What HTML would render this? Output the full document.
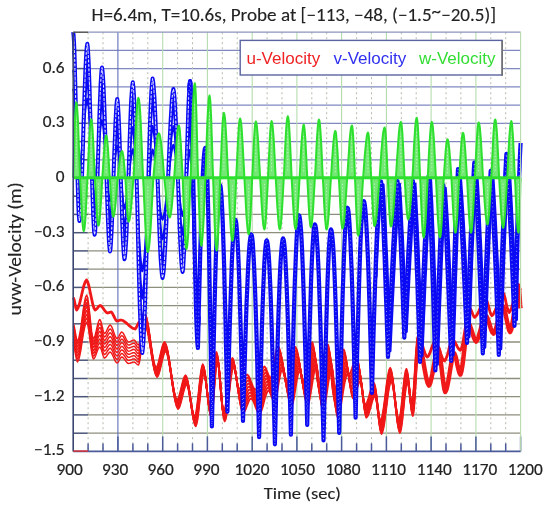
<!DOCTYPE html>
<html><head><meta charset="utf-8"><style>
html,body{margin:0;padding:0;background:#fff;}
svg{display:block;}
.tk{font-family:Carlito,"Liberation Sans",sans-serif;font-size:16px;fill:#222;stroke:#222;stroke-width:0.2px;}
.lg{font-family:"Liberation Sans",Arial,sans-serif;font-size:17px;}
.ti{font-family:Carlito,"Liberation Sans",sans-serif;font-size:18.5px;fill:#222;stroke:#222;stroke-width:0.12px;}
</style></head><body>
<svg width="550" height="508" viewBox="0 0 550 508">
<rect width="550" height="508" fill="#fff"/>
<line x1="88.2" y1="50.4" x2="520.6" y2="50.4" stroke="#7f88c0" stroke-width="1.3"/>
<line x1="73.2" y1="50.4" x2="88.2" y2="50.4" stroke="#4a5578" stroke-width="1.5"/>
<line x1="88.2" y1="68.6" x2="520.6" y2="68.6" stroke="#7f88c0" stroke-width="1.3"/>
<line x1="73.2" y1="68.6" x2="88.2" y2="68.6" stroke="#4a5578" stroke-width="1.5"/>
<line x1="88.2" y1="86.9" x2="520.6" y2="86.9" stroke="#7f88c0" stroke-width="1.3"/>
<line x1="73.2" y1="86.9" x2="88.2" y2="86.9" stroke="#4a5578" stroke-width="1.5"/>
<line x1="88.2" y1="105.1" x2="520.6" y2="105.1" stroke="#7f88c0" stroke-width="1.3"/>
<line x1="73.2" y1="105.1" x2="88.2" y2="105.1" stroke="#4a5578" stroke-width="1.5"/>
<line x1="88.2" y1="123.3" x2="520.6" y2="123.3" stroke="#7f88c0" stroke-width="1.3"/>
<line x1="73.2" y1="123.3" x2="88.2" y2="123.3" stroke="#4a5578" stroke-width="1.5"/>
<line x1="88.2" y1="141.6" x2="520.6" y2="141.6" stroke="#7f88c0" stroke-width="1.3"/>
<line x1="73.2" y1="141.6" x2="88.2" y2="141.6" stroke="#4a5578" stroke-width="1.5"/>
<line x1="88.2" y1="159.8" x2="520.6" y2="159.8" stroke="#7f88c0" stroke-width="1.3"/>
<line x1="73.2" y1="159.8" x2="88.2" y2="159.8" stroke="#4a5578" stroke-width="1.5"/>
<line x1="88.2" y1="178.0" x2="520.6" y2="178.0" stroke="#8e8e7e" stroke-width="1.3"/>
<line x1="73.2" y1="178.0" x2="88.2" y2="178.0" stroke="#4a5578" stroke-width="1.5"/>
<line x1="88.2" y1="196.2" x2="520.6" y2="196.2" stroke="#8e8e7e" stroke-width="1.3"/>
<line x1="73.2" y1="196.2" x2="88.2" y2="196.2" stroke="#4a5578" stroke-width="1.5"/>
<line x1="88.2" y1="214.4" x2="520.6" y2="214.4" stroke="#8e8e7e" stroke-width="1.3"/>
<line x1="73.2" y1="214.4" x2="88.2" y2="214.4" stroke="#4a5578" stroke-width="1.5"/>
<line x1="88.2" y1="232.7" x2="520.6" y2="232.7" stroke="#8e8e7e" stroke-width="1.3"/>
<line x1="73.2" y1="232.7" x2="88.2" y2="232.7" stroke="#4a5578" stroke-width="1.5"/>
<line x1="88.2" y1="250.9" x2="520.6" y2="250.9" stroke="#8e8e7e" stroke-width="1.3"/>
<line x1="73.2" y1="250.9" x2="88.2" y2="250.9" stroke="#4a5578" stroke-width="1.5"/>
<line x1="88.2" y1="269.1" x2="520.6" y2="269.1" stroke="#8e8e7e" stroke-width="1.3"/>
<line x1="73.2" y1="269.1" x2="88.2" y2="269.1" stroke="#4a5578" stroke-width="1.5"/>
<line x1="88.2" y1="287.4" x2="520.6" y2="287.4" stroke="#8e8e7e" stroke-width="1.3"/>
<line x1="73.2" y1="287.4" x2="88.2" y2="287.4" stroke="#4a5578" stroke-width="1.5"/>
<line x1="88.2" y1="305.6" x2="520.6" y2="305.6" stroke="#8e8e7e" stroke-width="1.3"/>
<line x1="73.2" y1="305.6" x2="88.2" y2="305.6" stroke="#4a5578" stroke-width="1.5"/>
<line x1="88.2" y1="323.8" x2="520.6" y2="323.8" stroke="#8e8e7e" stroke-width="1.3"/>
<line x1="73.2" y1="323.8" x2="88.2" y2="323.8" stroke="#4a5578" stroke-width="1.5"/>
<line x1="88.2" y1="342.0" x2="520.6" y2="342.0" stroke="#8e8e7e" stroke-width="1.3"/>
<line x1="73.2" y1="342.0" x2="88.2" y2="342.0" stroke="#4a5578" stroke-width="1.5"/>
<line x1="88.2" y1="360.2" x2="520.6" y2="360.2" stroke="#8e8e7e" stroke-width="1.3"/>
<line x1="73.2" y1="360.2" x2="88.2" y2="360.2" stroke="#4a5578" stroke-width="1.5"/>
<line x1="88.2" y1="378.5" x2="520.6" y2="378.5" stroke="#8e8e7e" stroke-width="1.3"/>
<line x1="73.2" y1="378.5" x2="88.2" y2="378.5" stroke="#4a5578" stroke-width="1.5"/>
<line x1="88.2" y1="396.7" x2="520.6" y2="396.7" stroke="#8e8e7e" stroke-width="1.3"/>
<line x1="73.2" y1="396.7" x2="88.2" y2="396.7" stroke="#4a5578" stroke-width="1.5"/>
<line x1="88.2" y1="414.9" x2="520.6" y2="414.9" stroke="#8e8e7e" stroke-width="1.3"/>
<line x1="73.2" y1="414.9" x2="88.2" y2="414.9" stroke="#4a5578" stroke-width="1.5"/>
<line x1="88.2" y1="433.2" x2="520.6" y2="433.2" stroke="#8e8e7e" stroke-width="1.3"/>
<line x1="73.2" y1="433.2" x2="88.2" y2="433.2" stroke="#4a5578" stroke-width="1.5"/>
<line x1="88.1" y1="32.2" x2="88.1" y2="451.4" stroke="#b4bcaa" stroke-width="1" stroke-dasharray="2 3"/>
<line x1="103.0" y1="32.2" x2="103.0" y2="451.4" stroke="#b4bcaa" stroke-width="1" stroke-dasharray="2 3"/>
<line x1="117.9" y1="32.2" x2="117.9" y2="451.4" stroke="#6070b8" stroke-width="1.1"/>
<line x1="132.9" y1="32.2" x2="132.9" y2="451.4" stroke="#b4bcaa" stroke-width="1" stroke-dasharray="2 3"/>
<line x1="147.8" y1="32.2" x2="147.8" y2="451.4" stroke="#b4bcaa" stroke-width="1" stroke-dasharray="2 3"/>
<line x1="162.7" y1="32.2" x2="162.7" y2="451.4" stroke="#b6dcae" stroke-width="1.1"/>
<line x1="177.6" y1="32.2" x2="177.6" y2="451.4" stroke="#b4bcaa" stroke-width="1" stroke-dasharray="2 3"/>
<line x1="192.5" y1="32.2" x2="192.5" y2="451.4" stroke="#b4bcaa" stroke-width="1" stroke-dasharray="2 3"/>
<line x1="207.4" y1="32.2" x2="207.4" y2="451.4" stroke="#b6dcae" stroke-width="1.1"/>
<line x1="222.3" y1="32.2" x2="222.3" y2="451.4" stroke="#b4bcaa" stroke-width="1" stroke-dasharray="2 3"/>
<line x1="237.2" y1="32.2" x2="237.2" y2="451.4" stroke="#b4bcaa" stroke-width="1" stroke-dasharray="2 3"/>
<line x1="252.2" y1="32.2" x2="252.2" y2="451.4" stroke="#b6dcae" stroke-width="1.1"/>
<line x1="267.1" y1="32.2" x2="267.1" y2="451.4" stroke="#b4bcaa" stroke-width="1" stroke-dasharray="2 3"/>
<line x1="282.0" y1="32.2" x2="282.0" y2="451.4" stroke="#b4bcaa" stroke-width="1" stroke-dasharray="2 3"/>
<line x1="296.9" y1="32.2" x2="296.9" y2="451.4" stroke="#b6dcae" stroke-width="1.1"/>
<line x1="311.8" y1="32.2" x2="311.8" y2="451.4" stroke="#b4bcaa" stroke-width="1" stroke-dasharray="2 3"/>
<line x1="326.7" y1="32.2" x2="326.7" y2="451.4" stroke="#b4bcaa" stroke-width="1" stroke-dasharray="2 3"/>
<line x1="341.6" y1="32.2" x2="341.6" y2="451.4" stroke="#b6dcae" stroke-width="1.1"/>
<line x1="356.6" y1="32.2" x2="356.6" y2="451.4" stroke="#b4bcaa" stroke-width="1" stroke-dasharray="2 3"/>
<line x1="371.5" y1="32.2" x2="371.5" y2="451.4" stroke="#b4bcaa" stroke-width="1" stroke-dasharray="2 3"/>
<line x1="386.4" y1="32.2" x2="386.4" y2="451.4" stroke="#b6dcae" stroke-width="1.1"/>
<line x1="401.3" y1="32.2" x2="401.3" y2="451.4" stroke="#b4bcaa" stroke-width="1" stroke-dasharray="2 3"/>
<line x1="416.2" y1="32.2" x2="416.2" y2="451.4" stroke="#b4bcaa" stroke-width="1" stroke-dasharray="2 3"/>
<line x1="431.1" y1="32.2" x2="431.1" y2="451.4" stroke="#b6dcae" stroke-width="1.1"/>
<line x1="446.0" y1="32.2" x2="446.0" y2="451.4" stroke="#b4bcaa" stroke-width="1" stroke-dasharray="2 3"/>
<line x1="460.9" y1="32.2" x2="460.9" y2="451.4" stroke="#b4bcaa" stroke-width="1" stroke-dasharray="2 3"/>
<line x1="475.9" y1="32.2" x2="475.9" y2="451.4" stroke="#b6dcae" stroke-width="1.1"/>
<line x1="490.8" y1="32.2" x2="490.8" y2="451.4" stroke="#b4bcaa" stroke-width="1" stroke-dasharray="2 3"/>
<line x1="505.7" y1="32.2" x2="505.7" y2="451.4" stroke="#b4bcaa" stroke-width="1" stroke-dasharray="2 3"/>
<line x1="88.1" y1="443.4" x2="88.1" y2="451.4" stroke="#4a5a9a" stroke-width="1.5"/>
<line x1="103.0" y1="443.4" x2="103.0" y2="451.4" stroke="#4a5a9a" stroke-width="1.5"/>
<line x1="117.9" y1="436.4" x2="117.9" y2="451.4" stroke="#4a5a9a" stroke-width="1.5"/>
<line x1="132.9" y1="443.4" x2="132.9" y2="451.4" stroke="#4a5a9a" stroke-width="1.5"/>
<line x1="147.8" y1="443.4" x2="147.8" y2="451.4" stroke="#4a5a9a" stroke-width="1.5"/>
<line x1="162.7" y1="436.4" x2="162.7" y2="451.4" stroke="#4a5a9a" stroke-width="1.5"/>
<line x1="177.6" y1="443.4" x2="177.6" y2="451.4" stroke="#4a5a9a" stroke-width="1.5"/>
<line x1="192.5" y1="443.4" x2="192.5" y2="451.4" stroke="#4a5a9a" stroke-width="1.5"/>
<line x1="207.4" y1="436.4" x2="207.4" y2="451.4" stroke="#4a5a9a" stroke-width="1.5"/>
<line x1="222.3" y1="443.4" x2="222.3" y2="451.4" stroke="#4a5a9a" stroke-width="1.5"/>
<line x1="237.2" y1="443.4" x2="237.2" y2="451.4" stroke="#4a5a9a" stroke-width="1.5"/>
<line x1="252.2" y1="436.4" x2="252.2" y2="451.4" stroke="#4a5a9a" stroke-width="1.5"/>
<line x1="267.1" y1="443.4" x2="267.1" y2="451.4" stroke="#4a5a9a" stroke-width="1.5"/>
<line x1="282.0" y1="443.4" x2="282.0" y2="451.4" stroke="#4a5a9a" stroke-width="1.5"/>
<line x1="296.9" y1="436.4" x2="296.9" y2="451.4" stroke="#4a5a9a" stroke-width="1.5"/>
<line x1="311.8" y1="443.4" x2="311.8" y2="451.4" stroke="#4a5a9a" stroke-width="1.5"/>
<line x1="326.7" y1="443.4" x2="326.7" y2="451.4" stroke="#4a5a9a" stroke-width="1.5"/>
<line x1="341.6" y1="436.4" x2="341.6" y2="451.4" stroke="#4a5a9a" stroke-width="1.5"/>
<line x1="356.6" y1="443.4" x2="356.6" y2="451.4" stroke="#4a5a9a" stroke-width="1.5"/>
<line x1="371.5" y1="443.4" x2="371.5" y2="451.4" stroke="#4a5a9a" stroke-width="1.5"/>
<line x1="386.4" y1="436.4" x2="386.4" y2="451.4" stroke="#4a5a9a" stroke-width="1.5"/>
<line x1="401.3" y1="443.4" x2="401.3" y2="451.4" stroke="#4a5a9a" stroke-width="1.5"/>
<line x1="416.2" y1="443.4" x2="416.2" y2="451.4" stroke="#4a5a9a" stroke-width="1.5"/>
<line x1="431.1" y1="436.4" x2="431.1" y2="451.4" stroke="#4a5a9a" stroke-width="1.5"/>
<line x1="446.0" y1="443.4" x2="446.0" y2="451.4" stroke="#4a5a9a" stroke-width="1.5"/>
<line x1="460.9" y1="443.4" x2="460.9" y2="451.4" stroke="#4a5a9a" stroke-width="1.5"/>
<line x1="475.9" y1="436.4" x2="475.9" y2="451.4" stroke="#4a5a9a" stroke-width="1.5"/>
<line x1="490.8" y1="443.4" x2="490.8" y2="451.4" stroke="#4a5a9a" stroke-width="1.5"/>
<line x1="505.7" y1="443.4" x2="505.7" y2="451.4" stroke="#4a5a9a" stroke-width="1.5"/>
<line x1="520.6" y1="436.4" x2="520.6" y2="451.4" stroke="#4a5a9a" stroke-width="1.5"/>
<g id="curves">
<path d="M73.2,323.5 L73.7,324.4 L74.3,326.3 L74.8,329.1 L75.3,332.2 L75.9,335.4 L76.4,338.2 L77.0,340.1 L77.5,341.0 L78.7,338.6 L79.8,333.5 L81.0,326.3 L82.1,318.0 L83.2,309.7 L84.4,302.5 L85.5,297.4 L86.7,295.0 L87.5,297.2 L88.4,302.1 L89.2,309.0 L90.1,317.0 L90.9,325.0 L91.7,331.9 L92.6,336.8 L93.4,339.0 L94.2,338.0 L95.0,335.8 L95.8,332.8 L96.6,329.2 L97.4,325.7 L98.2,322.7 L99.0,320.5 L99.8,319.5 L100.4,320.2 L101.0,321.8 L101.6,324.0 L102.2,326.5 L102.7,329.0 L103.3,331.2 L103.9,332.8 L104.5,333.5 L105.2,333.1 L105.9,332.1 L106.6,330.8 L107.3,329.2 L108.1,327.7 L108.8,326.4 L109.5,325.4 L110.2,325.0 L111.0,325.7 L111.9,327.2 L112.8,329.3 L113.6,331.8 L114.5,334.3 L115.3,336.4 L116.2,337.9 L117.0,338.6 L117.6,338.3 L118.2,337.5 L118.8,336.5 L119.4,335.3 L120.0,334.1 L120.6,333.1 L121.2,332.3 L121.8,332.0 L122.6,332.5 L123.5,333.6 L124.3,335.2 L125.2,337.0 L126.0,338.8 L126.8,340.4 L127.7,341.5 L128.5,342.0 L129.2,341.9 L129.9,341.7 L130.6,341.4 L131.2,341.0 L131.9,340.6 L132.6,340.3 L133.3,340.1 L134.0,340.0 L134.6,340.3 L135.1,340.8 L135.7,341.6 L136.2,342.5 L136.8,343.4 L137.4,344.2 L137.9,344.7 L138.5,345.0 L139.3,343.4 L140.1,339.8 L140.9,334.8 L141.7,329.0 L142.4,323.2 L143.2,318.2 L144.0,314.6 L144.8,313.0" fill="none" stroke="#f01818" stroke-width="1.45" stroke-linejoin="round"/>
<path d="M73.2,326.6 L73.7,327.5 L74.3,329.4 L74.8,332.1 L75.3,335.3 L75.9,338.4 L76.4,341.2 L77.0,343.1 L77.5,344.0 L78.7,341.7 L79.8,336.7 L81.0,329.6 L82.1,321.4 L83.2,313.2 L84.4,306.2 L85.5,301.2 L86.7,298.9 L87.5,301.1 L88.4,305.8 L89.2,312.6 L90.1,320.4 L90.9,328.2 L91.7,334.9 L92.6,339.7 L93.4,341.9 L94.2,340.9 L95.0,338.9 L95.8,336.0 L96.6,332.6 L97.4,329.3 L98.2,326.4 L99.0,324.4 L99.8,323.4 L100.4,324.1 L101.0,325.6 L101.6,327.8 L102.2,330.2 L102.7,332.7 L103.3,334.8 L103.9,336.3 L104.5,337.0 L105.2,336.6 L105.9,335.7 L106.6,334.4 L107.3,332.9 L108.1,331.5 L108.8,330.2 L109.5,329.3 L110.2,328.9 L111.0,329.5 L111.9,331.0 L112.8,333.1 L113.6,335.5 L114.5,337.9 L115.3,339.9 L116.2,341.4 L117.0,342.1 L117.6,341.8 L118.2,341.0 L118.8,340.0 L119.4,338.8 L120.0,337.6 L120.6,336.6 L121.2,335.9 L121.8,335.6 L122.6,336.1 L123.5,337.1 L124.3,338.6 L125.2,340.3 L126.0,342.0 L126.8,343.5 L127.7,344.6 L128.5,345.1 L129.2,345.0 L129.9,344.8 L130.6,344.5 L131.2,344.1 L131.9,343.8 L132.6,343.5 L133.3,343.2 L134.0,343.1 L134.6,343.4 L135.1,343.9 L135.7,344.6 L136.2,345.5 L136.8,346.4 L137.4,347.1 L137.9,347.6 L138.5,347.9 L139.3,346.2 L140.1,342.5 L140.9,337.3 L141.7,331.4 L142.4,325.4 L143.2,320.2 L144.0,316.5 L144.8,314.9" fill="none" stroke="#f01818" stroke-width="1.45" stroke-linejoin="round"/>
<path d="M73.2,329.6 L73.7,330.5 L74.3,332.5 L74.8,335.2 L75.3,338.3 L75.9,341.5 L76.4,344.2 L77.0,346.1 L77.5,347.0 L78.7,344.7 L79.8,339.8 L81.0,332.9 L82.1,324.9 L83.2,316.8 L84.4,309.9 L85.5,305.0 L86.7,302.7 L87.5,304.9 L88.4,309.5 L89.2,316.1 L90.1,323.7 L90.9,331.3 L91.7,337.9 L92.6,342.6 L93.4,344.7 L94.2,343.8 L95.0,341.9 L95.8,339.2 L96.6,336.0 L97.4,332.9 L98.2,330.2 L99.0,328.2 L99.8,327.4 L100.4,328.0 L101.0,329.5 L101.6,331.5 L102.2,333.9 L102.7,336.3 L103.3,338.4 L103.9,339.8 L104.5,340.5 L105.2,340.1 L105.9,339.2 L106.6,338.0 L107.3,336.6 L108.1,335.2 L108.8,334.0 L109.5,333.1 L110.2,332.7 L111.0,333.4 L111.9,334.8 L112.8,336.8 L113.6,339.1 L114.5,341.5 L115.3,343.5 L116.2,344.9 L117.0,345.6 L117.6,345.2 L118.2,344.5 L118.8,343.5 L119.4,342.4 L120.0,341.2 L120.6,340.2 L121.2,339.5 L121.8,339.1 L122.6,339.6 L123.5,340.6 L124.3,342.0 L125.2,343.6 L126.0,345.3 L126.8,346.7 L127.7,347.7 L128.5,348.1 L129.2,348.0 L129.9,347.8 L130.6,347.6 L131.2,347.2 L131.9,346.9 L132.6,346.6 L133.3,346.4 L134.0,346.3 L134.6,346.5 L135.1,347.0 L135.7,347.7 L136.2,348.5 L136.8,349.3 L137.4,350.0 L137.9,350.5 L138.5,350.7 L139.3,349.0 L140.1,345.2 L140.9,339.9 L141.7,333.7 L142.4,327.5 L143.2,322.2 L144.0,318.5 L144.8,316.7" fill="none" stroke="#f01818" stroke-width="1.45" stroke-linejoin="round"/>
<path d="M73.2,332.7 L73.7,333.6 L74.3,335.5 L74.8,338.2 L75.3,341.4 L75.9,344.5 L76.4,347.2 L77.0,349.1 L77.5,350.0 L78.7,347.8 L79.8,343.0 L81.0,336.2 L82.1,328.3 L83.2,320.4 L84.4,313.6 L85.5,308.8 L86.7,306.6 L87.5,308.7 L88.4,313.2 L89.2,319.6 L90.1,327.1 L90.9,334.5 L91.7,340.9 L92.6,345.5 L93.4,347.6 L94.2,346.7 L95.0,344.9 L95.8,342.4 L96.6,339.4 L97.4,336.5 L98.2,333.9 L99.0,332.1 L99.8,331.3 L100.4,331.9 L101.0,333.3 L101.6,335.3 L102.2,337.6 L102.7,339.9 L103.3,341.9 L103.9,343.4 L104.5,344.0 L105.2,343.6 L105.9,342.8 L106.6,341.6 L107.3,340.3 L108.1,338.9 L108.8,337.8 L109.5,337.0 L110.2,336.6 L111.0,337.2 L111.9,338.6 L112.8,340.5 L113.6,342.8 L114.5,345.1 L115.3,347.0 L116.2,348.4 L117.0,349.1 L117.6,348.7 L118.2,348.0 L118.8,347.0 L119.4,345.9 L120.0,344.7 L120.6,343.7 L121.2,343.0 L121.8,342.7 L122.6,343.1 L123.5,344.1 L124.3,345.4 L125.2,347.0 L126.0,348.5 L126.8,349.8 L127.7,350.8 L128.5,351.2 L129.2,351.1 L129.9,350.9 L130.6,350.6 L131.2,350.3 L131.9,350.0 L132.6,349.7 L133.3,349.5 L134.0,349.4 L134.6,349.6 L135.1,350.1 L135.7,350.7 L136.2,351.5 L136.8,352.3 L137.4,352.9 L137.9,353.4 L138.5,353.6 L139.3,351.8 L140.1,347.9 L140.9,342.4 L141.7,336.1 L142.4,329.7 L143.2,324.2 L144.0,320.4 L144.8,318.6" fill="none" stroke="#f01818" stroke-width="1.45" stroke-linejoin="round"/>
<path d="M73.2,335.8 L73.7,336.7 L74.3,338.6 L74.8,341.3 L75.3,344.4 L75.9,347.5 L76.4,350.2 L77.0,352.1 L77.5,353.0 L78.7,350.8 L79.8,346.1 L81.0,339.4 L82.1,331.7 L83.2,324.0 L84.4,317.3 L85.5,312.6 L86.7,310.4 L87.5,312.5 L88.4,316.9 L89.2,323.2 L90.1,330.4 L90.9,337.7 L91.7,343.9 L92.6,348.4 L93.4,350.4 L94.2,349.7 L95.0,348.0 L95.8,345.6 L96.6,342.8 L97.4,340.1 L98.2,337.7 L99.0,336.0 L99.8,335.2 L100.4,335.8 L101.0,337.2 L101.6,339.1 L102.2,341.4 L102.7,343.6 L103.3,345.5 L103.9,346.9 L104.5,347.5 L105.2,347.1 L105.9,346.4 L106.6,345.2 L107.3,344.0 L108.1,342.7 L108.8,341.6 L109.5,340.8 L110.2,340.4 L111.0,341.0 L111.9,342.4 L112.8,344.3 L113.6,346.5 L114.5,348.7 L115.3,350.6 L116.2,351.9 L117.0,352.5 L117.6,352.2 L118.2,351.5 L118.8,350.5 L119.4,349.4 L120.0,348.3 L120.6,347.3 L121.2,346.6 L121.8,346.3 L122.6,346.7 L123.5,347.6 L124.3,348.8 L125.2,350.3 L126.0,351.7 L126.8,353.0 L127.7,353.9 L128.5,354.3 L129.2,354.2 L129.9,354.0 L130.6,353.7 L131.2,353.4 L131.9,353.1 L132.6,352.8 L133.3,352.7 L134.0,352.6 L134.6,352.8 L135.1,353.2 L135.7,353.8 L136.2,354.5 L136.8,355.2 L137.4,355.8 L137.9,356.2 L138.5,356.4 L139.3,354.6 L140.1,350.6 L140.9,345.0 L141.7,338.4 L142.4,331.9 L143.2,326.3 L144.0,322.3 L144.8,320.4" fill="none" stroke="#f01818" stroke-width="1.45" stroke-linejoin="round"/>
<path d="M73.2,338.9 L73.7,339.7 L74.3,341.6 L74.8,344.3 L75.3,347.4 L75.9,350.5 L76.4,353.2 L77.0,355.1 L77.5,356.0 L78.7,353.9 L79.8,349.2 L81.0,342.7 L82.1,335.1 L83.2,327.6 L84.4,321.0 L85.5,316.4 L86.7,314.3 L87.5,316.3 L88.4,320.6 L89.2,326.7 L90.1,333.8 L90.9,340.9 L91.7,347.0 L92.6,351.3 L93.4,353.3 L94.2,352.6 L95.0,351.0 L95.8,348.8 L96.6,346.2 L97.4,343.6 L98.2,341.4 L99.0,339.9 L99.8,339.1 L100.4,339.7 L101.0,341.1 L101.6,342.9 L102.2,345.1 L102.7,347.2 L103.3,349.1 L103.9,350.4 L104.5,351.0 L105.2,350.7 L105.9,349.9 L106.6,348.9 L107.3,347.6 L108.1,346.4 L108.8,345.4 L109.5,344.6 L110.2,344.3 L111.0,344.9 L111.9,346.2 L112.8,348.0 L113.6,350.2 L114.5,352.3 L115.3,354.1 L116.2,355.4 L117.0,356.0 L117.6,355.7 L118.2,355.0 L118.8,354.1 L119.4,352.9 L120.0,351.8 L120.6,350.9 L121.2,350.2 L121.8,349.9 L122.6,350.2 L123.5,351.1 L124.3,352.2 L125.2,353.6 L126.0,355.0 L126.8,356.1 L127.7,357.0 L128.5,357.4 L129.2,357.3 L129.9,357.1 L130.6,356.8 L131.2,356.5 L131.9,356.2 L132.6,356.0 L133.3,355.8 L134.0,355.7 L134.6,355.9 L135.1,356.3 L135.7,356.9 L136.2,357.5 L136.8,358.1 L137.4,358.7 L137.9,359.1 L138.5,359.3 L139.3,357.4 L140.1,353.3 L140.9,347.5 L141.7,340.8 L142.4,334.1 L143.2,328.3 L144.0,324.2 L144.8,322.3" fill="none" stroke="#f01818" stroke-width="1.45" stroke-linejoin="round"/>
<path d="M73.2,341.9 L73.7,342.8 L74.3,344.7 L74.8,347.4 L75.3,350.5 L75.9,353.6 L76.4,356.2 L77.0,358.1 L77.5,359.0 L78.7,356.9 L79.8,352.4 L81.0,346.0 L82.1,338.6 L83.2,331.2 L84.4,324.8 L85.5,320.2 L86.7,318.1 L87.5,320.1 L88.4,324.3 L89.2,330.3 L90.1,337.1 L90.9,344.0 L91.7,350.0 L92.6,354.2 L93.4,356.1 L94.2,355.5 L95.0,354.0 L95.8,352.0 L96.6,349.6 L97.4,347.2 L98.2,345.2 L99.0,343.7 L99.8,343.1 L100.4,343.7 L101.0,344.9 L101.6,346.7 L102.2,348.8 L102.7,350.9 L103.3,352.6 L103.9,353.9 L104.5,354.5 L105.2,354.2 L105.9,353.5 L106.6,352.5 L107.3,351.3 L108.1,350.2 L108.8,349.2 L109.5,348.5 L110.2,348.1 L111.0,348.7 L111.9,350.0 L112.8,351.8 L113.6,353.8 L114.5,355.9 L115.3,357.7 L116.2,358.9 L117.0,359.5 L117.6,359.2 L118.2,358.5 L118.8,357.6 L119.4,356.5 L120.0,355.4 L120.6,354.4 L121.2,353.7 L121.8,353.4 L122.6,353.8 L123.5,354.6 L124.3,355.7 L125.2,356.9 L126.0,358.2 L126.8,359.3 L127.7,360.1 L128.5,360.4 L129.2,360.3 L129.9,360.2 L130.6,359.9 L131.2,359.6 L131.9,359.4 L132.6,359.1 L133.3,358.9 L134.0,358.9 L134.6,359.0 L135.1,359.4 L135.7,359.9 L136.2,360.5 L136.8,361.1 L137.4,361.6 L137.9,362.0 L138.5,362.1 L139.3,360.2 L140.1,356.0 L140.9,350.0 L141.7,343.1 L142.4,336.3 L143.2,330.3 L144.0,326.1 L144.8,324.1" fill="none" stroke="#f01818" stroke-width="1.45" stroke-linejoin="round"/>
<path d="M73.2,345.0 L73.7,345.9 L74.3,347.8 L74.8,350.4 L75.3,353.5 L75.9,356.6 L76.4,359.2 L77.0,361.1 L77.5,362.0 L78.7,360.0 L79.8,355.5 L81.0,349.3 L82.1,342.0 L83.2,334.7 L84.4,328.5 L85.5,324.0 L86.7,322.0 L87.5,323.9 L88.4,328.0 L89.2,333.8 L90.1,340.5 L90.9,347.2 L91.7,353.0 L92.6,357.1 L93.4,359.0 L94.2,358.4 L95.0,357.1 L95.8,355.2 L96.6,353.0 L97.4,350.8 L98.2,348.9 L99.0,347.6 L99.8,347.0 L100.4,347.6 L101.0,348.8 L101.6,350.5 L102.2,352.5 L102.7,354.5 L103.3,356.2 L103.9,357.4 L104.5,358.0 L105.2,357.7 L105.9,357.0 L106.6,356.1 L107.3,355.0 L108.1,353.9 L108.8,353.0 L109.5,352.3 L110.2,352.0 L111.0,352.6 L111.9,353.8 L112.8,355.5 L113.6,357.5 L114.5,359.5 L115.3,361.2 L116.2,362.4 L117.0,363.0 L117.6,362.7 L118.2,362.0 L118.8,361.1 L119.4,360.0 L120.0,358.9 L120.6,358.0 L121.2,357.3 L121.8,357.0 L122.6,357.3 L123.5,358.1 L124.3,359.1 L125.2,360.2 L126.0,361.4 L126.8,362.4 L127.7,363.2 L128.5,363.5 L129.2,363.4 L129.9,363.3 L130.6,363.0 L131.2,362.8 L131.9,362.5 L132.6,362.2 L133.3,362.1 L134.0,362.0 L134.6,362.2 L135.1,362.5 L135.7,363.0 L136.2,363.5 L136.8,364.0 L137.4,364.5 L137.9,364.8 L138.5,365.0 L139.3,363.0 L140.1,358.7 L140.9,352.6 L141.7,345.5 L142.4,338.4 L143.2,332.3 L144.0,328.0 L144.8,326.0" fill="none" stroke="#f01818" stroke-width="1.45" stroke-linejoin="round"/>
<path d="M144.8,313.5 L145.9,315.5 L147.0,319.6 L148.2,325.5 L149.3,332.8 L150.4,340.8 L151.5,348.7 L152.6,356.0 L153.8,361.9 L154.9,366.0 L156.0,368.0 L156.9,367.1 L157.7,365.1 L158.6,362.3 L159.4,358.8 L160.3,355.0 L161.2,351.2 L162.0,347.7 L162.9,344.9 L163.7,342.9 L164.6,342.0 L165.8,344.1 L167.1,348.4 L168.3,354.8 L169.6,362.5 L170.8,371.0 L172.0,379.5 L173.3,387.2 L174.5,393.6 L175.8,397.9 L177.0,400.0 L177.9,399.1 L178.7,397.3 L179.6,394.6 L180.4,391.3 L181.3,387.7 L182.2,384.0 L183.0,380.7 L183.9,378.0 L184.7,376.2 L185.6,375.3 L186.5,376.8 L187.4,380.0 L188.3,384.5 L189.2,390.2 L190.1,396.3 L191.1,402.4 L192.0,408.1 L192.9,412.6 L193.8,415.8 L194.7,417.3 L195.5,415.4 L196.3,411.4 L197.1,405.6 L197.9,398.6 L198.8,390.8 L199.6,383.0 L200.4,376.0 L201.2,370.2 L202.0,366.2 L202.8,364.3 L203.5,365.9 L204.3,369.2 L205.0,373.9 L205.8,379.8 L206.5,386.1 L207.2,392.5 L208.0,398.4 L208.7,403.1 L209.5,406.4 L210.2,408.0 L210.8,406.0 L211.4,401.8 L212.1,395.7 L212.7,388.2 L213.3,380.0 L213.9,371.8 L214.5,364.3 L215.2,358.2 L215.8,354.0 L216.4,352.0 L217.1,354.2 L217.9,358.7 L218.6,365.3 L219.3,373.4 L220.1,382.2 L220.8,391.0 L221.5,399.1 L222.2,405.7 L223.0,410.2 L223.7,412.4 L224.6,410.5 L225.4,406.4 L226.3,400.4 L227.2,393.2 L228.1,385.2 L228.9,377.2 L229.8,370.0 L230.7,364.0 L231.5,359.9 L232.4,358.0 L233.1,359.1 L233.7,361.4 L234.4,364.8 L235.0,369.0 L235.7,373.5 L236.4,378.0 L237.0,382.2 L237.7,385.6 L238.3,387.9 L239.0,389.0 L239.8,388.5 L240.6,387.4 L241.4,385.8 L242.2,383.8 L243.0,381.7 L243.8,379.6 L244.6,377.6 L245.4,376.0 L246.2,374.9 L247.0,374.4 L247.8,375.0 L248.7,376.1 L249.6,377.8 L250.4,379.8 L251.2,382.1 L252.1,384.4 L252.9,386.4 L253.8,388.1 L254.7,389.2 L255.5,389.8 L256.4,389.0 L257.3,387.2 L258.2,384.7 L259.1,381.6 L259.9,378.2 L260.8,374.7 L261.7,371.6 L262.6,369.1 L263.5,367.3 L264.4,366.5 L265.0,366.9 L265.6,367.8 L266.2,369.0 L266.8,370.6 L267.4,372.2 L268.1,373.9 L268.7,375.5 L269.3,376.7 L269.9,377.6 L270.5,378.0 L271.2,376.9 L272.0,374.4 L272.8,371.0 L273.5,366.7 L274.2,362.0 L275.0,357.3 L275.8,353.0 L276.5,349.6 L277.2,347.1 L278.0,346.0 L278.9,347.3 L279.9,350.0 L280.9,353.9 L281.8,358.7 L282.8,364.0 L283.7,369.3 L284.6,374.1 L285.6,378.0 L286.6,380.7 L287.5,382.0 L288.3,380.7 L289.1,378.1 L289.9,374.3 L290.7,369.6 L291.5,364.5 L292.3,359.4 L293.1,354.7 L293.9,350.9 L294.7,348.3 L295.5,347.0 L296.3,348.2 L297.1,350.8 L297.9,354.5 L298.7,359.1 L299.5,364.1 L300.3,369.1 L301.1,373.7 L301.9,377.4 L302.7,380.0 L303.5,381.2 L304.4,379.8 L305.3,376.9 L306.1,372.6 L307.0,367.4 L307.9,361.8 L308.8,356.1 L309.7,350.9 L310.5,346.6 L311.4,343.7 L312.3,342.3 L312.9,343.9 L313.6,347.2 L314.2,351.9 L314.9,357.8 L315.6,364.1 L316.2,370.5 L316.9,376.4 L317.5,381.1 L318.2,384.4 L318.8,386.0 L319.7,384.5 L320.6,381.4 L321.6,376.9 L322.5,371.4 L323.4,365.3 L324.3,359.2 L325.2,353.7 L326.2,349.2 L327.1,346.1 L328.0,344.6 L328.6,346.3 L329.1,350.0 L329.6,355.3 L330.2,361.7 L330.8,368.8 L331.3,375.9 L331.9,382.3 L332.4,387.6 L332.9,391.3 L333.5,393.0 L334.5,391.4 L335.5,388.2 L336.6,383.4 L337.6,377.6 L338.6,371.2 L339.6,364.8 L340.6,359.0 L341.7,354.2 L342.7,351.0 L343.7,349.4 L344.2,350.3 L344.8,352.2 L345.3,354.9 L345.8,358.2 L346.4,361.8 L346.9,365.5 L347.4,368.8 L347.9,371.5 L348.5,373.4 L349.0,374.3 L349.8,373.7 L350.5,372.4 L351.2,370.5 L352.0,368.2 L352.8,365.7 L353.5,363.1 L354.2,360.8 L355.0,358.9 L355.8,357.6 L356.5,357.0 L357.4,358.7 L358.3,362.3 L359.1,367.5 L360.0,373.9 L360.9,380.8 L361.8,387.8 L362.7,394.2 L363.5,399.4 L364.4,403.0 L365.3,404.7 L366.2,403.9 L367.0,402.3 L367.9,399.9 L368.8,397.0 L369.6,393.9 L370.5,390.7 L371.4,387.8 L372.3,385.4 L373.1,383.8 L374.0,383.0 L374.6,384.4 L375.3,387.2 L375.9,391.4 L376.6,396.4 L377.2,402.0 L377.9,407.6 L378.6,412.6 L379.2,416.8 L379.9,419.6 L380.5,421.0 L381.5,419.1 L382.4,415.1 L383.4,409.3 L384.4,402.2 L385.4,394.4 L386.3,386.6 L387.3,379.5 L388.3,373.7 L389.2,369.7 L390.2,367.8 L391.1,369.7 L391.9,373.6 L392.8,379.3 L393.7,386.3 L394.5,393.9 L395.4,401.5 L396.3,408.5 L397.2,414.2 L398.0,418.1 L398.9,420.0 L399.6,418.2 L400.4,414.3 L401.1,408.7 L401.9,401.9 L402.6,394.4 L403.4,387.0 L404.1,380.2 L404.9,374.6 L405.6,370.7 L406.4,368.9 L406.9,370.1 L407.5,372.7 L408.0,376.4 L408.6,381.0 L409.1,385.9 L409.6,390.9 L410.2,395.5 L410.7,399.2 L411.3,401.8 L411.8,403.0 L412.4,400.6 L413.0,395.4 L413.7,388.0 L414.3,379.0 L414.9,369.0 L415.5,359.0 L416.1,350.0 L416.8,342.6 L417.4,337.4 L418.0,335.0" fill="none" stroke="#f01818" stroke-width="1.8" stroke-linejoin="round"/>
<path d="M144.8,314.8 L145.9,316.8 L147.1,320.9 L148.2,326.8 L149.3,334.0 L150.5,342.0 L151.6,349.9 L152.7,357.2 L153.9,363.1 L155.0,367.2 L156.1,369.1 L157.0,368.2 L157.8,366.2 L158.7,363.4 L159.6,359.9 L160.4,356.1 L161.3,352.3 L162.1,348.8 L163.0,346.0 L163.9,344.1 L164.7,343.1 L166.0,345.2 L167.2,349.6 L168.4,355.9 L169.7,363.6 L170.9,372.1 L172.2,380.6 L173.4,388.4 L174.7,394.7 L175.9,399.0 L177.1,401.1 L178.0,400.2 L178.8,398.4 L179.7,395.7 L180.6,392.4 L181.4,388.8 L182.3,385.2 L183.1,381.9 L184.0,379.2 L184.9,377.3 L185.7,376.4 L186.6,377.9 L187.5,381.1 L188.5,385.7 L189.4,391.3 L190.3,397.4 L191.2,403.6 L192.1,409.2 L193.0,413.8 L193.9,416.9 L194.8,418.4 L195.6,416.5 L196.4,412.5 L197.3,406.8 L198.1,399.7 L198.9,391.9 L199.7,384.2 L200.5,377.1 L201.3,371.3 L202.1,367.3 L202.9,365.4 L203.7,367.0 L204.4,370.3 L205.2,375.0 L205.9,380.9 L206.6,387.3 L207.4,393.7 L208.1,399.5 L208.8,404.3 L209.6,407.6 L210.3,409.1 L210.9,407.1 L211.6,402.9 L212.2,396.8 L212.8,389.3 L213.4,381.1 L214.0,372.9 L214.7,365.5 L215.3,359.4 L215.9,355.1 L216.5,353.1 L217.3,355.3 L218.0,359.8 L218.7,366.4 L219.4,374.5 L220.2,383.3 L220.9,392.2 L221.6,400.2 L222.4,406.8 L223.1,411.4 L223.8,413.5 L224.7,411.6 L225.6,407.5 L226.4,401.5 L227.3,394.3 L228.2,386.3 L229.0,378.4 L229.9,371.1 L230.8,365.2 L231.7,361.1 L232.5,359.1 L233.2,360.3 L233.9,362.8 L234.6,366.4 L235.3,370.8 L236.0,375.6 L236.7,380.4 L237.4,384.8 L238.1,388.3 L238.8,390.8 L239.5,392.0 L240.3,391.5 L241.1,390.4 L241.9,388.8 L242.7,386.8 L243.5,384.7 L244.3,382.6 L245.1,380.6 L245.9,379.0 L246.7,377.9 L247.5,377.4 L248.3,378.0 L249.2,379.1 L250.1,380.8 L250.9,382.8 L251.8,385.1 L252.6,387.4 L253.4,389.4 L254.3,391.1 L255.2,392.2 L256.0,392.8 L256.9,392.0 L257.8,390.2 L258.7,387.7 L259.6,384.6 L260.4,381.2 L261.3,377.7 L262.2,374.6 L263.1,372.1 L264.0,370.3 L264.9,369.5 L265.5,369.9 L266.1,370.8 L266.7,372.0 L267.3,373.6 L267.9,375.2 L268.6,376.9 L269.2,378.5 L269.8,379.7 L270.4,380.6 L271.0,381.0 L271.8,379.9 L272.5,377.4 L273.2,374.0 L274.0,369.7 L274.8,365.0 L275.5,360.3 L276.2,356.0 L277.0,352.6 L277.8,350.1 L278.5,349.0 L279.4,350.3 L280.4,353.0 L281.4,356.9 L282.3,361.7 L283.2,367.0 L284.2,372.3 L285.1,377.1 L286.1,381.0 L287.1,383.7 L288.0,385.0 L288.8,383.7 L289.6,381.1 L290.4,377.3 L291.2,372.6 L292.0,367.5 L292.8,362.4 L293.6,357.7 L294.4,353.9 L295.2,351.3 L296.0,350.0 L296.8,351.2 L297.6,353.8 L298.4,357.5 L299.2,362.1 L300.0,367.1 L300.8,372.1 L301.6,376.7 L302.4,380.4 L303.2,383.0 L304.0,384.2 L304.9,382.8 L305.8,379.9 L306.6,375.6 L307.5,370.4 L308.4,364.8 L309.3,359.1 L310.2,353.9 L311.0,349.6 L311.9,346.7 L312.8,345.3 L313.4,346.9 L314.1,350.2 L314.8,354.9 L315.4,360.8 L316.1,367.1 L316.7,373.5 L317.4,379.4 L318.0,384.1 L318.7,387.4 L319.3,389.0 L320.2,387.5 L321.1,384.4 L322.1,379.9 L323.0,374.4 L323.9,368.3 L324.8,362.2 L325.7,356.7 L326.7,352.2 L327.6,349.1 L328.5,347.6 L329.1,349.3 L329.6,353.0 L330.1,358.3 L330.7,364.7 L331.2,371.8 L331.8,378.9 L332.4,385.3 L332.9,390.6 L333.4,394.3 L334.0,396.0 L335.0,394.4 L336.0,391.2 L337.1,386.4 L338.1,380.6 L339.1,374.2 L340.1,367.8 L341.1,362.0 L342.2,357.2 L343.2,354.0 L344.2,352.4 L344.7,353.3 L345.3,355.2 L345.8,357.9 L346.3,361.2 L346.9,364.8 L347.4,368.5 L347.9,371.8 L348.4,374.5 L349.0,376.4 L349.5,377.3 L350.2,376.7 L351.0,375.4 L351.8,373.5 L352.5,371.2 L353.2,368.7 L354.0,366.1 L354.8,363.8 L355.5,361.9 L356.2,360.6 L357.0,360.0 L357.8,361.7 L358.7,365.1 L359.5,370.2 L360.4,376.4 L361.2,383.2 L362.1,389.9 L362.9,396.1 L363.7,401.2 L364.6,404.7 L365.4,406.3 L366.3,405.5 L367.2,403.9 L368.0,401.5 L368.9,398.7 L369.8,395.5 L370.6,392.3 L371.5,389.4 L372.4,387.0 L373.3,385.4 L374.1,384.6 L374.8,386.0 L375.4,388.8 L376.1,393.0 L376.7,398.1 L377.4,403.6 L378.0,409.2 L378.7,414.3 L379.3,418.4 L380.0,421.3 L380.6,422.6 L381.6,420.7 L382.6,416.7 L383.5,410.9 L384.5,403.8 L385.5,396.0 L386.4,388.2 L387.4,381.1 L388.4,375.3 L389.4,371.3 L390.3,369.4 L391.2,371.3 L392.1,375.2 L392.9,380.9 L393.8,387.9 L394.7,395.5 L395.5,403.2 L396.4,410.1 L397.3,415.8 L398.2,419.8 L399.0,421.6 L399.8,419.8 L400.5,415.9 L401.3,410.4 L402.0,403.6 L402.8,396.1 L403.5,388.6 L404.3,381.8 L405.0,376.2 L405.8,372.4 L406.5,370.5 L407.1,371.7 L407.6,374.3 L408.1,378.0 L408.7,382.6 L409.2,387.6 L409.8,392.6 L410.3,397.1 L410.9,400.8 L411.4,403.4 L411.9,404.6 L412.6,402.2 L413.2,397.0 L413.8,389.5 L414.4,380.4 L415.0,370.4 L415.6,360.4 L416.3,351.2 L416.9,343.7 L417.5,338.6 L418.1,336.1" fill="none" stroke="#f01818" stroke-width="1.8" stroke-linejoin="round"/>
<path d="M144.8,316.1 L145.9,318.1 L147.1,322.1 L148.2,328.0 L149.4,335.3 L150.5,343.2 L151.7,351.1 L152.8,358.3 L154.0,364.2 L155.1,368.3 L156.3,370.2 L157.1,369.3 L158.0,367.4 L158.8,364.5 L159.7,361.1 L160.6,357.2 L161.4,353.4 L162.3,350.0 L163.1,347.1 L164.0,345.2 L164.9,344.2 L166.1,346.3 L167.3,350.7 L168.6,357.0 L169.8,364.8 L171.1,373.2 L172.3,381.7 L173.5,389.5 L174.8,395.8 L176.0,400.2 L177.3,402.2 L178.1,401.4 L179.0,399.5 L179.8,396.8 L180.7,393.5 L181.6,389.9 L182.4,386.3 L183.3,383.0 L184.1,380.3 L185.0,378.4 L185.9,377.6 L186.8,379.1 L187.7,382.2 L188.6,386.8 L189.5,392.4 L190.4,398.6 L191.3,404.7 L192.2,410.3 L193.1,414.9 L194.0,418.0 L195.0,419.6 L195.8,417.7 L196.6,413.7 L197.4,407.9 L198.2,400.8 L199.0,393.1 L199.8,385.3 L200.6,378.2 L201.4,372.4 L202.2,368.4 L203.1,366.6 L203.8,368.1 L204.5,371.4 L205.3,376.2 L206.0,382.0 L206.8,388.4 L207.5,394.8 L208.2,400.6 L209.0,405.4 L209.7,408.7 L210.5,410.2 L211.1,408.2 L211.7,404.0 L212.3,397.9 L212.9,390.4 L213.6,382.2 L214.2,374.1 L214.8,366.6 L215.4,360.5 L216.0,356.3 L216.7,354.2 L217.4,356.4 L218.1,361.0 L218.8,367.5 L219.6,375.6 L220.3,384.4 L221.0,393.3 L221.8,401.4 L222.5,407.9 L223.2,412.5 L224.0,414.6 L224.8,412.7 L225.7,408.6 L226.6,402.7 L227.4,395.4 L228.3,387.4 L229.2,379.5 L230.0,372.2 L230.9,366.3 L231.8,362.2 L232.7,360.2 L233.4,361.5 L234.1,364.1 L234.9,367.9 L235.6,372.5 L236.3,377.6 L237.1,382.7 L237.8,387.3 L238.5,391.1 L239.3,393.8 L240.0,395.0 L240.8,394.5 L241.6,393.4 L242.4,391.8 L243.2,389.8 L244.0,387.7 L244.8,385.6 L245.6,383.6 L246.4,382.0 L247.2,380.9 L248.0,380.4 L248.8,381.0 L249.7,382.1 L250.6,383.8 L251.4,385.8 L252.2,388.1 L253.1,390.4 L253.9,392.4 L254.8,394.1 L255.7,395.2 L256.5,395.8 L257.4,395.0 L258.3,393.2 L259.2,390.7 L260.1,387.6 L260.9,384.2 L261.8,380.7 L262.7,377.6 L263.6,375.1 L264.5,373.3 L265.4,372.5 L266.0,372.9 L266.6,373.8 L267.2,375.0 L267.8,376.6 L268.4,378.2 L269.1,379.9 L269.7,381.5 L270.3,382.7 L270.9,383.6 L271.5,384.0 L272.2,382.9 L273.0,380.4 L273.8,377.0 L274.5,372.7 L275.2,368.0 L276.0,363.3 L276.8,359.0 L277.5,355.6 L278.2,353.1 L279.0,352.0 L279.9,353.3 L280.9,356.0 L281.9,359.9 L282.8,364.7 L283.8,370.0 L284.7,375.3 L285.6,380.1 L286.6,384.0 L287.6,386.7 L288.5,388.0 L289.3,386.7 L290.1,384.1 L290.9,380.3 L291.7,375.6 L292.5,370.5 L293.3,365.4 L294.1,360.7 L294.9,356.9 L295.7,354.3 L296.5,353.0 L297.3,354.2 L298.1,356.8 L298.9,360.5 L299.7,365.1 L300.5,370.1 L301.3,375.1 L302.1,379.7 L302.9,383.4 L303.7,386.0 L304.5,387.2 L305.4,385.8 L306.3,382.9 L307.1,378.6 L308.0,373.4 L308.9,367.8 L309.8,362.1 L310.7,356.9 L311.5,352.6 L312.4,349.7 L313.3,348.3 L313.9,349.9 L314.6,353.2 L315.2,357.9 L315.9,363.8 L316.6,370.1 L317.2,376.5 L317.9,382.4 L318.5,387.1 L319.2,390.4 L319.8,392.0 L320.7,390.5 L321.6,387.4 L322.6,382.9 L323.5,377.4 L324.4,371.3 L325.3,365.2 L326.2,359.7 L327.2,355.2 L328.1,352.1 L329.0,350.6 L329.6,352.3 L330.1,356.0 L330.6,361.3 L331.2,367.7 L331.8,374.8 L332.3,381.9 L332.9,388.3 L333.4,393.6 L333.9,397.3 L334.5,399.0 L335.5,397.4 L336.5,394.2 L337.6,389.4 L338.6,383.6 L339.6,377.2 L340.6,370.8 L341.6,365.0 L342.7,360.2 L343.7,357.0 L344.7,355.4 L345.2,356.3 L345.8,358.2 L346.3,360.9 L346.8,364.2 L347.4,367.8 L347.9,371.5 L348.4,374.8 L348.9,377.5 L349.5,379.4 L350.0,380.3 L350.8,379.7 L351.5,378.4 L352.2,376.5 L353.0,374.2 L353.8,371.7 L354.5,369.1 L355.2,366.8 L356.0,364.9 L356.8,363.6 L357.5,363.0 L358.3,364.6 L359.1,368.0 L359.9,372.9 L360.7,378.9 L361.5,385.5 L362.3,392.1 L363.1,398.1 L363.9,403.0 L364.8,406.3 L365.6,407.9 L366.4,407.2 L367.3,405.5 L368.2,403.2 L369.0,400.3 L369.9,397.1 L370.8,393.9 L371.6,391.0 L372.5,388.7 L373.4,387.0 L374.3,386.2 L374.9,387.6 L375.6,390.5 L376.2,394.6 L376.9,399.7 L377.5,405.2 L378.2,410.8 L378.8,415.9 L379.5,420.0 L380.1,422.9 L380.8,424.2 L381.7,422.3 L382.7,418.3 L383.7,412.5 L384.6,405.4 L385.6,397.7 L386.6,389.9 L387.5,382.8 L388.5,377.0 L389.5,373.0 L390.5,371.1 L391.3,372.9 L392.2,376.9 L393.1,382.5 L393.9,389.5 L394.8,397.1 L395.7,404.8 L396.5,411.8 L397.4,417.4 L398.3,421.4 L399.2,423.2 L399.9,421.4 L400.7,417.6 L401.4,412.0 L402.2,405.2 L402.9,397.7 L403.7,390.2 L404.4,383.4 L405.2,377.8 L405.9,374.0 L406.7,372.1 L407.2,373.4 L407.7,375.9 L408.3,379.7 L408.8,384.2 L409.4,389.2 L409.9,394.2 L410.4,398.7 L411.0,402.5 L411.5,405.0 L412.1,406.2 L412.7,403.8 L413.3,398.6 L413.9,391.1 L414.5,381.8 L415.2,371.8 L415.8,361.7 L416.4,352.4 L417.0,344.9 L417.6,339.7 L418.3,337.2" fill="none" stroke="#f01818" stroke-width="1.8" stroke-linejoin="round"/>
<path d="M144.8,317.4 L146.0,319.4 L147.1,323.4 L148.3,329.3 L149.4,336.5 L150.6,344.4 L151.8,352.3 L152.9,359.5 L154.1,365.4 L155.2,369.4 L156.4,371.4 L157.2,370.4 L158.1,368.5 L159.0,365.7 L159.8,362.2 L160.7,358.4 L161.5,354.6 L162.4,351.1 L163.3,348.3 L164.1,346.3 L165.0,345.4 L166.2,347.5 L167.5,351.8 L168.7,358.1 L169.9,365.9 L171.2,374.4 L172.4,382.9 L173.7,390.6 L174.9,396.9 L176.1,401.3 L177.4,403.4 L178.2,402.5 L179.1,400.6 L180.0,397.9 L180.8,394.6 L181.7,391.0 L182.5,387.4 L183.4,384.1 L184.3,381.4 L185.1,379.6 L186.0,378.7 L186.9,380.2 L187.8,383.3 L188.7,387.9 L189.6,393.5 L190.5,399.7 L191.4,405.8 L192.4,411.4 L193.3,416.0 L194.2,419.2 L195.1,420.7 L195.9,418.8 L196.7,414.8 L197.5,409.0 L198.3,401.9 L199.1,394.2 L199.9,386.4 L200.8,379.3 L201.6,373.6 L202.4,369.6 L203.2,367.7 L203.9,369.2 L204.7,372.5 L205.4,377.3 L206.1,383.1 L206.9,389.5 L207.6,395.9 L208.4,401.8 L209.1,406.5 L209.8,409.8 L210.6,411.4 L211.2,409.4 L211.8,405.1 L212.4,399.0 L213.1,391.6 L213.7,383.4 L214.3,375.2 L214.9,367.7 L215.5,361.6 L216.2,357.4 L216.8,355.4 L217.5,357.5 L218.2,362.1 L219.0,368.7 L219.7,376.7 L220.4,385.6 L221.2,394.4 L221.9,402.5 L222.6,409.1 L223.4,413.6 L224.1,415.8 L225.0,413.8 L225.8,409.7 L226.7,403.8 L227.6,396.5 L228.4,388.6 L229.3,380.6 L230.2,373.4 L231.0,367.4 L231.9,363.3 L232.8,361.4 L233.6,362.7 L234.3,365.4 L235.1,369.4 L235.9,374.3 L236.6,379.7 L237.4,385.0 L238.2,389.9 L239.0,393.9 L239.7,396.7 L240.5,398.0 L241.3,397.5 L242.1,396.4 L242.9,394.8 L243.7,392.8 L244.5,390.7 L245.3,388.6 L246.1,386.6 L246.9,385.0 L247.7,383.9 L248.5,383.4 L249.3,384.0 L250.2,385.1 L251.1,386.8 L251.9,388.8 L252.8,391.1 L253.6,393.4 L254.4,395.4 L255.3,397.1 L256.1,398.2 L257.0,398.8 L257.9,398.0 L258.8,396.2 L259.7,393.7 L260.6,390.6 L261.4,387.2 L262.3,383.7 L263.2,380.6 L264.1,378.1 L265.0,376.3 L265.9,375.5 L266.5,375.9 L267.1,376.8 L267.7,378.0 L268.3,379.6 L268.9,381.2 L269.6,382.9 L270.2,384.5 L270.8,385.7 L271.4,386.6 L272.0,387.0 L272.8,385.9 L273.5,383.4 L274.2,380.0 L275.0,375.7 L275.8,371.0 L276.5,366.3 L277.2,362.0 L278.0,358.6 L278.8,356.1 L279.5,355.0 L280.4,356.3 L281.4,359.0 L282.4,362.9 L283.3,367.7 L284.2,373.0 L285.2,378.3 L286.1,383.1 L287.1,387.0 L288.1,389.7 L289.0,391.0 L289.8,389.7 L290.6,387.1 L291.4,383.3 L292.2,378.6 L293.0,373.5 L293.8,368.4 L294.6,363.7 L295.4,359.9 L296.2,357.3 L297.0,356.0 L297.8,357.2 L298.6,359.8 L299.4,363.5 L300.2,368.1 L301.0,373.1 L301.8,378.1 L302.6,382.7 L303.4,386.4 L304.2,389.0 L305.0,390.2 L305.9,388.8 L306.8,385.9 L307.6,381.6 L308.5,376.4 L309.4,370.8 L310.3,365.1 L311.2,359.9 L312.0,355.6 L312.9,352.7 L313.8,351.3 L314.4,352.9 L315.1,356.2 L315.8,360.9 L316.4,366.8 L317.1,373.1 L317.7,379.5 L318.4,385.4 L319.0,390.1 L319.7,393.4 L320.3,395.0 L321.2,393.5 L322.1,390.4 L323.1,385.9 L324.0,380.4 L324.9,374.3 L325.8,368.2 L326.7,362.7 L327.7,358.2 L328.6,355.1 L329.5,353.6 L330.1,355.3 L330.6,359.0 L331.1,364.3 L331.7,370.7 L332.2,377.8 L332.8,384.9 L333.4,391.3 L333.9,396.6 L334.4,400.3 L335.0,402.0 L336.0,400.4 L337.0,397.2 L338.1,392.4 L339.1,386.6 L340.1,380.2 L341.1,373.8 L342.1,368.0 L343.2,363.2 L344.2,360.0 L345.2,358.4 L345.7,359.3 L346.3,361.2 L346.8,363.9 L347.3,367.2 L347.9,370.8 L348.4,374.5 L348.9,377.8 L349.4,380.5 L350.0,382.4 L350.5,383.3 L351.2,382.7 L352.0,381.4 L352.8,379.5 L353.5,377.2 L354.2,374.7 L355.0,372.1 L355.8,369.8 L356.5,367.9 L357.2,366.6 L358.0,366.0 L358.8,367.6 L359.5,370.8 L360.3,375.6 L361.1,381.4 L361.8,387.8 L362.6,394.2 L363.4,400.0 L364.2,404.7 L364.9,408.0 L365.7,409.6 L366.6,408.8 L367.4,407.2 L368.3,404.8 L369.2,401.9 L370.0,398.7 L370.9,395.5 L371.8,392.7 L372.6,390.3 L373.5,388.7 L374.4,387.9 L375.0,389.2 L375.7,392.1 L376.3,396.2 L377.0,401.3 L377.6,406.9 L378.3,412.4 L378.9,417.5 L379.6,421.7 L380.2,424.5 L380.9,425.9 L381.9,424.0 L382.8,420.0 L383.8,414.2 L384.8,407.1 L385.7,399.3 L386.7,391.5 L387.7,384.4 L388.6,378.6 L389.6,374.6 L390.6,372.7 L391.5,374.5 L392.3,378.5 L393.2,384.2 L394.1,391.1 L394.9,398.8 L395.8,406.4 L396.7,413.4 L397.5,419.1 L398.4,423.0 L399.3,424.9 L400.0,423.0 L400.8,419.2 L401.5,413.6 L402.3,406.8 L403.0,399.3 L403.8,391.8 L404.5,385.0 L405.3,379.5 L406.0,375.6 L406.8,373.8 L407.3,375.0 L407.9,377.6 L408.4,381.3 L408.9,385.8 L409.5,390.8 L410.0,395.8 L410.6,400.4 L411.1,404.1 L411.6,406.7 L412.2,407.9 L412.8,405.4 L413.4,400.1 L414.1,392.6 L414.7,383.3 L415.3,373.1 L415.9,363.0 L416.5,353.7 L417.1,346.1 L417.8,340.9 L418.4,338.4" fill="none" stroke="#f01818" stroke-width="1.8" stroke-linejoin="round"/>
<path d="M144.8,318.8 L146.0,320.7 L147.1,324.7 L148.3,330.6 L149.5,337.8 L150.7,345.6 L151.8,353.5 L153.0,360.7 L154.2,366.5 L155.3,370.6 L156.5,372.5 L157.4,371.6 L158.2,369.6 L159.1,366.8 L160.0,363.3 L160.8,359.5 L161.7,355.7 L162.5,352.2 L163.4,349.4 L164.3,347.4 L165.1,346.5 L166.4,348.6 L167.6,352.9 L168.8,359.3 L170.1,367.0 L171.3,375.5 L172.6,384.0 L173.8,391.7 L175.0,398.1 L176.3,402.4 L177.5,404.5 L178.4,403.6 L179.2,401.8 L180.1,399.1 L181.0,395.8 L181.8,392.2 L182.7,388.5 L183.5,385.2 L184.4,382.5 L185.3,380.7 L186.1,379.8 L187.0,381.3 L187.9,384.5 L188.8,389.0 L189.8,394.7 L190.7,400.8 L191.6,406.9 L192.5,412.6 L193.4,417.1 L194.3,420.3 L195.2,421.8 L196.0,419.9 L196.8,415.9 L197.7,410.1 L198.5,403.1 L199.3,395.3 L200.1,387.5 L200.9,380.5 L201.7,374.7 L202.5,370.7 L203.3,368.8 L204.1,370.4 L204.8,373.7 L205.5,378.4 L206.3,384.3 L207.0,390.6 L207.8,397.0 L208.5,402.9 L209.2,407.6 L210.0,410.9 L210.7,412.5 L211.3,410.5 L212.0,406.3 L212.6,400.2 L213.2,392.7 L213.8,384.5 L214.4,376.3 L215.1,368.8 L215.7,362.7 L216.3,358.5 L216.9,356.5 L217.7,358.7 L218.4,363.2 L219.1,369.8 L219.8,377.9 L220.6,386.7 L221.3,395.5 L222.0,403.6 L222.8,410.2 L223.5,414.7 L224.2,416.9 L225.1,415.0 L226.0,410.9 L226.8,404.9 L227.7,397.7 L228.6,389.7 L229.4,381.7 L230.3,374.5 L231.2,368.5 L232.1,364.4 L232.9,362.5 L233.7,363.9 L234.5,366.8 L235.3,371.0 L236.2,376.1 L237.0,381.8 L237.8,387.4 L238.6,392.5 L239.4,396.7 L240.2,399.6 L241.0,401.0 L241.8,400.5 L242.6,399.4 L243.4,397.8 L244.2,395.8 L245.0,393.7 L245.8,391.6 L246.6,389.6 L247.4,388.0 L248.2,386.9 L249.0,386.4 L249.8,387.0 L250.7,388.1 L251.6,389.8 L252.4,391.8 L253.2,394.1 L254.1,396.4 L254.9,398.4 L255.8,400.1 L256.6,401.2 L257.5,401.8 L258.4,401.0 L259.3,399.2 L260.2,396.7 L261.1,393.6 L261.9,390.2 L262.8,386.7 L263.7,383.6 L264.6,381.1 L265.5,379.3 L266.4,378.5 L267.0,378.9 L267.6,379.8 L268.2,381.0 L268.8,382.6 L269.4,384.2 L270.1,385.9 L270.7,387.5 L271.3,388.7 L271.9,389.6 L272.5,390.0 L273.2,388.9 L274.0,386.4 L274.8,383.0 L275.5,378.7 L276.2,374.0 L277.0,369.3 L277.8,365.0 L278.5,361.6 L279.2,359.1 L280.0,358.0 L280.9,359.3 L281.9,362.0 L282.9,365.9 L283.8,370.7 L284.8,376.0 L285.7,381.3 L286.6,386.1 L287.6,390.0 L288.6,392.7 L289.5,394.0 L290.3,392.7 L291.1,390.1 L291.9,386.3 L292.7,381.6 L293.5,376.5 L294.3,371.4 L295.1,366.7 L295.9,362.9 L296.7,360.3 L297.5,359.0 L298.3,360.2 L299.1,362.8 L299.9,366.5 L300.7,371.1 L301.5,376.1 L302.3,381.1 L303.1,385.7 L303.9,389.4 L304.7,392.0 L305.5,393.2 L306.4,391.8 L307.3,388.9 L308.1,384.6 L309.0,379.4 L309.9,373.8 L310.8,368.1 L311.7,362.9 L312.5,358.6 L313.4,355.7 L314.3,354.3 L314.9,355.9 L315.6,359.2 L316.2,363.9 L316.9,369.8 L317.6,376.1 L318.2,382.5 L318.9,388.4 L319.5,393.1 L320.2,396.4 L320.8,398.0 L321.7,396.5 L322.6,393.4 L323.6,388.9 L324.5,383.4 L325.4,377.3 L326.3,371.2 L327.2,365.7 L328.2,361.2 L329.1,358.1 L330.0,356.6 L330.6,358.3 L331.1,362.0 L331.6,367.3 L332.2,373.7 L332.8,380.8 L333.3,387.9 L333.9,394.3 L334.4,399.6 L334.9,403.3 L335.5,405.0 L336.5,403.4 L337.5,400.2 L338.6,395.4 L339.6,389.6 L340.6,383.2 L341.6,376.8 L342.6,371.0 L343.7,366.2 L344.7,363.0 L345.7,361.4 L346.2,362.3 L346.8,364.2 L347.3,366.9 L347.8,370.2 L348.4,373.8 L348.9,377.5 L349.4,380.8 L349.9,383.5 L350.5,385.4 L351.0,386.3 L351.8,385.7 L352.5,384.4 L353.2,382.5 L354.0,380.2 L354.8,377.7 L355.5,375.1 L356.2,372.8 L357.0,370.9 L357.8,369.6 L358.5,369.0 L359.2,370.5 L360.0,373.7 L360.7,378.3 L361.4,383.9 L362.2,390.1 L362.9,396.3 L363.6,401.9 L364.4,406.5 L365.1,409.7 L365.8,411.2 L366.7,410.4 L367.6,408.8 L368.4,406.4 L369.3,403.5 L370.2,400.4 L371.0,397.2 L371.9,394.3 L372.8,391.9 L373.6,390.3 L374.5,389.5 L375.2,390.9 L375.8,393.7 L376.5,397.9 L377.1,402.9 L377.8,408.5 L378.4,414.1 L379.1,419.1 L379.7,423.3 L380.4,426.1 L381.0,427.5 L382.0,425.6 L383.0,421.6 L383.9,415.8 L384.9,408.7 L385.9,400.9 L386.8,393.1 L387.8,386.0 L388.8,380.2 L389.8,376.2 L390.7,374.3 L391.6,376.2 L392.5,380.1 L393.3,385.8 L394.2,392.8 L395.1,400.4 L395.9,408.0 L396.8,415.0 L397.7,420.7 L398.5,424.6 L399.4,426.5 L400.2,424.7 L400.9,420.8 L401.7,415.2 L402.4,408.4 L403.2,400.9 L403.9,393.5 L404.7,386.7 L405.4,381.1 L406.2,377.2 L406.9,375.4 L407.5,376.6 L408.0,379.2 L408.5,382.9 L409.1,387.5 L409.6,392.4 L410.2,397.4 L410.7,402.0 L411.2,405.7 L411.8,408.3 L412.3,409.5 L412.9,407.0 L413.6,401.7 L414.2,394.1 L414.8,384.7 L415.4,374.5 L416.0,364.3 L416.7,354.9 L417.3,347.3 L417.9,342.0 L418.5,339.5" fill="none" stroke="#f01818" stroke-width="1.8" stroke-linejoin="round"/>
<path d="M144.8,320.1 L146.0,322.0 L147.2,326.0 L148.4,331.9 L149.5,339.0 L150.7,346.8 L151.9,354.7 L153.1,361.8 L154.3,367.7 L155.5,371.7 L156.7,373.6 L157.5,372.7 L158.4,370.7 L159.2,367.9 L160.1,364.4 L160.9,360.6 L161.8,356.8 L162.7,353.3 L163.5,350.5 L164.4,348.6 L165.2,347.6 L166.5,349.7 L167.7,354.1 L169.0,360.4 L170.2,368.1 L171.4,376.6 L172.7,385.1 L173.9,392.9 L175.2,399.2 L176.4,403.5 L177.7,405.6 L178.5,404.7 L179.4,402.9 L180.2,400.2 L181.1,396.9 L181.9,393.3 L182.8,389.7 L183.7,386.4 L184.5,383.7 L185.4,381.8 L186.2,380.9 L187.2,382.4 L188.1,385.6 L189.0,390.2 L189.9,395.8 L190.8,401.9 L191.7,408.1 L192.6,413.7 L193.5,418.3 L194.4,421.4 L195.3,422.9 L196.2,421.0 L197.0,417.0 L197.8,411.3 L198.6,404.2 L199.4,396.4 L200.2,388.7 L201.0,381.6 L201.8,375.8 L202.6,371.8 L203.5,369.9 L204.2,371.5 L204.9,374.8 L205.7,379.5 L206.4,385.4 L207.2,391.8 L207.9,398.2 L208.6,404.0 L209.4,408.8 L210.1,412.1 L210.8,413.6 L211.5,411.6 L212.1,407.4 L212.7,401.3 L213.3,393.8 L213.9,385.6 L214.6,377.4 L215.2,370.0 L215.8,363.9 L216.4,359.6 L217.1,357.6 L217.8,359.8 L218.5,364.3 L219.2,370.9 L220.0,379.0 L220.7,387.8 L221.4,396.7 L222.2,404.7 L222.9,411.3 L223.6,415.9 L224.3,418.0 L225.2,416.1 L226.1,412.0 L227.0,406.0 L227.8,398.8 L228.7,390.8 L229.6,382.9 L230.4,375.6 L231.3,369.7 L232.2,365.6 L233.1,363.6 L233.9,365.1 L234.7,368.1 L235.6,372.5 L236.4,377.9 L237.3,383.8 L238.1,389.7 L239.0,395.1 L239.8,399.5 L240.7,402.6 L241.5,404.0 L242.3,403.5 L243.1,402.4 L243.9,400.8 L244.7,398.8 L245.5,396.7 L246.3,394.6 L247.1,392.6 L247.9,391.0 L248.7,389.9 L249.5,389.4 L250.3,390.0 L251.2,391.1 L252.1,392.8 L252.9,394.8 L253.8,397.1 L254.6,399.4 L255.4,401.4 L256.3,403.1 L257.1,404.2 L258.0,404.8 L258.9,404.0 L259.8,402.2 L260.7,399.7 L261.6,396.6 L262.4,393.2 L263.3,389.7 L264.2,386.6 L265.1,384.1 L266.0,382.3 L266.9,381.5 L267.5,381.9 L268.1,382.8 L268.7,384.0 L269.3,385.6 L269.9,387.2 L270.6,388.9 L271.2,390.5 L271.8,391.7 L272.4,392.6 L273.0,393.0 L273.8,391.9 L274.5,389.4 L275.2,386.0 L276.0,381.7 L276.8,377.0 L277.5,372.3 L278.2,368.0 L279.0,364.6 L279.8,362.1 L280.5,361.0 L281.4,362.3 L282.4,365.0 L283.4,368.9 L284.3,373.7 L285.2,379.0 L286.2,384.3 L287.1,389.1 L288.1,393.0 L289.1,395.7 L290.0,397.0 L290.8,395.7 L291.6,393.1 L292.4,389.3 L293.2,384.6 L294.0,379.5 L294.8,374.4 L295.6,369.7 L296.4,365.9 L297.2,363.3 L298.0,362.0 L298.8,363.2 L299.6,365.8 L300.4,369.5 L301.2,374.1 L302.0,379.1 L302.8,384.1 L303.6,388.7 L304.4,392.4 L305.2,395.0 L306.0,396.2 L306.9,394.8 L307.8,391.9 L308.6,387.6 L309.5,382.4 L310.4,376.8 L311.3,371.1 L312.2,365.9 L313.0,361.6 L313.9,358.7 L314.8,357.3 L315.4,358.9 L316.1,362.2 L316.8,366.9 L317.4,372.8 L318.1,379.1 L318.7,385.5 L319.4,391.4 L320.0,396.1 L320.7,399.4 L321.3,401.0 L322.2,399.5 L323.1,396.4 L324.1,391.9 L325.0,386.4 L325.9,380.3 L326.8,374.2 L327.7,368.7 L328.7,364.2 L329.6,361.1 L330.5,359.6 L331.1,361.3 L331.6,365.0 L332.1,370.3 L332.7,376.7 L333.2,383.8 L333.8,390.9 L334.4,397.3 L334.9,402.6 L335.4,406.3 L336.0,408.0 L337.0,406.4 L338.0,403.2 L339.1,398.4 L340.1,392.6 L341.1,386.2 L342.1,379.8 L343.1,374.0 L344.2,369.2 L345.2,366.0 L346.2,364.4 L346.7,365.3 L347.3,367.2 L347.8,369.9 L348.3,373.2 L348.9,376.8 L349.4,380.5 L349.9,383.8 L350.4,386.5 L351.0,388.4 L351.5,389.3 L352.2,388.7 L353.0,387.4 L353.8,385.5 L354.5,383.2 L355.2,380.7 L356.0,378.1 L356.8,375.8 L357.5,373.9 L358.2,372.6 L359.0,372.0 L359.7,373.5 L360.4,376.5 L361.1,381.0 L361.8,386.4 L362.5,392.4 L363.2,398.4 L363.9,403.8 L364.6,408.3 L365.3,411.4 L365.9,412.8 L366.8,412.0 L367.7,410.4 L368.6,408.0 L369.4,405.2 L370.3,402.0 L371.2,398.8 L372.0,395.9 L372.9,393.5 L373.8,391.9 L374.6,391.1 L375.3,392.5 L375.9,395.3 L376.6,399.5 L377.2,404.6 L377.9,410.1 L378.5,415.7 L379.2,420.8 L379.8,424.9 L380.5,427.8 L381.1,429.1 L382.1,427.2 L383.1,423.2 L384.1,417.4 L385.0,410.3 L386.0,402.5 L387.0,394.7 L387.9,387.6 L388.9,381.8 L389.9,377.8 L390.8,375.9 L391.7,377.8 L392.6,381.7 L393.5,387.4 L394.3,394.4 L395.2,402.0 L396.1,409.7 L396.9,416.6 L397.8,422.3 L398.7,426.3 L399.5,428.1 L400.3,426.3 L401.0,422.4 L401.8,416.9 L402.5,410.1 L403.3,402.6 L404.0,395.1 L404.8,388.3 L405.5,382.7 L406.3,378.9 L407.0,377.0 L407.6,378.2 L408.1,380.8 L408.7,384.5 L409.2,389.1 L409.8,394.1 L410.3,399.1 L410.8,403.6 L411.4,407.3 L411.9,409.9 L412.4,411.1 L413.1,408.6 L413.7,403.3 L414.3,395.6 L414.9,386.2 L415.5,375.9 L416.2,365.6 L416.8,356.1 L417.4,348.5 L418.0,343.1 L418.6,340.6" fill="none" stroke="#f01818" stroke-width="1.8" stroke-linejoin="round"/>
<path d="M144.8,321.4 L146.0,323.3 L147.2,327.3 L148.4,333.1 L149.6,340.3 L150.8,348.1 L152.0,355.9 L153.2,363.0 L154.4,368.8 L155.6,372.8 L156.8,374.8 L157.6,373.8 L158.5,371.9 L159.4,369.0 L160.2,365.6 L161.1,361.8 L161.9,357.9 L162.8,354.5 L163.7,351.6 L164.5,349.7 L165.4,348.8 L166.6,350.8 L167.9,355.2 L169.1,361.5 L170.3,369.3 L171.6,377.8 L172.8,386.2 L174.1,394.0 L175.3,400.3 L176.5,404.7 L177.8,406.8 L178.6,405.9 L179.5,404.0 L180.4,401.3 L181.2,398.0 L182.1,394.4 L182.9,390.8 L183.8,387.5 L184.7,384.8 L185.5,382.9 L186.4,382.1 L187.3,383.6 L188.2,386.7 L189.1,391.3 L190.0,396.9 L190.9,403.1 L191.8,409.2 L192.8,414.8 L193.7,419.4 L194.6,422.5 L195.5,424.1 L196.3,422.2 L197.1,418.2 L197.9,412.4 L198.7,405.3 L199.5,397.6 L200.3,389.8 L201.2,382.7 L202.0,376.9 L202.8,372.9 L203.6,371.1 L204.3,372.6 L205.1,375.9 L205.8,380.7 L206.5,386.5 L207.3,392.9 L208.0,399.3 L208.8,405.1 L209.5,409.9 L210.2,413.2 L211.0,414.8 L211.6,412.7 L212.2,408.5 L212.8,402.4 L213.5,394.9 L214.1,386.8 L214.7,378.6 L215.3,371.1 L215.9,365.0 L216.6,360.8 L217.2,358.8 L217.9,360.9 L218.6,365.5 L219.4,372.0 L220.1,380.1 L220.8,388.9 L221.6,397.8 L222.3,405.9 L223.0,412.4 L223.8,417.0 L224.5,419.1 L225.3,417.2 L226.2,413.1 L227.1,407.2 L228.0,399.9 L228.8,391.9 L229.7,384.0 L230.6,376.7 L231.4,370.8 L232.3,366.7 L233.2,364.8 L234.1,366.3 L234.9,369.4 L235.8,374.1 L236.7,379.7 L237.6,385.9 L238.5,392.1 L239.4,397.7 L240.2,402.3 L241.1,405.5 L242.0,407.0 L242.8,406.5 L243.6,405.4 L244.4,403.8 L245.2,401.8 L246.0,399.7 L246.8,397.6 L247.6,395.6 L248.4,394.0 L249.2,392.9 L250.0,392.4 L250.8,393.0 L251.7,394.1 L252.6,395.8 L253.4,397.8 L254.2,400.1 L255.1,402.4 L255.9,404.4 L256.8,406.1 L257.6,407.2 L258.5,407.8 L259.4,407.0 L260.3,405.2 L261.2,402.7 L262.1,399.6 L262.9,396.2 L263.8,392.7 L264.7,389.6 L265.6,387.1 L266.5,385.3 L267.4,384.5 L268.0,384.9 L268.6,385.8 L269.2,387.0 L269.8,388.6 L270.4,390.2 L271.1,391.9 L271.7,393.5 L272.3,394.7 L272.9,395.6 L273.5,396.0 L274.2,394.9 L275.0,392.4 L275.8,389.0 L276.5,384.7 L277.2,380.0 L278.0,375.3 L278.8,371.0 L279.5,367.6 L280.2,365.1 L281.0,364.0 L281.9,365.3 L282.9,368.0 L283.9,371.9 L284.8,376.7 L285.8,382.0 L286.7,387.3 L287.6,392.1 L288.6,396.0 L289.6,398.7 L290.5,400.0 L291.3,398.7 L292.1,396.1 L292.9,392.3 L293.7,387.6 L294.5,382.5 L295.3,377.4 L296.1,372.7 L296.9,368.9 L297.7,366.3 L298.5,365.0 L299.3,366.2 L300.1,368.8 L300.9,372.5 L301.7,377.1 L302.5,382.1 L303.3,387.1 L304.1,391.7 L304.9,395.4 L305.7,398.0 L306.5,399.2 L307.4,397.8 L308.3,394.9 L309.1,390.6 L310.0,385.4 L310.9,379.8 L311.8,374.1 L312.7,368.9 L313.5,364.6 L314.4,361.7 L315.3,360.3 L315.9,361.9 L316.6,365.2 L317.2,369.9 L317.9,375.8 L318.6,382.1 L319.2,388.5 L319.9,394.4 L320.5,399.1 L321.2,402.4 L321.8,404.0 L322.7,402.5 L323.6,399.4 L324.6,394.9 L325.5,389.4 L326.4,383.3 L327.3,377.2 L328.2,371.7 L329.2,367.2 L330.1,364.1 L331.0,362.6 L331.6,364.3 L332.1,368.0 L332.6,373.3 L333.2,379.7 L333.8,386.8 L334.3,393.9 L334.9,400.3 L335.4,405.6 L335.9,409.3 L336.5,411.0 L337.5,409.4 L338.5,406.2 L339.6,401.4 L340.6,395.6 L341.6,389.2 L342.6,382.8 L343.6,377.0 L344.7,372.2 L345.7,369.0 L346.7,367.4 L347.2,368.3 L347.8,370.2 L348.3,372.9 L348.8,376.2 L349.4,379.8 L349.9,383.5 L350.4,386.8 L350.9,389.5 L351.5,391.4 L352.0,392.3 L352.8,391.7 L353.5,390.4 L354.2,388.5 L355.0,386.2 L355.8,383.7 L356.5,381.1 L357.2,378.8 L358.0,376.9 L358.8,375.6 L359.5,375.0 L360.2,376.4 L360.8,379.4 L361.5,383.7 L362.1,389.0 L362.8,394.7 L363.4,400.5 L364.1,405.8 L364.8,410.1 L365.4,413.0 L366.1,414.4 L366.9,413.7 L367.8,412.0 L368.7,409.7 L369.6,406.8 L370.4,403.6 L371.3,400.4 L372.2,397.5 L373.0,395.2 L373.9,393.5 L374.8,392.8 L375.4,394.1 L376.1,397.0 L376.7,401.1 L377.4,406.2 L378.0,411.8 L378.7,417.3 L379.3,422.4 L380.0,426.5 L380.6,429.4 L381.3,430.8 L382.2,428.8 L383.2,424.8 L384.2,419.0 L385.2,411.9 L386.1,404.2 L387.1,396.4 L388.1,389.3 L389.0,383.5 L390.0,379.5 L391.0,377.6 L391.8,379.4 L392.7,383.4 L393.6,389.0 L394.5,396.0 L395.3,403.6 L396.2,411.3 L397.1,418.3 L397.9,423.9 L398.8,427.9 L399.7,429.8 L400.4,427.9 L401.2,424.1 L401.9,418.5 L402.7,411.7 L403.4,404.2 L404.2,396.7 L404.9,389.9 L405.7,384.3 L406.4,380.5 L407.2,378.6 L407.7,379.9 L408.3,382.4 L408.8,386.2 L409.3,390.7 L409.9,395.7 L410.4,400.7 L411.0,405.2 L411.5,409.0 L412.0,411.5 L412.6,412.8 L413.2,410.2 L413.8,404.9 L414.4,397.1 L415.1,387.6 L415.7,377.2 L416.3,366.9 L416.9,357.4 L417.5,349.6 L418.2,344.3 L418.8,341.8" fill="none" stroke="#f01818" stroke-width="1.8" stroke-linejoin="round"/>
<path d="M144.8,322.7 L146.0,324.6 L147.2,328.6 L148.4,334.4 L149.6,341.5 L150.9,349.3 L152.1,357.1 L153.3,364.2 L154.5,370.0 L155.7,374.0 L156.9,375.9 L157.8,374.9 L158.6,373.0 L159.5,370.2 L160.3,366.7 L161.2,362.9 L162.1,359.1 L162.9,355.6 L163.8,352.8 L164.6,350.8 L165.5,349.9 L166.8,352.0 L168.0,356.3 L169.2,362.6 L170.5,370.4 L171.7,378.9 L172.9,387.4 L174.2,395.1 L175.4,401.4 L176.7,405.8 L177.9,407.9 L178.8,407.0 L179.6,405.1 L180.5,402.4 L181.3,399.1 L182.2,395.5 L183.1,391.9 L183.9,388.6 L184.8,385.9 L185.6,384.1 L186.5,383.2 L187.4,384.7 L188.3,387.8 L189.2,392.4 L190.1,398.0 L191.1,404.2 L192.0,410.3 L192.9,415.9 L193.8,420.5 L194.7,423.7 L195.6,425.2 L196.4,423.3 L197.2,419.3 L198.0,413.5 L198.8,406.4 L199.7,398.7 L200.5,390.9 L201.3,383.8 L202.1,378.1 L202.9,374.1 L203.7,372.2 L204.5,373.7 L205.2,377.0 L205.9,381.8 L206.7,387.6 L207.4,394.0 L208.2,400.4 L208.9,406.3 L209.6,411.0 L210.4,414.3 L211.1,415.9 L211.7,413.9 L212.3,409.6 L213.0,403.5 L213.6,396.1 L214.2,387.9 L214.8,379.7 L215.4,372.2 L216.1,366.1 L216.7,361.9 L217.3,359.9 L218.0,362.0 L218.8,366.6 L219.5,373.2 L220.2,381.2 L221.0,390.1 L221.7,398.9 L222.4,407.0 L223.1,413.6 L223.9,418.1 L224.6,420.3 L225.5,418.3 L226.3,414.2 L227.2,408.3 L228.1,401.0 L229.0,393.1 L229.8,385.1 L230.7,377.9 L231.6,371.9 L232.4,367.8 L233.3,365.9 L234.2,367.5 L235.1,370.8 L236.1,375.6 L237.0,381.5 L237.9,387.9 L238.8,394.4 L239.7,400.3 L240.7,405.1 L241.6,408.4 L242.5,410.0 L243.3,409.5 L244.1,408.4 L244.9,406.8 L245.7,404.8 L246.5,402.7 L247.3,400.6 L248.1,398.6 L248.9,397.0 L249.7,395.9 L250.5,395.4 L251.3,396.0 L252.2,397.1 L253.1,398.8 L253.9,400.8 L254.8,403.1 L255.6,405.4 L256.4,407.4 L257.3,409.1 L258.1,410.2 L259.0,410.8 L259.9,410.0 L260.8,408.2 L261.7,405.7 L262.6,402.6 L263.4,399.2 L264.3,395.7 L265.2,392.6 L266.1,390.1 L267.0,388.3 L267.9,387.5 L268.5,387.9 L269.1,388.8 L269.7,390.0 L270.3,391.6 L270.9,393.2 L271.6,394.9 L272.2,396.5 L272.8,397.7 L273.4,398.6 L274.0,399.0 L274.8,397.9 L275.5,395.4 L276.2,392.0 L277.0,387.7 L277.8,383.0 L278.5,378.3 L279.2,374.0 L280.0,370.6 L280.8,368.1 L281.5,367.0 L282.4,368.3 L283.4,371.0 L284.4,374.9 L285.3,379.7 L286.2,385.0 L287.2,390.3 L288.1,395.1 L289.1,399.0 L290.1,401.7 L291.0,403.0 L291.8,401.7 L292.6,399.1 L293.4,395.3 L294.2,390.6 L295.0,385.5 L295.8,380.4 L296.6,375.7 L297.4,371.9 L298.2,369.3 L299.0,368.0 L299.8,369.2 L300.6,371.8 L301.4,375.5 L302.2,380.1 L303.0,385.1 L303.8,390.1 L304.6,394.7 L305.4,398.4 L306.2,401.0 L307.0,402.2 L307.9,400.8 L308.8,397.9 L309.6,393.6 L310.5,388.4 L311.4,382.8 L312.3,377.1 L313.2,371.9 L314.0,367.6 L314.9,364.7 L315.8,363.3 L316.4,364.9 L317.1,368.2 L317.8,372.9 L318.4,378.8 L319.1,385.1 L319.7,391.5 L320.4,397.4 L321.0,402.1 L321.7,405.4 L322.3,407.0 L323.2,405.5 L324.1,402.4 L325.1,397.9 L326.0,392.4 L326.9,386.3 L327.8,380.2 L328.7,374.7 L329.7,370.2 L330.6,367.1 L331.5,365.6 L332.1,367.3 L332.6,371.0 L333.1,376.3 L333.7,382.7 L334.2,389.8 L334.8,396.9 L335.4,403.3 L335.9,408.6 L336.4,412.3 L337.0,414.0 L338.0,412.4 L339.0,409.2 L340.1,404.4 L341.1,398.6 L342.1,392.2 L343.1,385.8 L344.1,380.0 L345.2,375.2 L346.2,372.0 L347.2,370.4 L347.7,371.3 L348.3,373.2 L348.8,375.9 L349.3,379.2 L349.9,382.8 L350.4,386.5 L350.9,389.8 L351.4,392.5 L352.0,394.4 L352.5,395.3 L353.2,394.7 L354.0,393.4 L354.8,391.5 L355.5,389.2 L356.2,386.7 L357.0,384.1 L357.8,381.8 L358.5,379.9 L359.2,378.6 L360.0,378.0 L360.6,379.4 L361.2,382.2 L361.9,386.4 L362.5,391.5 L363.1,397.0 L363.7,402.6 L364.3,407.7 L365.0,411.8 L365.6,414.7 L366.2,416.1 L367.1,415.3 L368.0,413.7 L368.8,411.3 L369.7,408.4 L370.6,405.2 L371.4,402.0 L372.3,399.2 L373.2,396.8 L374.0,395.2 L374.9,394.4 L375.6,395.7 L376.2,398.6 L376.9,402.7 L377.5,407.8 L378.2,413.4 L378.8,418.9 L379.5,424.0 L380.1,428.2 L380.8,431.0 L381.4,432.4 L382.4,430.5 L383.4,426.5 L384.3,420.7 L385.3,413.6 L386.3,405.8 L387.2,398.0 L388.2,390.9 L389.2,385.1 L390.1,381.1 L391.1,379.2 L392.0,381.0 L392.9,385.0 L393.7,390.7 L394.6,397.6 L395.5,405.3 L396.3,412.9 L397.2,419.9 L398.1,425.6 L398.9,429.5 L399.8,431.4 L400.6,429.5 L401.3,425.7 L402.1,420.1 L402.8,413.3 L403.6,405.8 L404.3,398.3 L405.1,391.5 L405.8,386.0 L406.6,382.1 L407.3,380.3 L407.9,381.5 L408.4,384.1 L408.9,387.8 L409.5,392.3 L410.0,397.3 L410.6,402.3 L411.1,406.9 L411.6,410.6 L412.2,413.2 L412.7,414.4 L413.3,411.8 L414.0,406.4 L414.6,398.6 L415.2,389.1 L415.8,378.6 L416.4,368.2 L417.1,358.6 L417.7,350.8 L418.3,345.4 L418.9,342.9" fill="none" stroke="#f01818" stroke-width="1.8" stroke-linejoin="round"/>
<path d="M144.8,324.0 L146.0,325.9 L147.2,329.9 L148.5,335.7 L149.7,342.7 L150.9,350.5 L152.1,358.3 L153.4,365.3 L154.6,371.1 L155.8,375.1 L157.0,377.0 L157.9,376.1 L158.8,374.1 L159.6,371.3 L160.5,367.8 L161.3,364.0 L162.2,360.2 L163.1,356.7 L163.9,353.9 L164.8,351.9 L165.6,351.0 L166.9,353.1 L168.1,357.4 L169.4,363.8 L170.6,371.5 L171.8,380.0 L173.1,388.5 L174.3,396.2 L175.6,402.6 L176.8,406.9 L178.0,409.0 L178.9,408.1 L179.8,406.3 L180.6,403.6 L181.5,400.3 L182.3,396.7 L183.2,393.0 L184.1,389.7 L184.9,387.0 L185.8,385.2 L186.6,384.3 L187.5,385.8 L188.5,389.0 L189.4,393.5 L190.3,399.2 L191.2,405.3 L192.1,411.4 L193.0,417.1 L193.9,421.6 L194.8,424.8 L195.7,426.3 L196.5,424.4 L197.4,420.4 L198.2,414.6 L199.0,407.6 L199.8,399.8 L200.6,392.0 L201.4,385.0 L202.2,379.2 L203.0,375.2 L203.8,373.3 L204.6,374.9 L205.3,378.2 L206.1,382.9 L206.8,388.8 L207.5,395.1 L208.3,401.5 L209.0,407.4 L209.8,412.1 L210.5,415.4 L211.2,417.0 L211.9,415.0 L212.5,410.8 L213.1,404.7 L213.7,397.2 L214.3,389.0 L215.0,380.8 L215.6,373.3 L216.2,367.2 L216.8,363.0 L217.4,361.0 L218.2,363.2 L218.9,367.7 L219.6,374.3 L220.4,382.4 L221.1,391.2 L221.8,400.0 L222.5,408.1 L223.3,414.7 L224.0,419.2 L224.7,421.4 L225.6,419.5 L226.5,415.4 L227.3,409.4 L228.2,402.2 L229.1,394.2 L230.0,386.2 L230.8,379.0 L231.7,373.0 L232.6,368.9 L233.4,367.0 L234.4,368.6 L235.4,372.1 L236.3,377.1 L237.3,383.3 L238.2,390.0 L239.2,396.7 L240.1,402.9 L241.1,407.9 L242.0,411.4 L243.0,413.0 L243.8,412.5 L244.6,411.4 L245.4,409.8 L246.2,407.8 L247.0,405.7 L247.8,403.6 L248.6,401.6 L249.4,400.0 L250.2,398.9 L251.0,398.4 L251.8,399.0 L252.7,400.1 L253.6,401.8 L254.4,403.8 L255.2,406.1 L256.1,408.4 L256.9,410.4 L257.8,412.1 L258.6,413.2 L259.5,413.8 L260.4,413.0 L261.3,411.2 L262.2,408.7 L263.1,405.6 L263.9,402.2 L264.8,398.7 L265.7,395.6 L266.6,393.1 L267.5,391.3 L268.4,390.5 L269.0,390.9 L269.6,391.8 L270.2,393.0 L270.8,394.6 L271.4,396.2 L272.1,397.9 L272.7,399.5 L273.3,400.7 L273.9,401.6 L274.5,402.0 L275.2,400.9 L276.0,398.4 L276.8,395.0 L277.5,390.7 L278.2,386.0 L279.0,381.3 L279.8,377.0 L280.5,373.6 L281.2,371.1 L282.0,370.0 L282.9,371.3 L283.9,374.0 L284.9,377.9 L285.8,382.7 L286.8,388.0 L287.7,393.3 L288.6,398.1 L289.6,402.0 L290.6,404.7 L291.5,406.0 L292.3,404.7 L293.1,402.1 L293.9,398.3 L294.7,393.6 L295.5,388.5 L296.3,383.4 L297.1,378.7 L297.9,374.9 L298.7,372.3 L299.5,371.0 L300.3,372.2 L301.1,374.8 L301.9,378.5 L302.7,383.1 L303.5,388.1 L304.3,393.1 L305.1,397.7 L305.9,401.4 L306.7,404.0 L307.5,405.2 L308.4,403.8 L309.3,400.9 L310.1,396.6 L311.0,391.4 L311.9,385.8 L312.8,380.1 L313.7,374.9 L314.5,370.6 L315.4,367.7 L316.3,366.3 L316.9,367.9 L317.6,371.2 L318.2,375.9 L318.9,381.8 L319.6,388.1 L320.2,394.5 L320.9,400.4 L321.5,405.1 L322.2,408.4 L322.8,410.0 L323.7,408.5 L324.6,405.4 L325.6,400.9 L326.5,395.4 L327.4,389.3 L328.3,383.2 L329.2,377.7 L330.2,373.2 L331.1,370.1 L332.0,368.6 L332.6,370.3 L333.1,374.0 L333.6,379.3 L334.2,385.7 L334.8,392.8 L335.3,399.9 L335.9,406.3 L336.4,411.6 L336.9,415.3 L337.5,417.0 L338.5,415.4 L339.5,412.2 L340.6,407.4 L341.6,401.6 L342.6,395.2 L343.6,388.8 L344.6,383.0 L345.7,378.2 L346.7,375.0 L347.7,373.4 L348.2,374.3 L348.8,376.2 L349.3,378.9 L349.8,382.2 L350.4,385.8 L350.9,389.5 L351.4,392.8 L351.9,395.5 L352.5,397.4 L353.0,398.3 L353.8,397.7 L354.5,396.4 L355.2,394.5 L356.0,392.2 L356.8,389.7 L357.5,387.1 L358.2,384.8 L359.0,382.9 L359.8,381.6 L360.5,381.0 L361.1,382.3 L361.7,385.1 L362.3,389.1 L362.8,394.0 L363.4,399.3 L364.0,404.7 L364.6,409.6 L365.2,413.6 L365.8,416.4 L366.3,417.7 L367.2,416.9 L368.1,415.3 L369.0,412.9 L369.8,410.0 L370.7,406.9 L371.6,403.7 L372.4,400.8 L373.3,398.4 L374.2,396.8 L375.0,396.0 L375.7,397.4 L376.3,400.2 L377.0,404.4 L377.6,409.4 L378.3,415.0 L378.9,420.6 L379.6,425.6 L380.2,429.8 L380.9,432.6 L381.5,434.0 L382.5,432.1 L383.5,428.1 L384.5,422.3 L385.4,415.2 L386.4,407.4 L387.4,399.6 L388.3,392.5 L389.3,386.7 L390.3,382.7 L391.2,380.8 L392.1,382.7 L393.0,386.6 L393.9,392.3 L394.7,399.3 L395.6,406.9 L396.5,414.5 L397.3,421.5 L398.2,427.2 L399.1,431.1 L399.9,433.0 L400.7,431.2 L401.4,427.3 L402.2,421.7 L402.9,414.9 L403.7,407.4 L404.4,400.0 L405.2,393.2 L405.9,387.6 L406.7,383.7 L407.4,381.9 L408.0,383.1 L408.5,385.7 L409.1,389.4 L409.6,394.0 L410.1,398.9 L410.7,403.9 L411.2,408.5 L411.8,412.2 L412.3,414.8 L412.8,416.0 L413.5,413.4 L414.1,408.0 L414.7,400.1 L415.3,390.5 L415.9,380.0 L416.6,369.5 L417.2,359.9 L417.8,352.0 L418.4,346.6 L419.0,344.0" fill="none" stroke="#f01818" stroke-width="1.8" stroke-linejoin="round"/>
<path d="M73.2,297.6 L73.6,298.3 L74.1,299.7 L74.5,301.6 L75.0,303.8 L75.4,306.0 L75.8,307.9 L76.3,309.3 L76.7,310.0 L77.9,308.2 L79.2,304.8 L80.4,300.2 L81.6,295.0 L82.8,289.8 L84.0,285.2 L85.3,281.8 L86.5,280.0 L87.6,281.8 L88.7,285.2 L89.7,289.8 L90.8,295.0 L91.9,300.2 L92.9,304.8 L94.0,308.2 L95.1,310.0 L95.7,309.7 L96.3,309.2 L97.0,308.5 L97.6,307.8 L98.2,307.0 L98.8,306.3 L99.5,305.8 L100.1,305.5 L101.0,305.9 L102.0,306.8 L102.9,307.9 L103.8,309.2 L104.8,310.6 L105.7,311.7 L106.7,312.6 L107.6,313.0 L108.0,312.9 L108.4,312.8 L108.9,312.7 L109.3,312.5 L109.7,312.3 L110.2,312.2 L110.6,312.1 L111.0,312.0 L111.8,312.5 L112.5,313.6 L113.2,314.9 L114.0,316.5 L114.8,318.1 L115.5,319.4 L116.2,320.5 L117.0,321.0 L117.5,320.9 L118.0,320.8 L118.5,320.7 L119.0,320.5 L119.5,320.3 L120.0,320.2 L120.5,320.1 L121.0,320.0 L122.8,320.5 L124.5,321.6 L126.2,322.9 L128.0,324.5 L129.8,326.1 L131.5,327.4 L133.2,328.5 L135.0,329.0 L135.6,328.6 L136.1,327.8 L136.7,326.7 L137.2,325.5 L137.8,324.3 L138.4,323.2 L138.9,322.4 L139.5,322.0 L140.2,321.5 L140.8,320.6 L141.5,319.4 L142.2,318.0 L142.8,316.6 L143.5,315.4 L144.1,314.5 L144.8,314.0" fill="none" stroke="#f01818" stroke-width="2.8" stroke-linejoin="round"/>
<path d="M418.0,335.0 L419.2,336.3 L420.3,338.8 L421.5,342.2 L422.6,346.0 L423.8,349.8 L425.0,353.2 L426.1,355.7 L427.3,357.0 L428.3,356.1 L429.3,354.3 L430.3,351.9 L431.2,349.2 L432.2,346.4 L433.2,344.0 L434.2,342.2 L435.2,341.3 L436.4,342.5 L437.6,344.7 L438.7,347.7 L439.9,351.1 L441.1,354.6 L442.2,357.6 L443.4,359.8 L444.6,361.0 L445.6,359.7 L446.6,357.3 L447.6,354.1 L448.6,350.4 L449.5,346.6 L450.5,343.4 L451.5,341.0 L452.5,339.7 L453.5,340.3 L454.5,341.5 L455.5,343.1 L456.4,345.0 L457.4,346.9 L458.4,348.5 L459.4,349.7 L460.4,350.3 L461.6,347.8 L462.8,343.0 L463.9,336.6 L465.1,329.2 L466.3,321.9 L467.4,315.5 L468.6,310.7 L469.8,308.2 L470.4,308.7 L471.0,309.8 L471.6,311.2 L472.2,312.8 L472.8,314.3 L473.4,315.7 L474.0,316.8 L474.6,317.3 L476.0,316.2 L477.4,314.1 L478.7,311.3 L480.1,308.1 L481.5,304.8 L482.9,302.0 L484.2,299.9 L485.6,298.8 L486.4,299.8 L487.2,301.7 L488.0,304.3 L488.8,307.2 L489.5,310.2 L490.3,312.8 L491.1,314.7 L491.9,315.7 L493.3,314.3 L494.6,311.7 L496.0,308.2 L497.4,304.1 L498.8,300.0 L500.1,296.5 L501.5,293.9 L502.9,292.5 L503.7,293.7 L504.5,295.9 L505.3,299.0 L506.0,302.5 L506.8,306.0 L507.6,309.1 L508.4,311.3 L509.2,312.5 L510.4,310.8 L511.6,307.7 L512.8,303.4 L514.0,298.6 L515.1,293.7 L516.3,289.4 L517.5,286.3 L518.7,284.6 L518.9,285.0 L519.2,285.6 L519.4,286.5 L519.7,287.6 L519.9,288.6 L520.1,289.5 L520.4,290.1 L520.6,290.5" fill="none" stroke="#f01818" stroke-width="2.8" stroke-linejoin="round"/>
<path d="M418.0,339.0 L419.4,341.8 L420.7,347.0 L422.1,354.2 L423.4,362.3 L424.8,370.4 L426.2,377.6 L427.5,382.8 L428.9,385.6 L430.1,383.4 L431.2,379.2 L432.4,373.6 L433.6,367.1 L434.8,360.6 L435.9,355.0 L437.1,350.8 L438.3,348.6 L439.2,351.2 L440.1,356.1 L440.9,362.7 L441.8,370.2 L442.7,377.8 L443.6,384.4 L444.4,389.3 L445.3,391.9 L446.4,389.6 L447.5,385.2 L448.6,379.3 L449.7,372.6 L450.8,365.9 L451.9,360.0 L453.0,355.6 L454.1,353.3 L454.9,354.6 L455.7,357.0 L456.5,360.2 L457.2,363.9 L458.0,367.6 L458.8,370.8 L459.6,373.2 L460.4,374.5 L461.4,371.4 L462.4,365.7 L463.4,357.9 L464.4,348.9 L465.3,340.0 L466.3,332.2 L467.3,326.5 L468.3,323.4 L469.3,324.5 L470.2,326.5 L471.2,329.3 L472.2,332.4 L473.2,335.6 L474.2,338.4 L475.1,340.4 L476.1,341.5 L477.3,339.9 L478.5,337.0 L479.7,333.0 L480.9,328.5 L482.0,324.0 L483.2,320.0 L484.4,317.1 L485.6,315.5 L486.6,316.6 L487.6,318.6 L488.6,321.4 L489.6,324.6 L490.5,327.7 L491.5,330.5 L492.5,332.5 L493.5,333.6 L494.7,332.0 L495.9,328.9 L497.0,324.7 L498.2,319.9 L499.4,315.0 L500.5,310.8 L501.7,307.7 L502.9,306.1 L503.8,307.6 L504.7,310.6 L505.6,314.5 L506.5,319.1 L507.5,323.6 L508.4,327.5 L509.3,330.5 L510.2,332.0 L511.3,329.3 L512.3,324.3 L513.4,317.4 L514.5,309.6 L515.5,301.8 L516.6,294.9 L517.6,289.9 L518.7,287.2 L518.9,288.5 L519.2,290.9 L519.4,294.1 L519.7,297.8 L519.9,301.5 L520.1,304.7 L520.4,307.1 L520.6,308.4" fill="none" stroke="#f01818" stroke-width="4.5" stroke-linejoin="round"/>
<path d="M73.2,88.7 L73.8,91.5 L74.4,97.3 L75.1,105.7 L75.7,116.1 L76.3,127.4 L76.9,138.7 L77.5,149.0 L78.2,157.5 L78.8,163.3 L79.4,166.1 L80.2,163.7 L81.0,158.6 L81.8,151.3 L82.6,142.3 L83.3,132.5 L84.1,122.7 L84.9,113.7 L85.7,106.4 L86.5,101.3 L87.3,98.9 L88.0,101.9 L88.8,108.1 L89.5,117.0 L90.2,128.0 L90.9,140.0 L91.7,152.0 L92.4,162.9 L93.1,171.9 L93.9,178.0 L94.6,181.0 L95.3,178.8 L96.1,174.2 L96.8,167.6 L97.6,159.5 L98.3,150.6 L99.0,141.7 L99.8,133.6 L100.5,126.9 L101.3,122.4 L102.0,120.2 L102.8,123.1 L103.6,129.2 L104.4,138.0 L105.2,148.8 L106.0,160.6 L106.8,172.4 L107.6,183.2 L108.4,192.0 L109.2,198.1 L110.0,201.0 L110.7,199.0 L111.4,194.9 L112.2,188.9 L112.9,181.5 L113.6,173.4 L114.3,165.4 L115.0,158.0 L115.8,152.0 L116.5,147.8 L117.2,145.8 L117.9,148.1 L118.7,152.8 L119.4,159.7 L120.1,168.1 L120.8,177.3 L121.6,186.5 L122.3,194.8 L123.0,201.7 L123.8,206.4 L124.5,208.7 L125.3,206.6 L126.2,202.1 L127.0,195.6 L127.8,187.7 L128.7,179.0 L129.5,170.4 L130.3,162.4 L131.1,156.0 L132.0,151.5 L132.8,149.4 L133.8,153.7 L134.7,162.9 L135.7,176.2 L136.6,192.5 L137.6,210.3 L138.5,228.1 L139.5,244.4 L140.4,257.7 L141.4,266.8 L142.3,271.2 L143.3,266.9 L144.4,257.7 L145.4,244.4 L146.4,228.2 L147.4,210.4 L148.5,192.6 L149.5,176.4 L150.5,163.1 L151.6,154.0 L152.6,149.6 L153.6,152.1 L154.6,157.4 L155.6,165.0 L156.6,174.4 L157.6,184.7 L158.5,194.9 L159.5,204.3 L160.5,211.9 L161.5,217.2 L162.5,219.7 L163.6,217.0 L164.7,211.4 L165.8,203.2 L166.9,193.2 L167.9,182.3 L169.0,171.3 L170.1,161.3 L171.2,153.1 L172.3,147.5 L173.4,144.8 L174.3,147.3 L175.2,152.7 L176.2,160.5 L177.1,170.0 L178.0,180.4 L178.9,190.8 L179.8,200.3 L180.8,208.0 L181.7,213.4 L182.6,215.9 L183.3,213.6 L184.1,208.6 L184.8,201.4 L185.6,192.6 L186.3,182.9 L187.1,173.2 L187.8,164.4 L188.6,157.2 L189.3,152.2 L190.1,149.8 L190.9,156.9 L191.7,171.9 L192.4,193.5 L193.2,219.9 L194.0,248.9 L194.8,277.9 L195.6,304.4 L196.3,326.0 L197.1,340.9 L197.9,348.0 L198.6,334.0 L199.4,316.4" fill="none" stroke="#0a0af5" stroke-width="2.2" stroke-linejoin="round"/>
<path d="M73.2,69.8 L73.8,73.9 L74.4,82.5 L75.1,95.0 L75.7,110.3 L76.3,127.1 L76.9,143.9 L77.5,159.1 L78.2,171.6 L78.8,180.3 L79.4,184.4 L80.2,180.7 L81.0,172.8 L81.8,161.5 L82.6,147.6 L83.3,132.5 L84.1,117.3 L84.9,103.4 L85.7,92.1 L86.5,84.2 L87.3,80.5 L88.0,84.8 L88.8,93.7 L89.5,106.6 L90.2,122.4 L90.9,139.7 L91.7,157.0 L92.4,172.8 L93.1,185.7 L93.9,194.6 L94.6,198.9 L95.3,195.4 L96.1,188.2 L96.8,177.7 L97.6,164.8 L98.3,150.8 L99.0,136.7 L99.8,123.8 L100.5,113.3 L101.3,106.1 L102.0,102.6 L102.8,106.7 L103.6,115.4 L104.4,128.0 L105.2,143.4 L106.0,160.2 L106.8,177.1 L107.6,192.5 L108.4,205.0 L109.2,213.7 L110.0,217.8 L110.7,214.7 L111.4,208.1 L112.2,198.5 L112.9,186.8 L113.6,174.0 L114.3,161.2 L115.0,149.5 L115.8,139.9 L116.5,133.3 L117.2,130.2 L117.9,133.6 L118.7,140.8 L119.4,151.2 L120.1,163.9 L120.8,177.9 L121.6,191.8 L122.3,204.6 L123.0,215.0 L123.8,222.1 L124.5,225.6 L125.3,222.0 L126.2,214.6 L127.0,203.8 L127.8,190.7 L128.7,176.3 L129.5,161.8 L130.3,148.7 L131.1,137.9 L132.0,130.5 L132.8,127.0 L133.8,133.1 L134.7,146.1 L135.7,164.7 L136.6,187.6 L137.6,212.7 L138.5,237.8 L139.5,260.7 L140.4,279.4 L141.4,292.3 L142.3,298.5 L143.3,292.3 L144.4,279.3 L145.4,260.5 L146.4,237.4 L147.4,212.2 L148.5,186.9 L149.5,163.9 L150.5,145.1 L151.6,132.1 L152.6,125.9 L153.6,130.0 L154.6,138.5 L155.6,150.8 L156.6,166.0 L157.6,182.5 L158.5,199.1 L159.5,214.2 L160.5,226.6 L161.5,235.1 L162.5,239.2 L163.6,235.1 L164.7,226.6 L165.8,214.3 L166.9,199.2 L167.9,182.7 L169.0,166.1 L170.1,151.1 L171.2,138.8 L172.3,130.2 L173.4,126.2 L174.3,130.1 L175.2,138.3 L176.2,150.1 L177.1,164.5 L178.0,180.4 L178.9,196.3 L179.8,210.7 L180.8,222.6 L181.7,230.7 L182.6,234.6 L183.3,230.8 L184.1,222.7 L184.8,210.9 L185.6,196.5 L186.3,180.8 L187.1,165.0 L187.8,150.7 L188.6,138.9 L189.3,130.8 L190.1,127.0 L190.9,134.9 L191.7,151.5 L192.4,175.6 L193.2,205.1 L194.0,237.5 L194.8,269.8 L195.6,299.3 L196.3,323.4 L197.1,340.1 L197.9,348.0 L198.6,334.0 L199.4,316.4" fill="none" stroke="#0a0af5" stroke-width="2.2" stroke-linejoin="round"/>
<path d="M73.2,50.9 L73.8,56.3 L74.4,67.8 L75.1,84.3 L75.7,104.6 L76.3,126.8 L76.9,149.0 L77.5,169.3 L78.2,185.8 L78.8,197.3 L79.4,202.7 L80.2,197.7 L81.0,187.1 L81.8,171.7 L82.6,153.0 L83.3,132.4 L84.1,111.8 L84.9,93.1 L85.7,77.7 L86.5,67.1 L87.3,62.1 L88.0,67.7 L88.8,79.3 L89.5,96.2 L90.2,116.8 L90.9,139.5 L91.7,162.1 L92.4,182.7 L93.1,199.6 L93.9,211.3 L94.6,216.8 L95.3,212.1 L96.1,202.1 L96.8,187.8 L97.6,170.2 L98.3,150.9 L99.0,131.6 L99.8,114.1 L100.5,99.7 L101.3,89.8 L102.0,85.1 L102.8,90.4 L103.6,101.7 L104.4,118.0 L105.2,138.0 L106.0,159.9 L106.8,181.8 L107.6,201.7 L108.4,218.0 L109.2,229.3 L110.0,234.7 L110.7,230.4 L111.4,221.3 L112.2,208.2 L112.9,192.2 L113.6,174.6 L114.3,157.0 L115.0,141.0 L115.8,127.9 L116.5,118.9 L117.2,114.6 L117.9,119.1 L118.7,128.8 L119.4,142.7 L120.1,159.8 L120.8,178.5 L121.6,197.2 L122.3,214.3 L123.0,228.2 L123.8,237.8 L124.5,242.4 L125.3,237.5 L126.2,227.1 L127.0,212.1 L127.8,193.7 L128.7,173.5 L129.5,153.3 L130.3,134.9 L131.1,119.9 L132.0,109.5 L132.8,104.6 L133.8,112.5 L134.7,129.2 L135.7,153.3 L136.6,182.8 L137.6,215.2 L138.5,247.5 L139.5,277.0 L140.4,301.2 L141.4,317.8 L142.3,325.7 L143.3,317.7 L144.4,300.9 L145.4,276.5 L146.4,246.7 L147.4,214.0 L148.5,181.3 L149.5,151.4 L150.5,127.0 L151.6,110.2 L152.6,102.2 L153.6,107.8 L154.6,119.6 L155.6,136.6 L156.6,157.5 L157.6,180.4 L158.5,203.3 L159.5,224.1 L160.5,241.2 L161.5,253.0 L162.5,258.6 L163.6,253.2 L164.7,241.8 L165.8,225.3 L166.9,205.2 L167.9,183.1 L169.0,161.0 L170.1,140.8 L171.2,124.4 L172.3,113.0 L173.4,107.6 L174.3,112.8 L175.2,123.8 L176.2,139.7 L177.1,159.1 L178.0,180.5 L178.9,201.8 L179.8,221.2 L180.8,237.1 L181.7,248.1 L182.6,253.3 L183.3,248.0 L184.1,236.7 L184.8,220.5 L185.6,200.5 L186.3,178.7 L187.1,156.9 L187.8,136.9 L188.6,120.7 L189.3,109.4 L190.1,104.1 L190.9,112.8 L191.7,131.2 L192.4,157.8 L193.2,190.3 L194.0,226.0 L194.8,261.7 L195.6,294.3 L196.3,320.9 L197.1,339.3 L197.9,348.0 L198.6,334.0 L199.4,316.4" fill="none" stroke="#0a0af5" stroke-width="2.2" stroke-linejoin="round"/>
<path d="M73.2,32.0 L73.6,35.3 L74.0,41.7 L74.4,50.9 L74.8,62.6 L75.1,76.6 L75.5,92.2 L75.9,109.1 L76.3,126.5 L76.7,143.9 L77.1,160.8 L77.5,176.4 L77.9,190.4 L78.2,202.1 L78.6,211.3 L79.0,217.7 L79.4,221.0 L79.9,217.9 L80.4,211.9 L80.9,203.3 L81.4,192.3 L81.9,179.2 L82.4,164.5 L82.9,148.7 L83.3,132.4 L83.8,116.0 L84.3,100.2 L84.8,85.5 L85.3,72.4 L85.8,61.4 L86.3,52.8 L86.8,46.8 L87.3,43.7 L87.8,47.1 L88.2,53.5 L88.7,62.8 L89.1,74.6 L89.6,88.7 L90.0,104.6 L90.5,121.6 L90.9,139.2 L91.4,156.8 L91.9,173.8 L92.3,189.7 L92.8,203.8 L93.2,215.6 L93.7,224.9 L94.1,231.3 L94.6,234.7 L95.1,231.8 L95.5,226.2 L96.0,218.0 L96.4,207.6 L96.9,195.3 L97.4,181.4 L97.8,166.5 L98.3,151.1 L98.8,135.7 L99.2,120.8 L99.7,106.9 L100.2,94.6 L100.6,84.2 L101.1,76.0 L101.5,70.4 L102.0,67.5 L102.5,70.7 L103.0,76.9 L103.5,85.9 L104.0,97.3 L104.5,110.9 L105.0,126.1 L105.5,142.5 L106.0,159.5 L106.5,176.5 L107.0,192.9 L107.5,208.1 L108.0,221.7 L108.5,233.1 L109.0,242.1 L109.5,248.3 L110.0,251.5 L110.5,248.8 L110.9,243.7 L111.3,236.3 L111.8,226.8 L112.2,215.5 L112.7,202.9 L113.2,189.3 L113.6,175.2 L114.0,161.1 L114.5,147.5 L115.0,134.9 L115.4,123.6 L115.9,114.1 L116.3,106.7 L116.8,101.6 L117.2,98.9 L117.7,101.7 L118.1,107.1 L118.6,114.9 L119.0,124.9 L119.5,136.7 L119.9,150.0 L120.4,164.3 L120.8,179.1 L121.3,193.9 L121.8,208.2 L122.2,221.5 L122.7,233.3 L123.1,243.3 L123.6,251.1 L124.0,256.5 L124.5,259.3 L125.0,256.2 L125.5,250.2 L126.1,241.6 L126.6,230.6 L127.1,217.5 L127.6,202.9 L128.1,187.1 L128.7,170.8 L129.2,154.4 L129.7,138.6 L130.2,124.0 L130.7,110.9 L131.2,99.9 L131.8,91.3 L132.3,85.3 L132.8,82.2 L133.4,87.0 L134.0,96.0 L134.6,109.2 L135.2,126.1 L135.8,146.0 L136.4,168.5 L137.0,192.6 L137.6,217.6 L138.1,242.6 L138.7,266.7 L139.3,289.2 L139.9,309.1 L140.5,326.0 L141.1,339.2 L141.7,348.2 L142.3,353.0 L142.9,348.2 L143.6,339.0 L144.2,325.6 L144.9,308.5 L145.5,288.3 L146.2,265.5 L146.8,241.1 L147.4,215.8 L148.1,190.4 L148.7,166.0 L149.4,143.2 L150.0,123.0 L150.7,105.9 L151.3,92.5 L152.0,83.3 L152.6,78.5 L153.2,82.0 L153.8,88.7 L154.5,98.4 L155.1,110.8 L155.7,125.5 L156.3,142.1 L156.9,159.8 L157.6,178.2 L158.2,196.7 L158.8,214.4 L159.4,231.0 L160.0,245.7 L160.6,258.1 L161.3,267.8 L161.9,274.5 L162.5,278.0 L163.2,274.7 L163.9,268.3 L164.5,259.1 L165.2,247.4 L165.9,233.4 L166.6,217.8 L167.3,200.9 L167.9,183.5 L168.6,166.1 L169.3,149.2 L170.0,133.6 L170.7,119.6 L171.4,107.9 L172.0,98.7 L172.7,92.3 L173.4,89.0 L174.0,92.2 L174.6,98.4 L175.1,107.3 L175.7,118.6 L176.3,132.1 L176.8,147.3 L177.4,163.6 L178.0,180.5 L178.6,197.4 L179.2,213.7 L179.7,228.9 L180.3,242.4 L180.9,253.7 L181.4,262.6 L182.0,268.8 L182.6,272.0 L183.1,268.7 L183.5,262.2 L184.0,253.0 L184.5,241.1 L184.9,227.0 L185.4,211.2 L185.9,194.2 L186.3,176.6 L186.8,159.0 L187.3,142.0 L187.8,126.2 L188.2,112.1 L188.7,100.2 L189.2,91.0 L189.6,84.5 L190.1,81.2 L190.6,85.9" fill="none" stroke="#0a0af5" stroke-width="4.0" stroke-linejoin="round"/>
<path d="M73.2,32.0 L73.6,35.3 L74.0,41.7 L74.4,50.9 L74.8,62.6 L75.1,76.6 L75.5,92.2 L75.9,109.1 L76.3,126.5 L76.7,143.9 L77.1,160.8 L77.5,176.4 L77.9,190.4 L78.2,202.1 L78.6,211.3 L79.0,217.7 L79.4,221.0 L79.9,217.9 L80.4,211.9 L80.9,203.3 L81.4,192.3 L81.9,179.2 L82.4,164.5 L82.9,148.7 L83.3,132.4 L83.8,116.0 L84.3,100.2 L84.8,85.5 L85.3,72.4 L85.8,61.4 L86.3,52.8 L86.8,46.8 L87.3,43.7 L87.8,47.1 L88.2,53.5 L88.7,62.8 L89.1,74.6 L89.6,88.7 L90.0,104.6 L90.5,121.6 L90.9,139.2 L91.4,156.8 L91.9,173.8 L92.3,189.7 L92.8,203.8 L93.2,215.6 L93.7,224.9 L94.1,231.3 L94.6,234.7 L95.1,231.8 L95.5,226.2 L96.0,218.0 L96.4,207.6 L96.9,195.3 L97.4,181.4 L97.8,166.5 L98.3,151.1 L98.8,135.7 L99.2,120.8 L99.7,106.9 L100.2,94.6 L100.6,84.2 L101.1,76.0 L101.5,70.4 L102.0,67.5 L102.5,70.7 L103.0,76.9 L103.5,85.9 L104.0,97.3 L104.5,110.9 L105.0,126.1 L105.5,142.5 L106.0,159.5 L106.5,176.5 L107.0,192.9 L107.5,208.1 L108.0,221.7 L108.5,233.1 L109.0,242.1 L109.5,248.3 L110.0,251.5 L110.5,248.8 L110.9,243.7 L111.3,236.3 L111.8,226.8 L112.2,215.5 L112.7,202.9 L113.2,189.3 L113.6,175.2 L114.0,161.1 L114.5,147.5 L115.0,134.9 L115.4,123.6 L115.9,114.1 L116.3,106.7 L116.8,101.6 L117.2,98.9 L117.7,101.7 L118.1,107.1 L118.6,114.9 L119.0,124.9 L119.5,136.7 L119.9,150.0 L120.4,164.3 L120.8,179.1 L121.3,193.9 L121.8,208.2 L122.2,221.5 L122.7,233.3 L123.1,243.3 L123.6,251.1 L124.0,256.5 L124.5,259.3 L125.0,256.2 L125.5,250.2 L126.1,241.6 L126.6,230.6 L127.1,217.5 L127.6,202.9 L128.1,187.1 L128.7,170.8 L129.2,154.4 L129.7,138.6 L130.2,124.0 L130.7,110.9 L131.2,99.9 L131.8,91.3 L132.3,85.3 L132.8,82.2 L133.4,87.0 L134.0,96.0 L134.6,109.2 L135.2,126.1 L135.8,146.0 L136.4,168.5 L137.0,192.6 L137.6,217.6 L138.1,242.6 L138.7,266.7 L139.3,289.2 L139.9,309.1 L140.5,326.0 L141.1,339.2 L141.7,348.2 L142.3,353.0 L142.9,348.2 L143.6,339.0 L144.2,325.6 L144.9,308.5 L145.5,288.3 L146.2,265.5 L146.8,241.1 L147.4,215.8 L148.1,190.4 L148.7,166.0 L149.4,143.2 L150.0,123.0 L150.7,105.9 L151.3,92.5 L152.0,83.3 L152.6,78.5 L153.2,82.0 L153.8,88.7 L154.5,98.4 L155.1,110.8 L155.7,125.5 L156.3,142.1 L156.9,159.8 L157.6,178.2 L158.2,196.7 L158.8,214.4 L159.4,231.0 L160.0,245.7 L160.6,258.1 L161.3,267.8 L161.9,274.5 L162.5,278.0 L163.2,274.7 L163.9,268.3 L164.5,259.1 L165.2,247.4 L165.9,233.4 L166.6,217.8 L167.3,200.9 L167.9,183.5 L168.6,166.1 L169.3,149.2 L170.0,133.6 L170.7,119.6 L171.4,107.9 L172.0,98.7 L172.7,92.3 L173.4,89.0 L174.0,92.2 L174.6,98.4 L175.1,107.3 L175.7,118.6 L176.3,132.1 L176.8,147.3 L177.4,163.6 L178.0,180.5 L178.6,197.4 L179.2,213.7 L179.7,228.9 L180.3,242.4 L180.9,253.7 L181.4,262.6 L182.0,268.8 L182.6,272.0 L183.1,268.7 L183.5,262.2 L184.0,253.0 L184.5,241.1 L184.9,227.0 L185.4,211.2 L185.9,194.2 L186.3,176.6 L186.8,159.0 L187.3,142.0 L187.8,126.2 L188.2,112.1 L188.7,100.2 L189.2,91.0 L189.6,84.5 L190.1,81.2 L190.6,85.9" fill="none" stroke="#fff" stroke-width="1.0" stroke-linejoin="round" stroke-dasharray="3 1.5" opacity="0.85"/>
<path d="M189.2,91.0 L189.6,84.5 L190.1,81.2 L190.6,85.9 L191.1,94.8 L191.6,107.8 L192.1,124.4 L192.5,144.1 L193.0,166.2 L193.5,190.0 L194.0,214.6 L194.5,239.2 L195.0,263.0 L195.5,285.1 L195.9,304.8 L196.4,321.4 L196.9,334.4 L197.4,343.3 L197.9,348.0 L198.4,328.4 L198.8,309.0 L199.3,289.9 L199.8,271.5 L200.2,253.7 L200.7,236.9 L201.1,221.1 L201.6,206.6 L202.1,193.4 L202.5,181.7 L203.0,171.6 L203.5,163.2 L203.9,156.6 L204.4,151.8 L204.8,149.0 L205.3,148.0 L205.7,149.3 L206.1,153.4 L206.5,160.0 L207.0,169.2 L207.4,180.9 L207.8,194.9 L208.2,211.2 L208.6,229.6 L209.0,249.8 L209.4,271.8 L209.8,295.2 L210.2,319.9 L210.7,345.7 L211.1,372.2 L211.5,399.2 L211.9,426.5 L212.4,402.8 L212.9,379.4 L213.4,356.4 L213.9,334.1 L214.4,312.7 L214.9,292.3 L215.4,273.3 L215.9,255.7 L216.5,239.8 L217.0,225.7 L217.5,213.5 L218.0,203.4 L218.5,195.4 L219.0,189.6 L219.5,186.2 L220.0,185.0 L220.5,186.1 L220.9,189.4 L221.4,194.8 L221.8,202.3 L222.3,211.8 L222.8,223.2 L223.2,236.5 L223.7,251.4 L224.2,267.9 L224.6,285.8 L225.1,304.8 L225.6,324.9 L226.0,345.9 L226.5,367.5 L226.9,389.5 L227.4,411.7 L227.9,392.9 L228.4,374.3 L228.9,356.0 L229.4,338.3 L229.9,321.2 L230.4,305.1 L230.9,290.0 L231.4,276.0 L231.8,263.4 L232.3,252.1 L232.8,242.5 L233.3,234.4 L233.8,228.1 L234.3,223.5 L234.8,220.7 L235.3,219.8 L235.8,220.8 L236.3,223.7 L236.7,228.5 L237.2,235.1 L237.7,243.6 L238.2,253.7 L238.7,265.5 L239.2,278.7 L239.6,293.4 L240.1,309.2 L240.6,326.2 L241.1,344.0 L241.6,362.6 L242.0,381.7 L242.5,401.3 L243.0,421.0 L243.5,402.7 L244.0,384.6 L244.6,366.9 L245.1,349.6 L245.6,333.1 L246.1,317.4 L246.6,302.7 L247.2,289.1 L247.7,276.8 L248.2,265.9 L248.7,256.5 L249.2,248.7 L249.7,242.5 L250.3,238.1 L250.8,235.4 L251.3,234.5 L251.8,235.5 L252.3,238.4 L252.8,243.2 L253.2,249.9 L253.7,258.4 L254.2,268.7 L254.7,280.5 L255.2,293.9 L255.7,308.6 L256.2,324.6 L256.7,341.6 L257.2,359.6 L257.6,378.4 L258.1,397.7 L258.6,417.3 L259.1,437.2 L259.6,417.9 L260.1,398.8 L260.5,380.1 L261.0,361.9 L261.5,344.4 L261.9,327.9 L262.4,312.4 L262.9,298.0 L263.4,285.1 L263.9,273.6 L264.3,263.6 L264.8,255.4 L265.3,248.9 L265.8,244.2 L266.2,241.3 L266.7,240.4 L267.2,241.4 L267.7,244.3 L268.2,249.2 L268.8,255.9 L269.3,264.5 L269.8,274.8 L270.3,286.7 L270.8,300.1 L271.3,314.9 L271.8,331.0 L272.3,348.2 L272.8,366.3 L273.4,385.1 L273.9,404.5 L274.4,424.3 L274.9,444.3 L275.4,424.1 L275.9,404.2 L276.4,384.6 L276.9,365.5 L277.5,347.3 L278.0,330.0 L278.5,313.7 L279.0,298.8 L279.5,285.2 L280.0,273.2 L280.5,262.8 L281.1,254.2 L281.6,247.4 L282.1,242.5 L282.6,239.5 L283.1,238.5 L283.6,239.4 L284.1,242.3 L284.6,246.9 L285.1,253.4 L285.5,261.7 L286.0,271.6 L286.5,283.0 L287.0,296.0 L287.5,310.2 L288.0,325.7 L288.5,342.2 L288.9,359.6 L289.4,377.7 L289.9,396.4 L290.4,415.5 L290.9,434.7 L291.4,413.2 L291.9,391.9 L292.4,371.0 L292.9,350.7 L293.4,331.3 L293.9,312.8 L294.4,295.5 L294.9,279.6 L295.5,265.1 L296.0,252.3 L296.5,241.2 L297.0,232.0 L297.5,224.7 L298.0,219.5 L298.5,216.4 L299.0,215.3 L299.5,216.3 L300.0,219.3 L300.5,224.3 L301.1,231.3 L301.6,240.1 L302.1,250.6 L302.6,262.9 L303.1,276.7 L303.6,292.0 L304.1,308.5 L304.6,326.1 L305.1,344.8 L305.7,364.1 L306.2,384.1 L306.7,404.4 L307.2,425.0 L307.7,405.3 L308.2,385.9 L308.6,366.8 L309.1,348.2 L309.6,330.4 L310.1,313.6 L310.6,297.7 L311.0,283.2 L311.5,269.9 L312.0,258.2 L312.5,248.1 L313.0,239.7 L313.5,233.0 L313.9,228.3 L314.4,225.4 L314.9,224.4 L315.4,225.4 L316.0,228.6 L316.5,233.7 L317.0,240.8 L317.6,249.9 L318.1,260.8 L318.7,273.5 L319.2,287.7 L319.7,303.4 L320.3,320.4 L320.8,338.6 L321.4,357.8 L321.9,377.8 L322.4,398.3 L323.0,419.3 L323.5,440.5 L324.0,419.8 L324.4,399.3 L324.9,379.2 L325.4,359.8 L325.8,341.0 L326.3,323.3 L326.8,306.6 L327.2,291.3 L327.7,277.4 L328.2,265.1 L328.7,254.4 L329.1,245.6 L329.6,238.6 L330.1,233.6 L330.5,230.5 L331.0,229.5 L331.5,230.5 L332.0,233.4 L332.5,238.3 L333.1,245.0 L333.6,253.5 L334.1,263.8 L334.6,275.7 L335.1,289.1 L335.6,303.9 L336.1,319.9 L336.6,337.0 L337.1,355.1 L337.7,373.9 L338.2,393.2 L338.7,413.0 L339.2,432.9 L339.7,410.8 L340.2,389.0 L340.8,367.6 L341.3,346.8 L341.8,326.8 L342.3,307.8 L342.8,290.1 L343.4,273.7 L343.9,258.9 L344.4,245.7 L344.9,234.4 L345.4,224.9 L345.9,217.5 L346.5,212.1 L347.0,208.9 L347.5,207.8 L348.0,208.8 L348.5,211.8 L349.0,216.8 L349.5,223.8 L350.0,232.6 L350.5,243.2 L351.0,255.4 L351.6,269.3 L352.1,284.5 L352.6,301.1 L353.1,318.8 L353.6,337.4 L354.1,356.8 L354.6,376.8 L355.1,397.1 L355.6,417.7 L356.1,396.5 L356.6,375.4 L357.1,354.8 L357.7,334.8 L358.2,315.6 L358.7,297.4 L359.2,280.3 L359.7,264.5 L360.2,250.3 L360.7,237.6 L361.2,226.7 L361.8,217.6 L362.3,210.4 L362.8,205.3 L363.3,202.1 L363.8,201.1 L364.3,202.0 L364.8,204.8 L365.3,209.4 L365.8,215.7 L366.3,223.8 L366.8,233.4 L367.3,244.7 L367.9,257.3 L368.4,271.3 L368.9,286.4 L369.4,302.5 L369.9,319.6 L370.4,337.3 L370.9,355.6 L371.4,374.2 L371.9,393.0 L372.5,372.3 L373.0,351.7 L373.6,331.6 L374.2,312.1 L374.8,293.3 L375.4,275.5 L375.9,258.8 L376.5,243.4 L377.1,229.5 L377.6,217.1 L378.2,206.5 L378.8,197.6 L379.4,190.6 L380.0,185.6 L380.5,182.5 L381.1,181.5 L381.5,188.9 L382.0,196.9 L382.4,205.5 L382.8,214.7 L383.3,224.4 L383.7,234.6 L384.1,245.4 L384.6,256.5 L385.0,268.1 L385.4,280.1 L385.8,292.4 L386.3,305.0 L386.7,317.8 L387.1,330.8 L387.6,343.8 L388.0,357.0 L388.6,343.8 L389.2,330.7 L389.8,317.7 L390.4,304.8 L391.0,292.2 L391.6,279.9 L392.2,267.9 L392.8,256.2 L393.3,245.0 L393.9,234.3 L394.5,224.0 L395.1,214.3 L395.7,205.1 L396.3,196.5 L396.9,188.4 L397.5,181.0 L397.9,187.6 L398.4,194.8 L398.8,202.4 L399.2,210.6 L399.6,219.3 L400.1,228.4 L400.5,238.0 L400.9,247.9 L401.3,258.3 L401.8,269.0 L402.2,280.0 L402.6,291.2 L403.0,302.6 L403.4,314.2 L403.9,325.9 L404.3,337.6 L404.8,325.9 L405.4,314.2 L405.9,302.6 L406.5,291.2 L407.0,280.0 L407.6,269.0 L408.1,258.3 L408.6,247.9 L409.2,238.0 L409.7,228.4 L410.3,219.3 L410.8,210.6 L411.4,202.4 L411.9,194.8 L412.5,187.6 L413.0,181.0 L413.4,188.7 L413.9,196.9 L414.3,205.8 L414.8,215.2 L415.2,225.2 L415.6,235.8 L416.1,246.9 L416.5,258.4 L416.9,270.3 L417.4,282.7 L417.8,295.4 L418.2,308.3 L418.7,321.6 L419.1,334.9 L419.6,348.4 L420.0,362.0 L420.5,348.1 L421.1,334.2 L421.6,320.4 L422.1,306.9 L422.7,293.5 L423.2,280.5 L423.8,267.8 L424.3,255.5 L424.8,243.7 L425.4,232.3 L425.9,221.5 L426.5,211.2 L427.0,201.5 L427.5,192.4 L428.1,183.9 L428.6,176.0 L429.0,184.2 L429.5,193.1 L429.9,202.6 L430.3,212.8 L430.7,223.5 L431.1,234.9 L431.6,246.8 L432.0,259.2 L432.4,272.0 L432.9,285.3 L433.3,298.9 L433.7,312.8 L434.1,327.0 L434.5,341.4 L435.0,355.9 L435.4,370.5 L435.9,356.6 L436.4,342.8 L436.9,329.0 L437.4,315.5 L437.9,302.2 L438.4,289.2 L438.9,276.6 L439.4,264.3 L439.8,252.5 L440.3,241.2 L440.8,230.3 L441.3,220.1 L441.8,210.4 L442.3,201.3 L442.8,192.8 L443.3,185.0 L443.8,192.4 L444.3,200.5 L444.8,209.1 L445.3,218.3 L445.8,228.0 L446.3,238.3 L446.8,249.0 L447.2,260.2 L447.7,271.9 L448.2,283.9 L448.7,296.2 L449.2,308.8 L449.7,321.7 L450.2,334.7 L450.7,347.8 L451.2,361.0 L451.6,346.6 L452.1,332.3 L452.5,318.1 L452.9,304.1 L453.3,290.3 L453.8,276.9 L454.2,263.8 L454.6,251.1 L455.0,238.9 L455.4,227.1 L455.9,215.9 L456.3,205.3 L456.7,195.3 L457.1,185.9 L457.6,177.1 L458.0,169.0 L458.6,176.4 L459.1,184.3 L459.7,192.8 L460.2,201.9 L460.8,211.5 L461.4,221.7 L461.9,232.3 L462.5,243.4 L463.1,254.9 L463.6,266.8 L464.2,278.9 L464.8,291.4 L465.3,304.1 L465.9,317.0 L466.4,330.0 L467.0,343.0 L467.5,329.5 L467.9,316.0 L468.4,302.7 L468.8,289.6 L469.3,276.6 L469.7,264.0 L470.2,251.7 L470.6,239.8 L471.1,228.3 L471.6,217.3 L472.0,206.8 L472.5,196.8 L472.9,187.4 L473.4,178.6 L473.8,170.3 L474.3,162.7 L474.8,170.8 L475.4,179.5 L475.9,188.8 L476.4,198.8 L477.0,209.3 L477.5,220.5 L478.0,232.1 L478.6,244.3 L479.1,256.9 L479.6,269.9 L480.1,283.3 L480.7,296.9 L481.2,310.9 L481.7,325.0 L482.3,339.2 L482.8,353.5 L483.3,339.8 L483.8,326.2 L484.3,312.7 L484.8,299.4 L485.3,286.3 L485.8,273.5 L486.3,261.0 L486.8,249.0 L487.2,237.3 L487.7,226.2 L488.2,215.5 L488.7,205.4 L489.2,195.9 L489.7,187.0 L490.2,178.6 L490.7,170.9 L491.2,178.7 L491.7,187.1 L492.2,196.1 L492.7,205.7 L493.2,215.9 L493.7,226.6 L494.2,237.9 L494.8,249.6 L495.3,261.8 L495.8,274.3 L496.3,287.2 L496.8,300.4 L497.3,313.9 L497.8,327.5 L498.3,341.2 L498.8,355.0 L499.3,339.9 L499.8,324.9 L500.2,310.1 L500.7,295.4 L501.2,281.0 L501.6,266.9 L502.1,253.2 L502.6,239.9 L503.1,227.1 L503.6,214.8 L504.0,203.1 L504.5,191.9 L505.0,181.4 L505.4,171.6 L505.9,162.4 L506.4,153.9 L506.9,161.2 L507.4,169.0 L507.9,177.4 L508.4,186.4 L508.9,195.9 L509.4,205.9 L509.9,216.4 L510.4,227.4 L511.0,238.7 L511.5,250.5 L512.0,262.5 L512.5,274.8 L513.0,287.4 L513.5,300.1 L514.0,312.9 L514.5,325.8 L514.9,312.1 L515.3,298.5 L515.6,284.9 L516.0,271.6 L516.4,258.5 L516.8,245.7 L517.2,233.2 L517.5,221.1 L517.9,209.5 L518.3,198.3 L518.7,187.7 L519.1,177.6 L519.5,168.0 L519.8,159.1 L520.2,150.7 L520.6,143.0" fill="none" stroke="#0a0af5" stroke-width="4.2" stroke-linejoin="round"/>
<path d="M376.2,277.2 L376.9,260.7 L377.6,245.6 L378.3,231.8 L379.0,219.6 L379.7,209.1 L380.4,200.4 L381.2,193.5 L381.9,188.5 L382.6,185.5 L383.3,184.5 L383.7,191.5 L384.2,199.1 L384.6,207.3 L385.0,216.0 L385.5,225.2 L385.9,234.9 L386.3,245.1 L386.8,255.7 L387.2,266.7 L387.6,278.0 L388.0,289.7 L388.5,301.6 L388.9,313.8 L389.3,326.1 L389.8,338.5 L390.2,351.0 L390.8,338.5 L391.4,326.0 L392.0,313.7 L392.6,301.5 L393.2,289.5 L393.8,277.8 L394.4,266.4 L394.9,255.4 L395.5,244.8 L396.1,234.6 L396.7,224.8 L397.3,215.6 L397.9,206.9 L398.5,198.7 L399.1,191.1 L399.7,184.0 L400.1,190.2 L400.6,197.0 L401.0,204.2 L401.4,211.9 L401.8,220.1 L402.2,228.7 L402.7,237.7 L403.1,247.1 L403.5,256.9 L403.9,266.9 L404.4,277.3 L404.8,287.8 L405.2,298.6 L405.6,309.5 L406.1,320.5 L406.5,331.6 L407.0,320.5 L407.6,309.5 L408.1,298.6 L408.7,287.8 L409.2,277.3 L409.8,266.9 L410.3,256.9 L410.9,247.1 L411.4,237.7 L411.9,228.7 L412.5,220.1 L413.0,211.9 L413.6,204.2 L414.1,197.0 L414.7,190.2 L415.2,184.0 L415.6,191.3 L416.1,199.1 L416.5,207.6 L416.9,216.5 L417.4,226.0 L417.8,236.1 L418.3,246.6 L418.7,257.5 L419.1,268.9 L419.6,280.6 L420.0,292.7 L420.4,305.0 L420.9,317.6 L421.3,330.3 L421.8,343.1 L422.2,356.0 L422.7,342.7 L423.3,329.5 L423.8,316.4 L424.4,303.5 L424.9,290.8 L425.4,278.4 L426.0,266.4 L426.5,254.7 L427.0,243.4 L427.6,232.6 L428.1,222.3 L428.6,212.5 L429.2,203.2 L429.7,194.6 L430.3,186.5 L430.8,179.0 L431.2,186.8 L431.6,195.3 L432.1,204.4 L432.5,214.1 L432.9,224.3 L433.4,235.2 L433.8,246.5 L434.2,258.3 L434.6,270.6 L435.0,283.2 L435.5,296.2 L435.9,309.5 L436.3,323.0 L436.8,336.8 L437.2,350.6 L437.6,364.5 L438.1,351.3 L438.6,338.1 L439.1,325.1 L439.6,312.2 L440.1,299.5 L440.6,287.2 L441.1,275.1 L441.5,263.5 L442.0,252.2 L442.5,241.4 L443.0,231.1 L443.5,221.4 L444.0,212.2 L444.5,203.5 L445.0,195.5 L445.5,188.0 L446.0,195.1 L446.5,202.7 L447.0,210.9 L447.5,219.6 L448.0,228.8 L448.5,238.6 L449.0,248.8 L449.4,259.4 L449.9,270.4 L450.4,281.8 L450.9,293.5 L451.4,305.5 L451.9,317.7 L452.4,330.0 L452.9,342.5 L453.4,355.0 L453.8,341.3 L454.2,327.6 L454.7,314.1 L455.1,300.8 L455.5,287.6 L455.9,274.8 L456.4,262.3 L456.8,250.2 L457.2,238.6 L457.6,227.4 L458.1,216.7 L458.5,206.6 L458.9,197.1 L459.3,188.1 L459.8,179.7 L460.2,172.0 L460.8,179.0 L461.3,186.5 L461.9,194.6 L462.4,203.2 L463.0,212.3 L463.6,222.0 L464.1,232.0 L464.7,242.5 L465.3,253.4 L465.8,264.7 L466.4,276.3 L466.9,288.1 L467.5,300.1 L468.1,312.3 L468.6,324.6 L469.2,337.0 L469.7,324.2 L470.1,311.4 L470.6,298.7 L471.0,286.2 L471.5,273.9 L471.9,261.9 L472.4,250.3 L472.9,238.9 L473.3,228.0 L473.8,217.6 L474.2,207.6 L474.7,198.1 L475.1,189.2 L475.6,180.8 L476.0,172.9 L476.5,165.7 L477.0,173.4 L477.6,181.7 L478.1,190.6 L478.6,200.1 L479.2,210.1 L479.7,220.7 L480.2,231.8 L480.8,243.4 L481.3,255.4 L481.8,267.8 L482.3,280.6 L482.9,293.6 L483.4,306.9 L483.9,320.3 L484.5,333.9 L485.0,347.5 L485.5,334.5 L486.0,321.5 L486.5,308.7 L487.0,296.0 L487.5,283.6 L488.0,271.4 L488.5,259.6 L488.9,248.1 L489.4,237.1 L489.9,226.5 L490.4,216.3 L490.9,206.7 L491.4,197.7 L491.9,189.2 L492.4,181.2 L492.9,173.9 L493.4,181.3 L493.9,189.3 L494.4,197.9 L494.9,207.0 L495.4,216.7 L495.9,226.9 L496.4,237.6 L496.9,248.8 L497.5,260.3 L498.0,272.3 L498.5,284.5 L499.0,297.1 L499.5,309.9 L500.0,322.8 L500.5,335.9 L501.0,349.0 L501.5,334.6 L501.9,320.3 L502.4,306.1 L502.9,292.1 L503.4,278.3 L503.8,264.8 L504.3,251.7 L504.8,239.0 L505.3,226.8 L505.8,215.1 L506.2,203.9 L506.7,193.2 L507.2,183.2 L507.6,173.8 L508.1,165.0 L508.6,156.9 L509.1,163.8 L509.6,171.2 L510.1,179.2 L510.6,187.7 L511.1,196.7 L511.6,206.2 L512.1,216.2 L512.6,226.5 L513.2,237.3 L513.7,248.4 L514.2,259.8 L514.7,271.5 L515.2,283.4 L515.7,295.4 L516.2,307.6 L516.7,319.8 L516.9,306.6 L517.2,293.4 L517.4,280.3 L517.7,267.4 L517.9,254.7 L518.2,242.3 L518.4,230.3 L518.7,218.6 L518.9,207.3 L519.1,196.5 L519.4,186.2 L519.6,176.4 L519.9,167.2 L520.1,158.6 L520.4,150.5 L520.6,143.0" fill="none" stroke="#0a0af5" stroke-width="2.6" stroke-linejoin="round"/>
<path d="M73.2,32.0 L73.6,35.3 L74.0,41.7 L74.4,50.9 L74.8,62.6 L75.1,76.6 L75.5,92.2 L75.9,109.1 L76.3,126.5 L76.7,143.9 L77.1,160.8 L77.5,176.4 L77.9,190.4 L78.2,202.1 L78.6,211.3 L79.0,217.7 L79.4,221.0 L79.9,217.9 L80.4,211.9 L80.9,203.3 L81.4,192.3 L81.9,179.2 L82.4,164.5 L82.9,148.7 L83.3,132.4 L83.8,116.0 L84.3,100.2 L84.8,85.5 L85.3,72.4 L85.8,61.4 L86.3,52.8 L86.8,46.8 L87.3,43.7 L87.8,47.1 L88.2,53.5 L88.7,62.8 L89.1,74.6 L89.6,88.7 L90.0,104.6 L90.5,121.6 L90.9,139.2 L91.4,156.8 L91.9,173.8 L92.3,189.7 L92.8,203.8 L93.2,215.6 L93.7,224.9 L94.1,231.3 L94.6,234.7 L95.1,231.8 L95.5,226.2 L96.0,218.0 L96.4,207.6 L96.9,195.3 L97.4,181.4 L97.8,166.5 L98.3,151.1 L98.8,135.7 L99.2,120.8 L99.7,106.9 L100.2,94.6 L100.6,84.2 L101.1,76.0 L101.5,70.4 L102.0,67.5 L102.5,70.7 L103.0,76.9 L103.5,85.9 L104.0,97.3 L104.5,110.9 L105.0,126.1 L105.5,142.5 L106.0,159.5 L106.5,176.5 L107.0,192.9 L107.5,208.1 L108.0,221.7 L108.5,233.1 L109.0,242.1 L109.5,248.3 L110.0,251.5 L110.5,248.8 L110.9,243.7 L111.3,236.3 L111.8,226.8 L112.2,215.5 L112.7,202.9 L113.2,189.3 L113.6,175.2 L114.0,161.1 L114.5,147.5 L115.0,134.9 L115.4,123.6 L115.9,114.1 L116.3,106.7 L116.8,101.6 L117.2,98.9 L117.7,101.7 L118.1,107.1 L118.6,114.9 L119.0,124.9 L119.5,136.7 L119.9,150.0 L120.4,164.3 L120.8,179.1 L121.3,193.9 L121.8,208.2 L122.2,221.5 L122.7,233.3 L123.1,243.3 L123.6,251.1 L124.0,256.5 L124.5,259.3 L125.0,256.2 L125.5,250.2 L126.1,241.6 L126.6,230.6 L127.1,217.5 L127.6,202.9 L128.1,187.1 L128.7,170.8 L129.2,154.4 L129.7,138.6 L130.2,124.0 L130.7,110.9 L131.2,99.9 L131.8,91.3 L132.3,85.3 L132.8,82.2 L133.4,87.0 L134.0,96.0 L134.6,109.2 L135.2,126.1 L135.8,146.0 L136.4,168.5 L137.0,192.6 L137.6,217.6 L138.1,242.6 L138.7,266.7 L139.3,289.2 L139.9,309.1 L140.5,326.0 L141.1,339.2 L141.7,348.2 L142.3,353.0 L142.9,348.2 L143.6,339.0 L144.2,325.6 L144.9,308.5 L145.5,288.3 L146.2,265.5 L146.8,241.1 L147.4,215.8 L148.1,190.4 L148.7,166.0 L149.4,143.2 L150.0,123.0 L150.7,105.9 L151.3,92.5 L152.0,83.3 L152.6,78.5 L153.2,82.0 L153.8,88.7 L154.5,98.4 L155.1,110.8 L155.7,125.5 L156.3,142.1 L156.9,159.8 L157.6,178.2 L158.2,196.7 L158.8,214.4 L159.4,231.0 L160.0,245.7 L160.6,258.1 L161.3,267.8 L161.9,274.5 L162.5,278.0 L163.2,274.7 L163.9,268.3 L164.5,259.1 L165.2,247.4 L165.9,233.4 L166.6,217.8 L167.3,200.9 L167.9,183.5 L168.6,166.1 L169.3,149.2 L170.0,133.6 L170.7,119.6 L171.4,107.9 L172.0,98.7 L172.7,92.3 L173.4,89.0 L174.0,92.2 L174.6,98.4 L175.1,107.3 L175.7,118.6 L176.3,132.1 L176.8,147.3 L177.4,163.6 L178.0,180.5 L178.6,197.4 L179.2,213.7 L179.7,228.9 L180.3,242.4 L180.9,253.7 L181.4,262.6 L182.0,268.8 L182.6,272.0 L183.1,268.7 L183.5,262.2 L184.0,253.0 L184.5,241.1 L184.9,227.0 L185.4,211.2 L185.9,194.2 L186.3,176.6 L186.8,159.0 L187.3,142.0 L187.8,126.2 L188.2,112.1 L188.7,100.2 L189.2,91.0 L189.6,84.5 L190.1,81.2 L190.6,85.9 L191.1,94.8 L191.6,107.8 L192.1,124.4 L192.5,144.1 L193.0,166.2 L193.5,190.0 L194.0,214.6 L194.5,239.2 L195.0,263.0 L195.5,285.1 L195.9,304.8 L196.4,321.4 L196.9,334.4 L197.4,343.3 L197.9,348.0 L198.4,328.4 L198.8,309.0 L199.3,289.9 L199.8,271.5 L200.2,253.7 L200.7,236.9 L201.1,221.1 L201.6,206.6 L202.1,193.4 L202.5,181.7 L203.0,171.6 L203.5,163.2 L203.9,156.6 L204.4,151.8 L204.8,149.0 L205.3,148.0 L205.7,149.3 L206.1,153.4 L206.5,160.0 L207.0,169.2 L207.4,180.9 L207.8,194.9 L208.2,211.2 L208.6,229.6 L209.0,249.8 L209.4,271.8 L209.8,295.2 L210.2,319.9 L210.7,345.7 L211.1,372.2 L211.5,399.2 L211.9,426.5 L212.4,402.8 L212.9,379.4 L213.4,356.4 L213.9,334.1 L214.4,312.7 L214.9,292.3 L215.4,273.3 L215.9,255.7 L216.5,239.8 L217.0,225.7 L217.5,213.5 L218.0,203.4 L218.5,195.4 L219.0,189.6 L219.5,186.2 L220.0,185.0 L220.5,186.1 L220.9,189.4 L221.4,194.8 L221.8,202.3 L222.3,211.8 L222.8,223.2 L223.2,236.5 L223.7,251.4 L224.2,267.9 L224.6,285.8 L225.1,304.8 L225.6,324.9 L226.0,345.9 L226.5,367.5 L226.9,389.5 L227.4,411.7 L227.9,392.9 L228.4,374.3 L228.9,356.0 L229.4,338.3 L229.9,321.2 L230.4,305.1 L230.9,290.0 L231.4,276.0 L231.8,263.4 L232.3,252.1 L232.8,242.5 L233.3,234.4 L233.8,228.1 L234.3,223.5 L234.8,220.7 L235.3,219.8 L235.8,220.8 L236.3,223.7 L236.7,228.5 L237.2,235.1 L237.7,243.6 L238.2,253.7 L238.7,265.5 L239.2,278.7 L239.6,293.4 L240.1,309.2 L240.6,326.2 L241.1,344.0 L241.6,362.6 L242.0,381.7 L242.5,401.3 L243.0,421.0 L243.5,402.7 L244.0,384.6 L244.6,366.9 L245.1,349.6 L245.6,333.1 L246.1,317.4 L246.6,302.7 L247.2,289.1 L247.7,276.8 L248.2,265.9 L248.7,256.5 L249.2,248.7 L249.7,242.5 L250.3,238.1 L250.8,235.4 L251.3,234.5 L251.8,235.5 L252.3,238.4 L252.8,243.2 L253.2,249.9 L253.7,258.4 L254.2,268.7 L254.7,280.5 L255.2,293.9 L255.7,308.6 L256.2,324.6 L256.7,341.6 L257.2,359.6 L257.6,378.4 L258.1,397.7 L258.6,417.3 L259.1,437.2 L259.6,417.9 L260.1,398.8 L260.5,380.1 L261.0,361.9 L261.5,344.4 L261.9,327.9 L262.4,312.4 L262.9,298.0 L263.4,285.1 L263.9,273.6 L264.3,263.6 L264.8,255.4 L265.3,248.9 L265.8,244.2 L266.2,241.3 L266.7,240.4 L267.2,241.4 L267.7,244.3 L268.2,249.2 L268.8,255.9 L269.3,264.5 L269.8,274.8 L270.3,286.7 L270.8,300.1 L271.3,314.9 L271.8,331.0 L272.3,348.2 L272.8,366.3 L273.4,385.1 L273.9,404.5 L274.4,424.3 L274.9,444.3 L275.4,424.1 L275.9,404.2 L276.4,384.6 L276.9,365.5 L277.5,347.3 L278.0,330.0 L278.5,313.7 L279.0,298.8 L279.5,285.2 L280.0,273.2 L280.5,262.8 L281.1,254.2 L281.6,247.4 L282.1,242.5 L282.6,239.5 L283.1,238.5 L283.6,239.4 L284.1,242.3 L284.6,246.9 L285.1,253.4 L285.5,261.7 L286.0,271.6 L286.5,283.0 L287.0,296.0 L287.5,310.2 L288.0,325.7 L288.5,342.2 L288.9,359.6 L289.4,377.7 L289.9,396.4 L290.4,415.5 L290.9,434.7 L291.4,413.2 L291.9,391.9 L292.4,371.0 L292.9,350.7 L293.4,331.3 L293.9,312.8 L294.4,295.5 L294.9,279.6 L295.5,265.1 L296.0,252.3 L296.5,241.2 L297.0,232.0 L297.5,224.7 L298.0,219.5 L298.5,216.4 L299.0,215.3 L299.5,216.3 L300.0,219.3 L300.5,224.3 L301.1,231.3 L301.6,240.1 L302.1,250.6 L302.6,262.9 L303.1,276.7 L303.6,292.0 L304.1,308.5 L304.6,326.1 L305.1,344.8 L305.7,364.1 L306.2,384.1 L306.7,404.4 L307.2,425.0 L307.7,405.3 L308.2,385.9 L308.6,366.8 L309.1,348.2 L309.6,330.4 L310.1,313.6 L310.6,297.7 L311.0,283.2 L311.5,269.9 L312.0,258.2 L312.5,248.1 L313.0,239.7 L313.5,233.0 L313.9,228.3 L314.4,225.4 L314.9,224.4 L315.4,225.4 L316.0,228.6 L316.5,233.7 L317.0,240.8 L317.6,249.9 L318.1,260.8 L318.7,273.5 L319.2,287.7 L319.7,303.4 L320.3,320.4 L320.8,338.6 L321.4,357.8 L321.9,377.8 L322.4,398.3 L323.0,419.3 L323.5,440.5 L324.0,419.8 L324.4,399.3 L324.9,379.2 L325.4,359.8 L325.8,341.0 L326.3,323.3 L326.8,306.6 L327.2,291.3 L327.7,277.4 L328.2,265.1 L328.7,254.4 L329.1,245.6 L329.6,238.6 L330.1,233.6 L330.5,230.5 L331.0,229.5 L331.5,230.5 L332.0,233.4 L332.5,238.3 L333.1,245.0 L333.6,253.5 L334.1,263.8 L334.6,275.7 L335.1,289.1 L335.6,303.9 L336.1,319.9 L336.6,337.0 L337.1,355.1 L337.7,373.9 L338.2,393.2 L338.7,413.0 L339.2,432.9 L339.7,410.8 L340.2,389.0 L340.8,367.6 L341.3,346.8 L341.8,326.8 L342.3,307.8 L342.8,290.1 L343.4,273.7 L343.9,258.9 L344.4,245.7 L344.9,234.4 L345.4,224.9 L345.9,217.5 L346.5,212.1 L347.0,208.9 L347.5,207.8 L348.0,208.8 L348.5,211.8 L349.0,216.8 L349.5,223.8 L350.0,232.6 L350.5,243.2 L351.0,255.4 L351.6,269.3 L352.1,284.5 L352.6,301.1 L353.1,318.8 L353.6,337.4 L354.1,356.8 L354.6,376.8 L355.1,397.1 L355.6,417.7 L356.1,396.5 L356.6,375.4 L357.1,354.8 L357.7,334.8 L358.2,315.6 L358.7,297.4 L359.2,280.3 L359.7,264.5 L360.2,250.3 L360.7,237.6 L361.2,226.7 L361.8,217.6 L362.3,210.4 L362.8,205.3 L363.3,202.1 L363.8,201.1 L364.3,202.0 L364.8,204.8 L365.3,209.4 L365.8,215.7 L366.3,223.8 L366.8,233.4 L367.3,244.7 L367.9,257.3 L368.4,271.3 L368.9,286.4 L369.4,302.5 L369.9,319.6 L370.4,337.3 L370.9,355.6 L371.4,374.2 L371.9,393.0 L372.5,372.3 L373.0,351.7 L373.6,331.6 L374.2,312.1 L374.8,293.3 L375.4,275.5 L375.9,258.8 L376.5,243.4 L377.1,229.5 L377.6,217.1 L378.2,206.5 L378.8,197.6 L379.4,190.6 L380.0,185.6 L380.5,182.5 L381.1,181.5 L381.5,188.9 L382.0,196.9 L382.4,205.5 L382.8,214.7 L383.3,224.4 L383.7,234.6 L384.1,245.4 L384.6,256.5 L385.0,268.1 L385.4,280.1 L385.8,292.4 L386.3,305.0 L386.7,317.8 L387.1,330.8 L387.6,343.8 L388.0,357.0 L388.6,343.8 L389.2,330.7 L389.8,317.7 L390.4,304.8 L391.0,292.2 L391.6,279.9 L392.2,267.9 L392.8,256.2 L393.3,245.0 L393.9,234.3 L394.5,224.0 L395.1,214.3 L395.7,205.1 L396.3,196.5 L396.9,188.4 L397.5,181.0 L397.9,187.6 L398.4,194.8 L398.8,202.4 L399.2,210.6 L399.6,219.3 L400.1,228.4 L400.5,238.0 L400.9,247.9 L401.3,258.3 L401.8,269.0 L402.2,280.0 L402.6,291.2 L403.0,302.6 L403.4,314.2 L403.9,325.9 L404.3,337.6 L404.8,325.9 L405.4,314.2 L405.9,302.6 L406.5,291.2 L407.0,280.0 L407.6,269.0 L408.1,258.3 L408.6,247.9 L409.2,238.0 L409.7,228.4 L410.3,219.3 L410.8,210.6 L411.4,202.4 L411.9,194.8 L412.5,187.6 L413.0,181.0 L413.4,188.7 L413.9,196.9 L414.3,205.8 L414.8,215.2 L415.2,225.2 L415.6,235.8 L416.1,246.9 L416.5,258.4 L416.9,270.3 L417.4,282.7 L417.8,295.4 L418.2,308.3 L418.7,321.6 L419.1,334.9 L419.6,348.4 L420.0,362.0 L420.5,348.1 L421.1,334.2 L421.6,320.4 L422.1,306.9 L422.7,293.5 L423.2,280.5 L423.8,267.8 L424.3,255.5 L424.8,243.7 L425.4,232.3 L425.9,221.5 L426.5,211.2 L427.0,201.5 L427.5,192.4 L428.1,183.9 L428.6,176.0 L429.0,184.2 L429.5,193.1 L429.9,202.6 L430.3,212.8 L430.7,223.5 L431.1,234.9 L431.6,246.8 L432.0,259.2 L432.4,272.0 L432.9,285.3 L433.3,298.9 L433.7,312.8 L434.1,327.0 L434.5,341.4 L435.0,355.9 L435.4,370.5 L435.9,356.6 L436.4,342.8 L436.9,329.0 L437.4,315.5 L437.9,302.2 L438.4,289.2 L438.9,276.6 L439.4,264.3 L439.8,252.5 L440.3,241.2 L440.8,230.3 L441.3,220.1 L441.8,210.4 L442.3,201.3 L442.8,192.8 L443.3,185.0 L443.8,192.4 L444.3,200.5 L444.8,209.1 L445.3,218.3 L445.8,228.0 L446.3,238.3 L446.8,249.0 L447.2,260.2 L447.7,271.9 L448.2,283.9 L448.7,296.2 L449.2,308.8 L449.7,321.7 L450.2,334.7 L450.7,347.8 L451.2,361.0 L451.6,346.6 L452.1,332.3 L452.5,318.1 L452.9,304.1 L453.3,290.3 L453.8,276.9 L454.2,263.8 L454.6,251.1 L455.0,238.9 L455.4,227.1 L455.9,215.9 L456.3,205.3 L456.7,195.3 L457.1,185.9 L457.6,177.1 L458.0,169.0 L458.6,176.4 L459.1,184.3 L459.7,192.8 L460.2,201.9 L460.8,211.5 L461.4,221.7 L461.9,232.3 L462.5,243.4 L463.1,254.9 L463.6,266.8 L464.2,278.9 L464.8,291.4 L465.3,304.1 L465.9,317.0 L466.4,330.0 L467.0,343.0 L467.5,329.5 L467.9,316.0 L468.4,302.7 L468.8,289.6 L469.3,276.6 L469.7,264.0 L470.2,251.7 L470.6,239.8 L471.1,228.3 L471.6,217.3 L472.0,206.8 L472.5,196.8 L472.9,187.4 L473.4,178.6 L473.8,170.3 L474.3,162.7 L474.8,170.8 L475.4,179.5 L475.9,188.8 L476.4,198.8 L477.0,209.3 L477.5,220.5 L478.0,232.1 L478.6,244.3 L479.1,256.9 L479.6,269.9 L480.1,283.3 L480.7,296.9 L481.2,310.9 L481.7,325.0 L482.3,339.2 L482.8,353.5 L483.3,339.8 L483.8,326.2 L484.3,312.7 L484.8,299.4 L485.3,286.3 L485.8,273.5 L486.3,261.0 L486.8,249.0 L487.2,237.3 L487.7,226.2 L488.2,215.5 L488.7,205.4 L489.2,195.9 L489.7,187.0 L490.2,178.6 L490.7,170.9 L491.2,178.7 L491.7,187.1 L492.2,196.1 L492.7,205.7 L493.2,215.9 L493.7,226.6 L494.2,237.9 L494.8,249.6 L495.3,261.8 L495.8,274.3 L496.3,287.2 L496.8,300.4 L497.3,313.9 L497.8,327.5 L498.3,341.2 L498.8,355.0 L499.3,339.9 L499.8,324.9 L500.2,310.1 L500.7,295.4 L501.2,281.0 L501.6,266.9 L502.1,253.2 L502.6,239.9 L503.1,227.1 L503.6,214.8 L504.0,203.1 L504.5,191.9 L505.0,181.4 L505.4,171.6 L505.9,162.4 L506.4,153.9 L506.9,161.2 L507.4,169.0 L507.9,177.4 L508.4,186.4 L508.9,195.9 L509.4,205.9 L509.9,216.4 L510.4,227.4 L511.0,238.7 L511.5,250.5 L512.0,262.5 L512.5,274.8 L513.0,287.4 L513.5,300.1 L514.0,312.9 L514.5,325.8 L514.9,312.1 L515.3,298.5 L515.6,284.9 L516.0,271.6 L516.4,258.5 L516.8,245.7 L517.2,233.2 L517.5,221.1 L517.9,209.5 L518.3,198.3 L518.7,187.7 L519.1,177.6 L519.5,168.0 L519.8,159.1 L520.2,150.7 L520.6,143.0" fill="none" stroke="#fff" stroke-width="0.7" stroke-dasharray="1 3" opacity="0.75"/>
<path d="M73.2,177.7 L73.6,165.2 L74.0,151.5 L74.4,138.1 L74.8,126.1 L75.1,116.1 L75.5,108.5 L75.9,103.8 L76.3,102.2 L76.8,103.8 L77.2,108.5 L77.7,116.1 L78.2,126.1 L78.6,138.1 L79.1,151.5 L79.6,165.2 L80.0,177.7 L80.0,177.7 L80.5,186.5 L81.0,196.3 L81.5,205.7 L81.9,214.2 L82.4,221.3 L82.9,226.6 L83.3,230.0 L83.8,231.1 L84.3,230.0 L84.7,226.6 L85.2,221.3 L85.7,214.2 L86.1,205.7 L86.6,196.3 L87.0,186.5 L87.5,177.7 L87.5,177.7 L88.0,168.0 L88.4,157.4 L88.9,147.1 L89.3,137.8 L89.8,130.0 L90.3,124.2 L90.7,120.5 L91.2,119.3 L91.7,120.5 L92.1,124.2 L92.6,130.0 L93.0,137.8 L93.5,147.1 L93.9,157.4 L94.4,168.0 L94.8,177.7 L94.8,177.7 L95.3,185.6 L95.8,194.3 L96.2,202.7 L96.7,210.3 L97.1,216.7 L97.6,221.5 L98.0,224.5 L98.5,225.5 L99.0,224.5 L99.5,221.5 L99.9,216.7 L100.4,210.3 L100.9,202.7 L101.4,194.3 L101.9,185.6 L102.3,177.7 L102.3,177.7 L102.8,170.7 L103.3,163.0 L103.8,155.5 L104.3,148.8 L104.8,143.2 L105.2,138.9 L105.7,136.3 L106.2,135.4 L106.6,136.3 L107.1,138.9 L107.5,143.2 L108.0,148.8 L108.4,155.5 L108.9,163.0 L109.3,170.7 L109.8,177.7 L109.8,177.7 L110.2,184.2 L110.6,191.3 L111.1,198.1 L111.5,204.3 L112.0,209.5 L112.4,213.4 L112.9,215.9 L113.3,216.7 L113.8,215.9 L114.4,213.4 L114.9,209.5 L115.5,204.3 L116.0,198.1 L116.6,191.3 L117.1,184.2 L117.7,177.7 L117.7,177.7 L118.2,173.3 L118.7,168.5 L119.3,163.8 L119.8,159.5 L120.4,156.0 L120.9,153.3 L121.5,151.7 L122.0,151.1 L122.4,151.7 L122.8,153.3 L123.3,156.0 L123.7,159.5 L124.1,163.8 L124.5,168.5 L124.9,173.3 L125.3,177.7 L125.3,177.7 L125.8,185.0 L126.2,193.0 L126.6,200.7 L127.0,207.7 L127.4,213.5 L127.9,217.9 L128.3,220.7 L128.7,221.6 L129.3,220.7 L129.9,217.9 L130.5,213.5 L131.1,207.7 L131.7,200.7 L132.3,193.0 L132.9,185.0 L133.6,177.7 L133.6,177.7 L134.2,164.5 L134.8,150.0 L135.4,135.9 L136.0,123.2 L136.6,112.6 L137.2,104.6 L137.8,99.6 L138.4,97.9 L139.0,99.6 L139.6,104.6 L140.2,112.6 L140.8,123.2 L141.3,135.9 L141.9,150.0 L142.5,164.5 L143.1,177.7 L143.1,177.7 L143.7,190.0 L144.3,203.5 L144.9,216.6 L145.5,228.4 L146.0,238.3 L146.6,245.8 L147.2,250.4 L147.8,252.0 L148.5,250.4 L149.2,245.8 L149.9,238.3 L150.6,228.4 L151.3,216.6 L152.0,203.5 L152.7,190.0 L153.4,177.7 L153.4,177.7 L154.0,170.4 L154.7,162.3 L155.4,154.5 L156.1,147.4 L156.8,141.5 L157.5,137.1 L158.2,134.3 L158.9,133.4 L159.6,134.3 L160.2,137.1 L160.9,141.5 L161.6,147.4 L162.3,154.5 L163.0,162.3 L163.6,170.4 L164.3,177.7 L164.3,177.7 L165.0,184.3 L165.7,191.5 L166.3,198.5 L167.0,204.8 L167.7,210.1 L168.3,214.1 L169.0,216.6 L169.7,217.4 L170.3,216.6 L170.8,214.1 L171.4,210.1 L172.0,204.8 L172.5,198.5 L173.1,191.5 L173.7,184.3 L174.2,177.7 L174.2,177.7 L174.8,169.1 L175.4,159.6 L176.0,150.4 L176.5,142.0 L177.1,135.1 L177.7,129.9 L178.2,126.6 L178.8,125.5 L179.3,126.6 L179.8,129.9 L180.2,135.1 L180.7,142.0 L181.2,150.4 L181.7,159.6 L182.2,169.1 L182.7,177.7 L182.7,177.7 L183.1,189.5 L183.6,202.5 L184.1,215.1 L184.6,226.4 L185.1,235.9 L185.5,243.1 L186.0,247.5 L186.5,249.0 L187.0,247.5 L187.5,243.1 L188.1,235.9 L188.6,226.4 L189.1,215.1 L189.6,202.5 L190.1,189.5 L190.7,177.7 L190.7,177.7 L191.2,162.0 L191.7,144.8 L192.2,128.2 L192.7,113.2 L193.2,100.6 L193.8,91.1 L194.3,85.2 L194.8,83.2 L195.2,85.2 L195.6,91.1 L196.0,100.6 L196.4,113.2 L196.8,128.2 L197.2,144.8 L197.6,162.0 L198.1,177.7 L198.1,177.7 L198.5,189.0 L198.9,201.4 L199.3,213.4 L199.7,224.2 L200.1,233.3 L200.5,240.1 L200.9,244.4 L201.3,245.8 L201.8,244.4 L202.3,240.1 L202.8,233.3 L203.4,224.2 L203.9,213.4 L204.4,201.4 L204.9,189.0 L205.4,177.7 L205.4,177.7 L205.9,164.1 L206.4,149.1 L206.9,134.6 L207.4,121.6 L208.0,110.6 L208.5,102.4 L209.0,97.2 L209.5,95.5 L209.9,97.2 L210.4,102.4 L210.8,110.6 L211.3,121.6 L211.7,134.6 L212.2,149.1 L212.6,164.1 L213.1,177.7 L213.1,177.7 L213.5,189.8 L213.9,203.0 L214.4,215.8 L214.8,227.4 L215.3,237.1 L215.7,244.4 L216.2,249.0 L216.6,250.5 L217.1,249.0 L217.5,244.4 L218.0,237.1 L218.4,227.4 L218.9,215.8 L219.3,203.0 L219.8,189.8 L220.2,177.7 L220.2,177.7 L220.7,167.0 L221.2,155.2 L221.6,143.8 L222.1,133.4 L222.5,124.8 L223.0,118.3 L223.4,114.3 L223.9,112.9 L224.4,114.3 L225.0,118.3 L225.5,124.8 L226.0,133.4 L226.6,143.8 L227.1,155.2 L227.6,167.0 L228.2,177.7 L228.2,177.7 L228.7,188.2 L229.2,199.7 L229.7,210.8 L230.3,220.9 L230.8,229.3 L231.3,235.6 L231.9,239.6 L232.4,240.9 L232.9,239.6 L233.4,235.6 L233.8,229.3 L234.3,220.9 L234.8,210.8 L235.3,199.7 L235.8,188.2 L236.2,177.7 L236.2,177.7 L236.7,167.9 L237.2,157.1 L237.7,146.7 L238.2,137.3 L238.7,129.4 L239.1,123.4 L239.6,119.8 L240.1,118.5 L240.6,119.8 L241.2,123.4 L241.7,129.4 L242.2,137.3 L242.8,146.7 L243.3,157.1 L243.9,167.9 L244.4,177.7 L244.4,177.7 L244.9,187.1 L245.5,197.4 L246.0,207.4 L246.5,216.4 L247.1,223.9 L247.6,229.6 L248.2,233.1 L248.7,234.3 L249.1,233.1 L249.6,229.6 L250.0,223.9 L250.5,216.4 L250.9,207.4 L251.4,197.4 L251.8,187.1 L252.2,177.7 L252.2,177.7 L252.7,168.4 L253.1,158.2 L253.6,148.3 L254.0,139.3 L254.5,131.8 L254.9,126.2 L255.4,122.7 L255.8,121.5 L256.3,122.7 L256.9,126.2 L257.4,131.8 L258.0,139.3 L258.5,148.3 L259.0,158.2 L259.6,168.4 L260.1,177.7 L260.1,177.7 L260.6,186.3 L261.2,195.7 L261.7,204.8 L262.2,213.0 L262.8,219.9 L263.3,225.1 L263.9,228.3 L264.4,229.4 L264.8,228.3 L265.3,225.1 L265.8,219.9 L266.2,213.0 L266.6,204.8 L267.1,195.7 L267.6,186.3 L268.0,177.7 L268.0,177.7 L268.4,168.3 L268.9,158.0 L269.4,148.0 L269.8,139.0 L270.2,131.5 L270.7,125.8 L271.2,122.3 L271.6,121.1 L272.1,122.3 L272.6,125.8 L273.1,131.5 L273.7,139.0 L274.2,148.0 L274.7,158.0 L275.2,168.3 L275.7,177.7 L275.7,177.7 L276.2,186.3 L276.7,195.7 L277.2,204.8 L277.8,213.0 L278.3,219.9 L278.8,225.1 L279.3,228.3 L279.8,229.4 L280.3,228.3 L280.8,225.1 L281.3,219.9 L281.8,213.0 L282.3,204.8 L282.8,195.7 L283.3,186.3 L283.8,177.7 L283.8,177.7 L284.3,167.5 L284.8,156.4 L285.3,145.5 L285.8,135.8 L286.3,127.6 L286.8,121.4 L287.3,117.6 L287.8,116.3 L288.3,117.6 L288.8,121.4 L289.2,127.6 L289.7,135.8 L290.2,145.5 L290.7,156.4 L291.2,167.5 L291.6,177.7 L291.6,177.7 L292.1,186.2 L292.6,195.5 L293.1,204.6 L293.6,212.7 L294.1,219.6 L294.5,224.7 L295.0,227.9 L295.5,229.0 L296.0,227.9 L296.5,224.7 L297.0,219.6 L297.6,212.7 L298.1,204.6 L298.6,195.5 L299.1,186.2 L299.6,177.7 L299.6,177.7 L300.1,168.9 L300.6,159.3 L301.1,149.9 L301.6,141.5 L302.2,134.4 L302.7,129.1 L303.2,125.8 L303.7,124.7 L304.1,125.8 L304.6,129.1 L305.0,134.4 L305.5,141.5 L305.9,149.9 L306.4,159.3 L306.8,168.9 L307.3,177.7 L307.3,177.7 L307.7,185.9 L308.2,194.9 L308.6,203.6 L309.1,211.4 L309.5,218.0 L310.0,223.0 L310.4,226.1 L310.9,227.1 L311.4,226.1 L311.9,223.0 L312.4,218.0 L312.9,211.4 L313.4,203.6 L313.9,194.9 L314.4,185.9 L314.9,177.7 L314.9,177.7 L315.5,168.1 L316.0,157.5 L316.5,147.3 L317.0,138.0 L317.5,130.3 L318.0,124.4 L318.5,120.8 L319.0,119.6 L319.5,120.8 L319.9,124.4 L320.4,130.3 L320.9,138.0 L321.4,147.3 L321.9,157.5 L322.3,168.1 L322.8,177.7 L322.8,177.7 L323.3,186.3 L323.8,195.7 L324.2,204.8 L324.7,213.1 L325.2,220.0 L325.7,225.2 L326.1,228.4 L326.6,229.5 L327.1,228.4 L327.7,225.2 L328.2,220.0 L328.8,213.1 L329.3,204.8 L329.9,195.7 L330.4,186.3 L331.0,177.7 L331.0,177.7 L331.5,170.0 L332.0,161.5 L332.6,153.2 L333.1,145.8 L333.7,139.6 L334.2,134.9 L334.8,132.0 L335.3,131.0 L335.8,132.0 L336.2,134.9 L336.6,139.6 L337.1,145.8 L337.6,153.2 L338.0,161.5 L338.4,170.0 L338.9,177.7 L338.9,177.7 L339.3,186.1 L339.8,195.4 L340.2,204.3 L340.7,212.4 L341.1,219.2 L341.6,224.3 L342.1,227.4 L342.5,228.5 L343.1,227.4 L343.7,224.3 L344.3,219.2 L344.9,212.4 L345.4,204.3 L346.0,195.4 L346.6,186.1 L347.2,177.7 L347.2,177.7 L347.8,169.1 L348.4,159.6 L349.0,150.4 L349.5,142.0 L350.1,135.1 L350.7,129.9 L351.3,126.6 L351.9,125.5 L352.3,126.6 L352.7,129.9 L353.1,135.1 L353.5,142.0 L353.9,150.4 L354.3,159.6 L354.7,169.1 L355.0,177.7 L355.0,177.7 L355.4,187.3 L355.8,197.8 L356.2,208.0 L356.6,217.2 L357.0,224.9 L357.4,230.7 L357.8,234.3 L358.2,235.5 L358.8,234.3 L359.4,230.7 L360.0,224.9 L360.6,217.2 L361.3,208.0 L361.9,197.8 L362.5,187.3 L363.1,177.7 L363.1,177.7 L363.7,170.2 L364.3,162.0 L364.9,154.0 L365.6,146.8 L366.2,140.8 L366.8,136.3 L367.4,133.5 L368.0,132.5 L368.4,133.5 L368.8,136.3 L369.2,140.8 L369.6,146.8 L370.0,154.0 L370.4,162.0 L370.8,170.2 L371.2,177.7 L371.2,177.7 L371.7,185.7 L372.1,194.5 L372.5,203.1 L372.9,210.8 L373.3,217.2 L373.7,222.1 L374.1,225.1 L374.5,226.1 L375.1,225.1 L375.8,222.1 L376.4,217.2 L377.0,210.8 L377.7,203.1 L378.3,194.5 L378.9,185.7 L379.6,177.7 L379.6,177.7 L380.2,169.4 L380.8,160.2 L381.4,151.4 L382.1,143.4 L382.7,136.7 L383.3,131.7 L384.0,128.6 L384.6,127.5 L385.0,128.6 L385.4,131.7 L385.8,136.7 L386.2,143.4 L386.6,151.4 L387.0,160.2 L387.4,169.4 L387.8,177.7 L387.8,177.7 L388.1,185.8 L388.5,194.7 L388.9,203.3 L389.3,211.0 L389.7,217.5 L390.1,222.4 L390.5,225.5 L390.9,226.5 L391.5,225.5 L392.1,222.4 L392.8,217.5 L393.4,211.0 L394.0,203.3 L394.6,194.7 L395.3,185.8 L395.9,177.7 L395.9,177.7 L396.5,168.5 L397.1,158.3 L397.8,148.5 L398.4,139.6 L399.0,132.2 L399.6,126.6 L400.3,123.1 L400.9,121.9 L401.4,123.1 L401.8,126.6 L402.3,132.2 L402.7,139.6 L403.2,148.5 L403.6,158.3 L404.1,168.5 L404.5,177.7 L404.5,177.7 L405.0,184.6 L405.5,192.2 L405.9,199.6 L406.4,206.3 L406.8,211.8 L407.3,216.0 L407.7,218.6 L408.2,219.5 L408.7,218.6 L409.3,216.0 L409.8,211.8 L410.3,206.3 L410.9,199.6 L411.4,192.2 L411.9,184.6 L412.4,177.7 L412.4,177.7 L413.0,167.8 L413.5,156.9 L414.0,146.3 L414.6,136.8 L415.1,128.8 L415.6,122.8 L416.2,119.1 L416.7,117.8 L417.1,119.1 L417.6,122.8 L418.0,128.8 L418.4,136.8 L418.9,146.3 L419.3,156.9 L419.7,167.8 L420.1,177.7 L420.1,177.7 L420.6,187.6 L421.0,198.5 L421.4,209.0 L421.9,218.5 L422.3,226.5 L422.7,232.5 L423.2,236.2 L423.6,237.5 L424.1,236.2 L424.6,232.5 L425.1,226.5 L425.7,218.5 L426.2,209.0 L426.7,198.5 L427.2,187.6 L427.7,177.7 L427.7,177.7 L428.2,168.5 L428.7,158.3 L429.2,148.5 L429.8,139.6 L430.3,132.2 L430.8,126.6 L431.3,123.1 L431.8,121.9 L432.3,123.1 L432.8,126.6 L433.3,132.2 L433.9,139.6 L434.4,148.5 L434.9,158.3 L435.4,168.5 L435.9,177.7 L435.9,177.7 L436.4,187.6 L436.9,198.5 L437.4,209.0 L437.9,218.5 L438.5,226.5 L439.0,232.5 L439.5,236.2 L440.0,237.5 L440.5,236.2 L440.9,232.5 L441.4,226.5 L441.9,218.5 L442.3,209.0 L442.8,198.5 L443.3,187.6 L443.8,177.7 L443.8,177.7 L444.2,171.3 L444.7,164.4 L445.2,157.6 L445.6,151.5 L446.1,146.4 L446.6,142.5 L447.0,140.1 L447.5,139.3 L448.0,140.1 L448.5,142.5 L449.0,146.4 L449.5,151.5 L450.0,157.6 L450.5,164.4 L451.0,171.3 L451.4,177.7 L451.4,177.7 L451.9,186.8 L452.4,196.8 L452.9,206.5 L453.4,215.3 L453.9,222.6 L454.4,228.1 L454.9,231.5 L455.4,232.7 L455.9,231.5 L456.3,228.1 L456.8,222.6 L457.3,215.3 L457.8,206.5 L458.2,196.8 L458.7,186.8 L459.2,177.7 L459.2,177.7 L459.7,170.3 L460.1,162.1 L460.6,154.2 L461.1,147.0 L461.6,141.0 L462.1,136.5 L462.5,133.7 L463.0,132.8 L463.5,133.7 L464.0,136.5 L464.5,141.0 L465.0,147.0 L465.5,154.2 L466.0,162.1 L466.5,170.3 L467.0,177.7 L467.0,177.7 L467.5,186.8 L468.0,196.8 L468.5,206.4 L469.0,215.1 L469.5,222.4 L470.0,227.9 L470.5,231.3 L471.0,232.5 L471.5,231.3 L472.0,227.9 L472.4,222.4 L472.9,215.1 L473.4,206.4 L473.9,196.8 L474.4,186.8 L474.9,177.7 L474.9,177.7 L475.3,168.6 L475.8,158.5 L476.3,148.8 L476.8,140.0 L477.3,132.6 L477.7,127.1 L478.2,123.7 L478.7,122.5 L479.2,123.7 L479.8,127.1 L480.3,132.6 L480.9,140.0 L481.4,148.8 L482.0,158.5 L482.5,168.6 L483.0,177.7 L483.0,177.7 L483.6,185.5 L484.1,194.0 L484.7,202.2 L485.2,209.7 L485.8,215.9 L486.3,220.6 L486.9,223.5 L487.4,224.5 L487.9,223.5 L488.4,220.6 L488.9,215.9 L489.3,209.7 L489.8,202.2 L490.3,194.0 L490.8,185.5 L491.3,177.7 L491.3,177.7 L491.8,168.1 L492.3,157.5 L492.8,147.2 L493.2,137.9 L493.7,130.2 L494.2,124.4 L494.7,120.7 L495.2,119.5 L495.7,120.7 L496.2,124.4 L496.7,130.2 L497.2,137.9 L497.7,147.2 L498.2,157.5 L498.7,168.1 L499.1,177.7 L499.1,177.7 L499.6,186.0 L500.1,195.1 L500.6,203.9 L501.1,211.9 L501.6,218.6 L502.1,223.6 L502.6,226.7 L503.1,227.8 L503.6,226.7 L504.1,223.6 L504.6,218.6 L505.2,211.9 L505.7,203.9 L506.2,195.1 L506.7,186.0 L507.2,177.7 L507.2,177.7 L507.7,168.3 L508.2,158.0 L508.7,148.0 L509.2,139.0 L509.8,131.5 L510.3,125.8 L510.8,122.3 L511.3,121.1 L511.8,122.3 L512.2,125.8 L512.6,131.5 L513.1,139.0 L513.5,148.0 L514.0,158.0 L514.4,168.3 L514.9,177.7 L514.9,177.7 L515.4,186.8 L515.8,196.8 L516.2,206.5 L516.7,215.3 L517.1,222.6 L517.6,228.1 L518.0,231.5 L518.5,232.7 L518.8,231.5 L519.0,228.1 L519.3,222.6 L519.5,215.3 L519.8,206.5 L520.1,196.8 L520.3,186.8 L520.6,177.7 L520.6,177.7 L73.2,177.7 Z" fill="#74e874" stroke="none"/>
<line x1="76.3" y1="168.6" x2="76.3" y2="117.3" stroke="#fff" stroke-width="0.8" stroke-dasharray="1.2 2.2" opacity="0.7"/>
<line x1="83.8" y1="184.1" x2="83.8" y2="220.4" stroke="#fff" stroke-width="0.8" stroke-dasharray="1.2 2.2" opacity="0.7"/>
<line x1="91.2" y1="170.7" x2="91.2" y2="131.0" stroke="#fff" stroke-width="0.8" stroke-dasharray="1.2 2.2" opacity="0.7"/>
<line x1="98.5" y1="183.4" x2="98.5" y2="215.9" stroke="#fff" stroke-width="0.8" stroke-dasharray="1.2 2.2" opacity="0.7"/>
<line x1="106.2" y1="172.6" x2="106.2" y2="143.9" stroke="#fff" stroke-width="0.8" stroke-dasharray="1.2 2.2" opacity="0.7"/>
<line x1="113.3" y1="182.4" x2="113.3" y2="208.9" stroke="#fff" stroke-width="0.8" stroke-dasharray="1.2 2.2" opacity="0.7"/>
<line x1="122.0" y1="174.5" x2="122.0" y2="156.4" stroke="#fff" stroke-width="0.8" stroke-dasharray="1.2 2.2" opacity="0.7"/>
<line x1="128.7" y1="183.0" x2="128.7" y2="212.8" stroke="#fff" stroke-width="0.8" stroke-dasharray="1.2 2.2" opacity="0.7"/>
<line x1="138.4" y1="168.1" x2="138.4" y2="113.9" stroke="#fff" stroke-width="0.8" stroke-dasharray="1.2 2.2" opacity="0.7"/>
<line x1="147.8" y1="186.6" x2="147.8" y2="237.1" stroke="#fff" stroke-width="0.8" stroke-dasharray="1.2 2.2" opacity="0.7"/>
<line x1="158.9" y1="172.4" x2="158.9" y2="142.3" stroke="#fff" stroke-width="0.8" stroke-dasharray="1.2 2.2" opacity="0.7"/>
<line x1="169.7" y1="182.5" x2="169.7" y2="209.5" stroke="#fff" stroke-width="0.8" stroke-dasharray="1.2 2.2" opacity="0.7"/>
<line x1="178.8" y1="171.4" x2="178.8" y2="135.9" stroke="#fff" stroke-width="0.8" stroke-dasharray="1.2 2.2" opacity="0.7"/>
<line x1="186.5" y1="186.3" x2="186.5" y2="234.7" stroke="#fff" stroke-width="0.8" stroke-dasharray="1.2 2.2" opacity="0.7"/>
<line x1="194.8" y1="166.4" x2="194.8" y2="102.1" stroke="#fff" stroke-width="0.8" stroke-dasharray="1.2 2.2" opacity="0.7"/>
<line x1="201.3" y1="185.9" x2="201.3" y2="232.2" stroke="#fff" stroke-width="0.8" stroke-dasharray="1.2 2.2" opacity="0.7"/>
<line x1="209.5" y1="167.8" x2="209.5" y2="111.9" stroke="#fff" stroke-width="0.8" stroke-dasharray="1.2 2.2" opacity="0.7"/>
<line x1="216.6" y1="186.4" x2="216.6" y2="235.9" stroke="#fff" stroke-width="0.8" stroke-dasharray="1.2 2.2" opacity="0.7"/>
<line x1="223.9" y1="169.9" x2="223.9" y2="125.9" stroke="#fff" stroke-width="0.8" stroke-dasharray="1.2 2.2" opacity="0.7"/>
<line x1="232.4" y1="185.3" x2="232.4" y2="228.3" stroke="#fff" stroke-width="0.8" stroke-dasharray="1.2 2.2" opacity="0.7"/>
<line x1="240.1" y1="170.6" x2="240.1" y2="130.3" stroke="#fff" stroke-width="0.8" stroke-dasharray="1.2 2.2" opacity="0.7"/>
<line x1="248.7" y1="184.5" x2="248.7" y2="223.0" stroke="#fff" stroke-width="0.8" stroke-dasharray="1.2 2.2" opacity="0.7"/>
<line x1="255.8" y1="171.0" x2="255.8" y2="132.7" stroke="#fff" stroke-width="0.8" stroke-dasharray="1.2 2.2" opacity="0.7"/>
<line x1="264.4" y1="183.9" x2="264.4" y2="219.1" stroke="#fff" stroke-width="0.8" stroke-dasharray="1.2 2.2" opacity="0.7"/>
<line x1="271.6" y1="170.9" x2="271.6" y2="132.4" stroke="#fff" stroke-width="0.8" stroke-dasharray="1.2 2.2" opacity="0.7"/>
<line x1="279.8" y1="183.9" x2="279.8" y2="219.1" stroke="#fff" stroke-width="0.8" stroke-dasharray="1.2 2.2" opacity="0.7"/>
<line x1="287.8" y1="170.3" x2="287.8" y2="128.6" stroke="#fff" stroke-width="0.8" stroke-dasharray="1.2 2.2" opacity="0.7"/>
<line x1="295.5" y1="183.9" x2="295.5" y2="218.7" stroke="#fff" stroke-width="0.8" stroke-dasharray="1.2 2.2" opacity="0.7"/>
<line x1="303.7" y1="171.3" x2="303.7" y2="135.3" stroke="#fff" stroke-width="0.8" stroke-dasharray="1.2 2.2" opacity="0.7"/>
<line x1="310.9" y1="183.6" x2="310.9" y2="217.2" stroke="#fff" stroke-width="0.8" stroke-dasharray="1.2 2.2" opacity="0.7"/>
<line x1="319.0" y1="170.7" x2="319.0" y2="131.2" stroke="#fff" stroke-width="0.8" stroke-dasharray="1.2 2.2" opacity="0.7"/>
<line x1="326.6" y1="183.9" x2="326.6" y2="219.1" stroke="#fff" stroke-width="0.8" stroke-dasharray="1.2 2.2" opacity="0.7"/>
<line x1="335.3" y1="172.1" x2="335.3" y2="140.3" stroke="#fff" stroke-width="0.8" stroke-dasharray="1.2 2.2" opacity="0.7"/>
<line x1="342.5" y1="183.8" x2="342.5" y2="218.3" stroke="#fff" stroke-width="0.8" stroke-dasharray="1.2 2.2" opacity="0.7"/>
<line x1="351.9" y1="171.4" x2="351.9" y2="135.9" stroke="#fff" stroke-width="0.8" stroke-dasharray="1.2 2.2" opacity="0.7"/>
<line x1="358.2" y1="184.6" x2="358.2" y2="223.9" stroke="#fff" stroke-width="0.8" stroke-dasharray="1.2 2.2" opacity="0.7"/>
<line x1="368.0" y1="172.3" x2="368.0" y2="141.5" stroke="#fff" stroke-width="0.8" stroke-dasharray="1.2 2.2" opacity="0.7"/>
<line x1="374.5" y1="183.5" x2="374.5" y2="216.4" stroke="#fff" stroke-width="0.8" stroke-dasharray="1.2 2.2" opacity="0.7"/>
<line x1="384.6" y1="171.7" x2="384.6" y2="137.5" stroke="#fff" stroke-width="0.8" stroke-dasharray="1.2 2.2" opacity="0.7"/>
<line x1="390.9" y1="183.6" x2="390.9" y2="216.7" stroke="#fff" stroke-width="0.8" stroke-dasharray="1.2 2.2" opacity="0.7"/>
<line x1="400.9" y1="171.0" x2="400.9" y2="133.1" stroke="#fff" stroke-width="0.8" stroke-dasharray="1.2 2.2" opacity="0.7"/>
<line x1="408.2" y1="182.7" x2="408.2" y2="211.1" stroke="#fff" stroke-width="0.8" stroke-dasharray="1.2 2.2" opacity="0.7"/>
<line x1="416.7" y1="170.5" x2="416.7" y2="129.8" stroke="#fff" stroke-width="0.8" stroke-dasharray="1.2 2.2" opacity="0.7"/>
<line x1="423.6" y1="184.9" x2="423.6" y2="225.5" stroke="#fff" stroke-width="0.8" stroke-dasharray="1.2 2.2" opacity="0.7"/>
<line x1="431.8" y1="171.0" x2="431.8" y2="133.1" stroke="#fff" stroke-width="0.8" stroke-dasharray="1.2 2.2" opacity="0.7"/>
<line x1="440.0" y1="184.9" x2="440.0" y2="225.5" stroke="#fff" stroke-width="0.8" stroke-dasharray="1.2 2.2" opacity="0.7"/>
<line x1="447.5" y1="173.1" x2="447.5" y2="147.0" stroke="#fff" stroke-width="0.8" stroke-dasharray="1.2 2.2" opacity="0.7"/>
<line x1="455.4" y1="184.3" x2="455.4" y2="221.7" stroke="#fff" stroke-width="0.8" stroke-dasharray="1.2 2.2" opacity="0.7"/>
<line x1="463.0" y1="172.3" x2="463.0" y2="141.8" stroke="#fff" stroke-width="0.8" stroke-dasharray="1.2 2.2" opacity="0.7"/>
<line x1="471.0" y1="184.3" x2="471.0" y2="221.5" stroke="#fff" stroke-width="0.8" stroke-dasharray="1.2 2.2" opacity="0.7"/>
<line x1="478.7" y1="171.1" x2="478.7" y2="133.5" stroke="#fff" stroke-width="0.8" stroke-dasharray="1.2 2.2" opacity="0.7"/>
<line x1="487.4" y1="183.3" x2="487.4" y2="215.1" stroke="#fff" stroke-width="0.8" stroke-dasharray="1.2 2.2" opacity="0.7"/>
<line x1="495.2" y1="170.7" x2="495.2" y2="131.1" stroke="#fff" stroke-width="0.8" stroke-dasharray="1.2 2.2" opacity="0.7"/>
<line x1="503.1" y1="183.7" x2="503.1" y2="217.8" stroke="#fff" stroke-width="0.8" stroke-dasharray="1.2 2.2" opacity="0.7"/>
<line x1="511.3" y1="170.9" x2="511.3" y2="132.4" stroke="#fff" stroke-width="0.8" stroke-dasharray="1.2 2.2" opacity="0.7"/>
<line x1="518.5" y1="184.3" x2="518.5" y2="221.7" stroke="#fff" stroke-width="0.8" stroke-dasharray="1.2 2.2" opacity="0.7"/>
<path d="M73.2,177.7 L73.6,165.2 L74.0,151.5 L74.4,138.1 L74.8,126.1 L75.1,116.1 L75.5,108.5 L75.9,103.8 L76.3,102.2 L76.8,103.8 L77.2,108.5 L77.7,116.1 L78.2,126.1 L78.6,138.1 L79.1,151.5 L79.6,165.2 L80.0,177.7 L80.0,177.7 L80.5,186.5 L81.0,196.3 L81.5,205.7 L81.9,214.2 L82.4,221.3 L82.9,226.6 L83.3,230.0 L83.8,231.1 L84.3,230.0 L84.7,226.6 L85.2,221.3 L85.7,214.2 L86.1,205.7 L86.6,196.3 L87.0,186.5 L87.5,177.7 L87.5,177.7 L88.0,168.0 L88.4,157.4 L88.9,147.1 L89.3,137.8 L89.8,130.0 L90.3,124.2 L90.7,120.5 L91.2,119.3 L91.7,120.5 L92.1,124.2 L92.6,130.0 L93.0,137.8 L93.5,147.1 L93.9,157.4 L94.4,168.0 L94.8,177.7 L94.8,177.7 L95.3,185.6 L95.8,194.3 L96.2,202.7 L96.7,210.3 L97.1,216.7 L97.6,221.5 L98.0,224.5 L98.5,225.5 L99.0,224.5 L99.5,221.5 L99.9,216.7 L100.4,210.3 L100.9,202.7 L101.4,194.3 L101.9,185.6 L102.3,177.7 L102.3,177.7 L102.8,170.7 L103.3,163.0 L103.8,155.5 L104.3,148.8 L104.8,143.2 L105.2,138.9 L105.7,136.3 L106.2,135.4 L106.6,136.3 L107.1,138.9 L107.5,143.2 L108.0,148.8 L108.4,155.5 L108.9,163.0 L109.3,170.7 L109.8,177.7 L109.8,177.7 L110.2,184.2 L110.6,191.3 L111.1,198.1 L111.5,204.3 L112.0,209.5 L112.4,213.4 L112.9,215.9 L113.3,216.7 L113.8,215.9 L114.4,213.4 L114.9,209.5 L115.5,204.3 L116.0,198.1 L116.6,191.3 L117.1,184.2 L117.7,177.7 L117.7,177.7 L118.2,173.3 L118.7,168.5 L119.3,163.8 L119.8,159.5 L120.4,156.0 L120.9,153.3 L121.5,151.7 L122.0,151.1 L122.4,151.7 L122.8,153.3 L123.3,156.0 L123.7,159.5 L124.1,163.8 L124.5,168.5 L124.9,173.3 L125.3,177.7 L125.3,177.7 L125.8,185.0 L126.2,193.0 L126.6,200.7 L127.0,207.7 L127.4,213.5 L127.9,217.9 L128.3,220.7 L128.7,221.6 L129.3,220.7 L129.9,217.9 L130.5,213.5 L131.1,207.7 L131.7,200.7 L132.3,193.0 L132.9,185.0 L133.6,177.7 L133.6,177.7 L134.2,164.5 L134.8,150.0 L135.4,135.9 L136.0,123.2 L136.6,112.6 L137.2,104.6 L137.8,99.6 L138.4,97.9 L139.0,99.6 L139.6,104.6 L140.2,112.6 L140.8,123.2 L141.3,135.9 L141.9,150.0 L142.5,164.5 L143.1,177.7 L143.1,177.7 L143.7,190.0 L144.3,203.5 L144.9,216.6 L145.5,228.4 L146.0,238.3 L146.6,245.8 L147.2,250.4 L147.8,252.0 L148.5,250.4 L149.2,245.8 L149.9,238.3 L150.6,228.4 L151.3,216.6 L152.0,203.5 L152.7,190.0 L153.4,177.7 L153.4,177.7 L154.0,170.4 L154.7,162.3 L155.4,154.5 L156.1,147.4 L156.8,141.5 L157.5,137.1 L158.2,134.3 L158.9,133.4 L159.6,134.3 L160.2,137.1 L160.9,141.5 L161.6,147.4 L162.3,154.5 L163.0,162.3 L163.6,170.4 L164.3,177.7 L164.3,177.7 L165.0,184.3 L165.7,191.5 L166.3,198.5 L167.0,204.8 L167.7,210.1 L168.3,214.1 L169.0,216.6 L169.7,217.4 L170.3,216.6 L170.8,214.1 L171.4,210.1 L172.0,204.8 L172.5,198.5 L173.1,191.5 L173.7,184.3 L174.2,177.7 L174.2,177.7 L174.8,169.1 L175.4,159.6 L176.0,150.4 L176.5,142.0 L177.1,135.1 L177.7,129.9 L178.2,126.6 L178.8,125.5 L179.3,126.6 L179.8,129.9 L180.2,135.1 L180.7,142.0 L181.2,150.4 L181.7,159.6 L182.2,169.1 L182.7,177.7 L182.7,177.7 L183.1,189.5 L183.6,202.5 L184.1,215.1 L184.6,226.4 L185.1,235.9 L185.5,243.1 L186.0,247.5 L186.5,249.0 L187.0,247.5 L187.5,243.1 L188.1,235.9 L188.6,226.4 L189.1,215.1 L189.6,202.5 L190.1,189.5 L190.7,177.7 L190.7,177.7 L191.2,162.0 L191.7,144.8 L192.2,128.2 L192.7,113.2 L193.2,100.6 L193.8,91.1 L194.3,85.2 L194.8,83.2 L195.2,85.2 L195.6,91.1 L196.0,100.6 L196.4,113.2 L196.8,128.2 L197.2,144.8 L197.6,162.0 L198.1,177.7 L198.1,177.7 L198.5,189.0 L198.9,201.4 L199.3,213.4 L199.7,224.2 L200.1,233.3 L200.5,240.1 L200.9,244.4 L201.3,245.8 L201.8,244.4 L202.3,240.1 L202.8,233.3 L203.4,224.2 L203.9,213.4 L204.4,201.4 L204.9,189.0 L205.4,177.7 L205.4,177.7 L205.9,164.1 L206.4,149.1 L206.9,134.6 L207.4,121.6 L208.0,110.6 L208.5,102.4 L209.0,97.2 L209.5,95.5 L209.9,97.2 L210.4,102.4 L210.8,110.6 L211.3,121.6 L211.7,134.6 L212.2,149.1 L212.6,164.1 L213.1,177.7 L213.1,177.7 L213.5,189.8 L213.9,203.0 L214.4,215.8 L214.8,227.4 L215.3,237.1 L215.7,244.4 L216.2,249.0 L216.6,250.5 L217.1,249.0 L217.5,244.4 L218.0,237.1 L218.4,227.4 L218.9,215.8 L219.3,203.0 L219.8,189.8 L220.2,177.7 L220.2,177.7 L220.7,167.0 L221.2,155.2 L221.6,143.8 L222.1,133.4 L222.5,124.8 L223.0,118.3 L223.4,114.3 L223.9,112.9 L224.4,114.3 L225.0,118.3 L225.5,124.8 L226.0,133.4 L226.6,143.8 L227.1,155.2 L227.6,167.0 L228.2,177.7 L228.2,177.7 L228.7,188.2 L229.2,199.7 L229.7,210.8 L230.3,220.9 L230.8,229.3 L231.3,235.6 L231.9,239.6 L232.4,240.9 L232.9,239.6 L233.4,235.6 L233.8,229.3 L234.3,220.9 L234.8,210.8 L235.3,199.7 L235.8,188.2 L236.2,177.7 L236.2,177.7 L236.7,167.9 L237.2,157.1 L237.7,146.7 L238.2,137.3 L238.7,129.4 L239.1,123.4 L239.6,119.8 L240.1,118.5 L240.6,119.8 L241.2,123.4 L241.7,129.4 L242.2,137.3 L242.8,146.7 L243.3,157.1 L243.9,167.9 L244.4,177.7 L244.4,177.7 L244.9,187.1 L245.5,197.4 L246.0,207.4 L246.5,216.4 L247.1,223.9 L247.6,229.6 L248.2,233.1 L248.7,234.3 L249.1,233.1 L249.6,229.6 L250.0,223.9 L250.5,216.4 L250.9,207.4 L251.4,197.4 L251.8,187.1 L252.2,177.7 L252.2,177.7 L252.7,168.4 L253.1,158.2 L253.6,148.3 L254.0,139.3 L254.5,131.8 L254.9,126.2 L255.4,122.7 L255.8,121.5 L256.3,122.7 L256.9,126.2 L257.4,131.8 L258.0,139.3 L258.5,148.3 L259.0,158.2 L259.6,168.4 L260.1,177.7 L260.1,177.7 L260.6,186.3 L261.2,195.7 L261.7,204.8 L262.2,213.0 L262.8,219.9 L263.3,225.1 L263.9,228.3 L264.4,229.4 L264.8,228.3 L265.3,225.1 L265.8,219.9 L266.2,213.0 L266.6,204.8 L267.1,195.7 L267.6,186.3 L268.0,177.7 L268.0,177.7 L268.4,168.3 L268.9,158.0 L269.4,148.0 L269.8,139.0 L270.2,131.5 L270.7,125.8 L271.2,122.3 L271.6,121.1 L272.1,122.3 L272.6,125.8 L273.1,131.5 L273.7,139.0 L274.2,148.0 L274.7,158.0 L275.2,168.3 L275.7,177.7 L275.7,177.7 L276.2,186.3 L276.7,195.7 L277.2,204.8 L277.8,213.0 L278.3,219.9 L278.8,225.1 L279.3,228.3 L279.8,229.4 L280.3,228.3 L280.8,225.1 L281.3,219.9 L281.8,213.0 L282.3,204.8 L282.8,195.7 L283.3,186.3 L283.8,177.7 L283.8,177.7 L284.3,167.5 L284.8,156.4 L285.3,145.5 L285.8,135.8 L286.3,127.6 L286.8,121.4 L287.3,117.6 L287.8,116.3 L288.3,117.6 L288.8,121.4 L289.2,127.6 L289.7,135.8 L290.2,145.5 L290.7,156.4 L291.2,167.5 L291.6,177.7 L291.6,177.7 L292.1,186.2 L292.6,195.5 L293.1,204.6 L293.6,212.7 L294.1,219.6 L294.5,224.7 L295.0,227.9 L295.5,229.0 L296.0,227.9 L296.5,224.7 L297.0,219.6 L297.6,212.7 L298.1,204.6 L298.6,195.5 L299.1,186.2 L299.6,177.7 L299.6,177.7 L300.1,168.9 L300.6,159.3 L301.1,149.9 L301.6,141.5 L302.2,134.4 L302.7,129.1 L303.2,125.8 L303.7,124.7 L304.1,125.8 L304.6,129.1 L305.0,134.4 L305.5,141.5 L305.9,149.9 L306.4,159.3 L306.8,168.9 L307.3,177.7 L307.3,177.7 L307.7,185.9 L308.2,194.9 L308.6,203.6 L309.1,211.4 L309.5,218.0 L310.0,223.0 L310.4,226.1 L310.9,227.1 L311.4,226.1 L311.9,223.0 L312.4,218.0 L312.9,211.4 L313.4,203.6 L313.9,194.9 L314.4,185.9 L314.9,177.7 L314.9,177.7 L315.5,168.1 L316.0,157.5 L316.5,147.3 L317.0,138.0 L317.5,130.3 L318.0,124.4 L318.5,120.8 L319.0,119.6 L319.5,120.8 L319.9,124.4 L320.4,130.3 L320.9,138.0 L321.4,147.3 L321.9,157.5 L322.3,168.1 L322.8,177.7 L322.8,177.7 L323.3,186.3 L323.8,195.7 L324.2,204.8 L324.7,213.1 L325.2,220.0 L325.7,225.2 L326.1,228.4 L326.6,229.5 L327.1,228.4 L327.7,225.2 L328.2,220.0 L328.8,213.1 L329.3,204.8 L329.9,195.7 L330.4,186.3 L331.0,177.7 L331.0,177.7 L331.5,170.0 L332.0,161.5 L332.6,153.2 L333.1,145.8 L333.7,139.6 L334.2,134.9 L334.8,132.0 L335.3,131.0 L335.8,132.0 L336.2,134.9 L336.6,139.6 L337.1,145.8 L337.6,153.2 L338.0,161.5 L338.4,170.0 L338.9,177.7 L338.9,177.7 L339.3,186.1 L339.8,195.4 L340.2,204.3 L340.7,212.4 L341.1,219.2 L341.6,224.3 L342.1,227.4 L342.5,228.5 L343.1,227.4 L343.7,224.3 L344.3,219.2 L344.9,212.4 L345.4,204.3 L346.0,195.4 L346.6,186.1 L347.2,177.7 L347.2,177.7 L347.8,169.1 L348.4,159.6 L349.0,150.4 L349.5,142.0 L350.1,135.1 L350.7,129.9 L351.3,126.6 L351.9,125.5 L352.3,126.6 L352.7,129.9 L353.1,135.1 L353.5,142.0 L353.9,150.4 L354.3,159.6 L354.7,169.1 L355.0,177.7 L355.0,177.7 L355.4,187.3 L355.8,197.8 L356.2,208.0 L356.6,217.2 L357.0,224.9 L357.4,230.7 L357.8,234.3 L358.2,235.5 L358.8,234.3 L359.4,230.7 L360.0,224.9 L360.6,217.2 L361.3,208.0 L361.9,197.8 L362.5,187.3 L363.1,177.7 L363.1,177.7 L363.7,170.2 L364.3,162.0 L364.9,154.0 L365.6,146.8 L366.2,140.8 L366.8,136.3 L367.4,133.5 L368.0,132.5 L368.4,133.5 L368.8,136.3 L369.2,140.8 L369.6,146.8 L370.0,154.0 L370.4,162.0 L370.8,170.2 L371.2,177.7 L371.2,177.7 L371.7,185.7 L372.1,194.5 L372.5,203.1 L372.9,210.8 L373.3,217.2 L373.7,222.1 L374.1,225.1 L374.5,226.1 L375.1,225.1 L375.8,222.1 L376.4,217.2 L377.0,210.8 L377.7,203.1 L378.3,194.5 L378.9,185.7 L379.6,177.7 L379.6,177.7 L380.2,169.4 L380.8,160.2 L381.4,151.4 L382.1,143.4 L382.7,136.7 L383.3,131.7 L384.0,128.6 L384.6,127.5 L385.0,128.6 L385.4,131.7 L385.8,136.7 L386.2,143.4 L386.6,151.4 L387.0,160.2 L387.4,169.4 L387.8,177.7 L387.8,177.7 L388.1,185.8 L388.5,194.7 L388.9,203.3 L389.3,211.0 L389.7,217.5 L390.1,222.4 L390.5,225.5 L390.9,226.5 L391.5,225.5 L392.1,222.4 L392.8,217.5 L393.4,211.0 L394.0,203.3 L394.6,194.7 L395.3,185.8 L395.9,177.7 L395.9,177.7 L396.5,168.5 L397.1,158.3 L397.8,148.5 L398.4,139.6 L399.0,132.2 L399.6,126.6 L400.3,123.1 L400.9,121.9 L401.4,123.1 L401.8,126.6 L402.3,132.2 L402.7,139.6 L403.2,148.5 L403.6,158.3 L404.1,168.5 L404.5,177.7 L404.5,177.7 L405.0,184.6 L405.5,192.2 L405.9,199.6 L406.4,206.3 L406.8,211.8 L407.3,216.0 L407.7,218.6 L408.2,219.5 L408.7,218.6 L409.3,216.0 L409.8,211.8 L410.3,206.3 L410.9,199.6 L411.4,192.2 L411.9,184.6 L412.4,177.7 L412.4,177.7 L413.0,167.8 L413.5,156.9 L414.0,146.3 L414.6,136.8 L415.1,128.8 L415.6,122.8 L416.2,119.1 L416.7,117.8 L417.1,119.1 L417.6,122.8 L418.0,128.8 L418.4,136.8 L418.9,146.3 L419.3,156.9 L419.7,167.8 L420.1,177.7 L420.1,177.7 L420.6,187.6 L421.0,198.5 L421.4,209.0 L421.9,218.5 L422.3,226.5 L422.7,232.5 L423.2,236.2 L423.6,237.5 L424.1,236.2 L424.6,232.5 L425.1,226.5 L425.7,218.5 L426.2,209.0 L426.7,198.5 L427.2,187.6 L427.7,177.7 L427.7,177.7 L428.2,168.5 L428.7,158.3 L429.2,148.5 L429.8,139.6 L430.3,132.2 L430.8,126.6 L431.3,123.1 L431.8,121.9 L432.3,123.1 L432.8,126.6 L433.3,132.2 L433.9,139.6 L434.4,148.5 L434.9,158.3 L435.4,168.5 L435.9,177.7 L435.9,177.7 L436.4,187.6 L436.9,198.5 L437.4,209.0 L437.9,218.5 L438.5,226.5 L439.0,232.5 L439.5,236.2 L440.0,237.5 L440.5,236.2 L440.9,232.5 L441.4,226.5 L441.9,218.5 L442.3,209.0 L442.8,198.5 L443.3,187.6 L443.8,177.7 L443.8,177.7 L444.2,171.3 L444.7,164.4 L445.2,157.6 L445.6,151.5 L446.1,146.4 L446.6,142.5 L447.0,140.1 L447.5,139.3 L448.0,140.1 L448.5,142.5 L449.0,146.4 L449.5,151.5 L450.0,157.6 L450.5,164.4 L451.0,171.3 L451.4,177.7 L451.4,177.7 L451.9,186.8 L452.4,196.8 L452.9,206.5 L453.4,215.3 L453.9,222.6 L454.4,228.1 L454.9,231.5 L455.4,232.7 L455.9,231.5 L456.3,228.1 L456.8,222.6 L457.3,215.3 L457.8,206.5 L458.2,196.8 L458.7,186.8 L459.2,177.7 L459.2,177.7 L459.7,170.3 L460.1,162.1 L460.6,154.2 L461.1,147.0 L461.6,141.0 L462.1,136.5 L462.5,133.7 L463.0,132.8 L463.5,133.7 L464.0,136.5 L464.5,141.0 L465.0,147.0 L465.5,154.2 L466.0,162.1 L466.5,170.3 L467.0,177.7 L467.0,177.7 L467.5,186.8 L468.0,196.8 L468.5,206.4 L469.0,215.1 L469.5,222.4 L470.0,227.9 L470.5,231.3 L471.0,232.5 L471.5,231.3 L472.0,227.9 L472.4,222.4 L472.9,215.1 L473.4,206.4 L473.9,196.8 L474.4,186.8 L474.9,177.7 L474.9,177.7 L475.3,168.6 L475.8,158.5 L476.3,148.8 L476.8,140.0 L477.3,132.6 L477.7,127.1 L478.2,123.7 L478.7,122.5 L479.2,123.7 L479.8,127.1 L480.3,132.6 L480.9,140.0 L481.4,148.8 L482.0,158.5 L482.5,168.6 L483.0,177.7 L483.0,177.7 L483.6,185.5 L484.1,194.0 L484.7,202.2 L485.2,209.7 L485.8,215.9 L486.3,220.6 L486.9,223.5 L487.4,224.5 L487.9,223.5 L488.4,220.6 L488.9,215.9 L489.3,209.7 L489.8,202.2 L490.3,194.0 L490.8,185.5 L491.3,177.7 L491.3,177.7 L491.8,168.1 L492.3,157.5 L492.8,147.2 L493.2,137.9 L493.7,130.2 L494.2,124.4 L494.7,120.7 L495.2,119.5 L495.7,120.7 L496.2,124.4 L496.7,130.2 L497.2,137.9 L497.7,147.2 L498.2,157.5 L498.7,168.1 L499.1,177.7 L499.1,177.7 L499.6,186.0 L500.1,195.1 L500.6,203.9 L501.1,211.9 L501.6,218.6 L502.1,223.6 L502.6,226.7 L503.1,227.8 L503.6,226.7 L504.1,223.6 L504.6,218.6 L505.2,211.9 L505.7,203.9 L506.2,195.1 L506.7,186.0 L507.2,177.7 L507.2,177.7 L507.7,168.3 L508.2,158.0 L508.7,148.0 L509.2,139.0 L509.8,131.5 L510.3,125.8 L510.8,122.3 L511.3,121.1 L511.8,122.3 L512.2,125.8 L512.6,131.5 L513.1,139.0 L513.5,148.0 L514.0,158.0 L514.4,168.3 L514.9,177.7 L514.9,177.7 L515.4,186.8 L515.8,196.8 L516.2,206.5 L516.7,215.3 L517.1,222.6 L517.6,228.1 L518.0,231.5 L518.5,232.7 L518.8,231.5 L519.0,228.1 L519.3,222.6 L519.5,215.3 L519.8,206.5 L520.1,196.8 L520.3,186.8 L520.6,177.7" fill="none" stroke="#2ee02e" stroke-width="2" stroke-linejoin="round"/>
<line x1="73.2" y1="177.7" x2="520.6" y2="177.7" stroke="#2ee02e" stroke-width="3"/>
</g>

<line x1="73.2" y1="32.19999999999999" x2="88.2" y2="32.19999999999999" stroke="#555" stroke-width="1.5"/>
<line x1="88.2" y1="32.19999999999999" x2="520.6" y2="32.19999999999999" stroke="#8b93bd" stroke-width="1.3"/>
<line x1="73.2" y1="32.19999999999999" x2="73.2" y2="451.375" stroke="#3a4570" stroke-width="1.6"/>
<line x1="520.6" y1="32.19999999999999" x2="520.6" y2="451.375" stroke="#b6dcae" stroke-width="1.1"/>
<line x1="73.2" y1="451.375" x2="520.6" y2="451.375" stroke="#4a5a9a" stroke-width="1.6"/>
<line x1="73.2" y1="451.075" x2="88.2" y2="451.075" stroke="#e03030" stroke-width="1.4"/>


<rect x="240.2" y="40.4" width="262" height="34.6" fill="#fff" stroke="#5a64a0" stroke-width="1.4"/>
<line x1="502.2" y1="41" x2="502.2" y2="75.7" stroke="#707070" stroke-width="1.6"/>
<text x="246.5" y="63.8" class="lg" fill="#ee2222">u-Velocity</text>
<text x="333.5" y="63.8" class="lg" fill="#3030ee">v-Velocity</text>
<text x="419" y="63.8" class="lg" fill="#33dd33">w-Velocity</text>

<text transform="translate(64.5,72.7) scale(1.08,1)" text-anchor="end" class="tk">0.6</text>
<text transform="translate(64.5,127.3) scale(1.08,1)" text-anchor="end" class="tk">0.3</text>
<text transform="translate(64.5,182.0) scale(1.08,1)" text-anchor="end" class="tk">0</text>
<text transform="translate(64.5,236.7) scale(1.08,1)" text-anchor="end" class="tk">−0.3</text>
<text transform="translate(64.5,291.4) scale(1.08,1)" text-anchor="end" class="tk">−0.6</text>
<text transform="translate(64.5,346.0) scale(1.08,1)" text-anchor="end" class="tk">−0.9</text>
<text transform="translate(64.5,400.7) scale(1.08,1)" text-anchor="end" class="tk">−1.2</text>
<text transform="translate(64.5,455.4) scale(1.08,1)" text-anchor="end" class="tk">−1.5</text>

<text transform="translate(69.6,474.9) scale(1.08,1.04)" text-anchor="middle" class="tk">900</text>
<text transform="translate(115.2,474.9) scale(1.08,1.04)" text-anchor="middle" class="tk">930</text>
<text transform="translate(160.7,474.9) scale(1.08,1.04)" text-anchor="middle" class="tk">960</text>
<text transform="translate(206.3,474.9) scale(1.08,1.04)" text-anchor="middle" class="tk">990</text>
<text transform="translate(251.9,474.9) scale(1.08,1.04)" text-anchor="middle" class="tk">1020</text>
<text transform="translate(297.4,474.9) scale(1.08,1.04)" text-anchor="middle" class="tk">1050</text>
<text transform="translate(343.0,474.9) scale(1.08,1.04)" text-anchor="middle" class="tk">1080</text>
<text transform="translate(388.6,474.9) scale(1.08,1.04)" text-anchor="middle" class="tk">1110</text>
<text transform="translate(434.2,474.9) scale(1.08,1.04)" text-anchor="middle" class="tk">1140</text>
<text transform="translate(479.7,474.9) scale(1.08,1.04)" text-anchor="middle" class="tk">1170</text>
<text transform="translate(525.3,474.9) scale(1.08,1.04)" text-anchor="middle" class="tk">1200</text>

<text transform="translate(91.5,20.6) scale(1.034,1)" class="ti">H=6.4m, T=10.6s, Probe at [−113, −48, (−1.5<tspan dy="-3.5">~</tspan><tspan dy="3.5">−20.5)]</tspan></text>
<text transform="translate(302.3,499.1) scale(1.094,1)" text-anchor="middle" class="ti" style="font-size:17px">Time (sec)</text>
<text transform="translate(21,249) rotate(-90) scale(1.115,1)" text-anchor="middle" class="ti" style="font-size:17.5px">uvw-Velocity (m)</text>
</svg>
</body></html>
